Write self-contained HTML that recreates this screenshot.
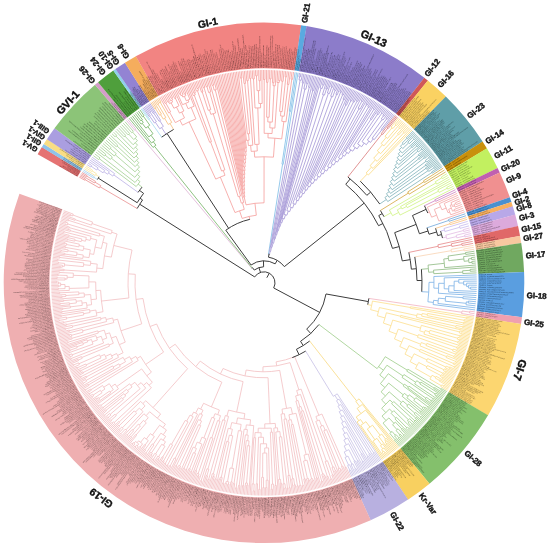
<!DOCTYPE html><html><head><meta charset="utf-8"><style>html,body{margin:0;padding:0;background:#fff;width:550px;height:548px;overflow:hidden}svg{display:block;filter:blur(0.35px)}text{font-family:"Liberation Sans",Arial,sans-serif}</style></head><body>
<svg width="550" height="548" viewBox="0 0 550 548">
<g>
<path d="M37.67 154.23A260.3 260.3 0 0 1 41.89 147.06L80.97 170.95A214.5 214.5 0 0 0 77.49 176.85Z" fill="#e57373"/>
<path d="M41.82 147.18A260.3 260.3 0 0 1 43.81 143.98L82.55 168.4A214.5 214.5 0 0 0 80.91 171.04Z" fill="#8ec3ea"/>
<path d="M43.74 144.09A260.3 260.3 0 0 1 47.01 139.02L85.19 164.32A214.5 214.5 0 0 0 82.49 168.5Z" fill="#f9dd84"/>
<path d="M46.94 139.13A260.3 260.3 0 0 1 54.57 128.22L91.42 155.42A214.5 214.5 0 0 0 85.13 164.41Z" fill="#aa9ee0"/>
<path d="M54.49 128.33A260.3 260.3 0 0 1 95.05 84.78L124.78 119.62A214.5 214.5 0 0 0 91.35 155.51Z" fill="#8cc478"/>
<path d="M94.95 84.87A260.3 260.3 0 0 1 98.18 82.15L127.36 117.45A214.5 214.5 0 0 0 124.69 119.69Z" fill="#d49ec8"/>
<path d="M98.08 82.24A260.3 260.3 0 0 1 113.32 70.54L139.84 107.89A214.5 214.5 0 0 0 127.27 117.52Z" fill="#4f9f3c"/>
<path d="M113.21 70.62A260.3 260.3 0 0 1 115.56 68.98L141.67 106.6A214.5 214.5 0 0 0 139.74 107.96Z" fill="#8fd0ea"/>
<path d="M115.44 69.05A260.3 260.3 0 0 1 125.02 62.71L149.48 101.43A214.5 214.5 0 0 0 141.58 106.66Z" fill="#9383d3"/>
<path d="M124.91 62.78A260.3 260.3 0 0 1 135.94 56.18L158.47 96.05A214.5 214.5 0 0 0 149.38 101.49Z" fill="#f5ad5d"/>
<path d="M135.82 56.25A260.3 260.3 0 0 1 301.26 25.18L294.71 70.51A214.5 214.5 0 0 0 158.38 96.11Z" fill="#f28482"/>
<path d="M301.13 25.16A260.3 260.3 0 0 1 306.65 26.02L299.14 71.2A214.5 214.5 0 0 0 294.59 70.49Z" fill="#5aaae0"/>
<path d="M306.51 26A260.3 260.3 0 0 1 424.36 77.76L396.15 113.84A214.5 214.5 0 0 0 299.03 71.18Z" fill="#8c7cca"/>
<path d="M424.26 77.68A260.3 260.3 0 0 1 427.92 80.59L399.08 116.17A214.5 214.5 0 0 0 396.06 113.77Z" fill="#d05858"/>
<path d="M427.81 80.51A260.3 260.3 0 0 1 445.9 96.6L413.89 129.36A214.5 214.5 0 0 0 398.99 116.1Z" fill="#fad262"/>
<path d="M445.8 96.51A260.3 260.3 0 0 1 482.63 141.53L444.16 166.38A214.5 214.5 0 0 0 413.81 129.28Z" fill="#5f9ea8"/>
<path d="M482.55 141.41A260.3 260.3 0 0 1 486.96 148.46L447.73 172.1A214.5 214.5 0 0 0 444.1 166.29Z" fill="#c8900c"/>
<path d="M486.89 148.35A260.3 260.3 0 0 1 497.62 168L456.51 188.2A214.5 214.5 0 0 0 447.67 172Z" fill="#c2f060"/>
<path d="M497.56 167.88A260.3 260.3 0 0 1 499.78 172.5L458.29 191.91A214.5 214.5 0 0 0 456.46 188.1Z" fill="#c060b0"/>
<path d="M499.72 172.38A260.3 260.3 0 0 1 509.87 197.32L466.61 212.36A214.5 214.5 0 0 0 458.24 191.81Z" fill="#f09090"/>
<path d="M509.82 197.2A260.3 260.3 0 0 1 511.46 202.06L467.92 216.27A214.5 214.5 0 0 0 466.57 212.26Z" fill="#4a90d0"/>
<path d="M511.42 201.93A260.3 260.3 0 0 1 512.83 206.39L469.05 219.84A214.5 214.5 0 0 0 467.89 216.16Z" fill="#f8b060"/>
<path d="M512.79 206.26A260.3 260.3 0 0 1 515.23 214.68L471.03 226.67A214.5 214.5 0 0 0 469.02 219.73Z" fill="#b8a8e8"/>
<path d="M515.19 214.55A260.3 260.3 0 0 1 518.06 226.15L473.36 236.12A214.5 214.5 0 0 0 471 226.56Z" fill="#dcaadc"/>
<path d="M518.03 226.02A260.3 260.3 0 0 1 520.05 235.94L475 244.19A214.5 214.5 0 0 0 473.33 236.01Z" fill="#e06868"/>
<path d="M520.02 235.81A260.3 260.3 0 0 1 521.26 243.11L475.99 250.1A214.5 214.5 0 0 0 474.98 244.08Z" fill="#f8c8a0"/>
<path d="M521.24 242.98A260.3 260.3 0 0 1 524.08 272.04L478.32 273.93A214.5 214.5 0 0 0 475.97 249.98Z" fill="#70a860"/>
<path d="M524.07 271.9A260.3 260.3 0 0 1 522 317.36L476.6 311.28A214.5 214.5 0 0 0 478.31 273.82Z" fill="#5a9ee0"/>
<path d="M522.01 317.23A260.3 260.3 0 0 1 521 324.1L475.78 316.84A214.5 214.5 0 0 0 476.62 311.17Z" fill="#f0a0b0"/>
<path d="M521.02 323.97A260.3 260.3 0 0 1 487.98 415.42L448.57 392.09A214.5 214.5 0 0 0 475.8 316.72Z" fill="#fcd670"/>
<path d="M488.05 415.3A260.3 260.3 0 0 1 429.47 483.74L400.35 448.38A214.5 214.5 0 0 0 448.63 391.99Z" fill="#84c06c"/>
<path d="M429.57 483.65A260.3 260.3 0 0 1 407.93 499.68L382.61 461.52A214.5 214.5 0 0 0 400.44 448.31Z" fill="#f8d060"/>
<path d="M408.05 499.61A260.3 260.3 0 0 1 370.58 520.28L351.83 478.5A214.5 214.5 0 0 0 382.7 461.46Z" fill="#b8b0e0"/>
<path d="M370.7 520.22A260.3 260.3 0 0 1 19.44 193.64L62.47 209.33A214.5 214.5 0 0 0 351.93 478.45Z" fill="#efafb1"/>
</g>
<g transform="translate(264 282.8)" font-size="1.4" fill-opacity="1.0">
<g fill="#402020">
<text transform="rotate(209.78)" dy=".35em" lengthAdjust="spacingAndGlyphs"><tspan x="215.1" textLength="9">WDO2HSODQ</tspan><tspan x="224.1" textLength="11.86" fill-opacity="0.85">2EN2BXH4UES</tspan></text>
<text transform="rotate(210.14)" dy=".35em" lengthAdjust="spacingAndGlyphs"><tspan x="215.1" textLength="9">NPPBBXXSS</tspan><tspan x="224.1" textLength="8.92" fill-opacity="0.85">58WXUWE6</tspan></text>
<text transform="rotate(210.5)" dy=".35em" lengthAdjust="spacingAndGlyphs"><tspan x="215.1" textLength="9">R3KA6BAK6</tspan><tspan x="224.1" textLength="4.49" fill-opacity="0.85">B6Q8</tspan></text>
<text transform="rotate(210.86)" dy=".35em" lengthAdjust="spacingAndGlyphs"><tspan x="215.1" textLength="9">UH3DBGDHD</tspan><tspan x="224.1" textLength="10.68" fill-opacity="0.85">EBNEUWO2OB</tspan></text>
<text transform="rotate(211.22)" dy=".35em" lengthAdjust="spacingAndGlyphs"><tspan x="215.1" textLength="9">3OND5EMMX</tspan><tspan x="224.1" textLength="12.53" fill-opacity="0.85">ASDRA4M686UM</tspan></text>
</g>
<g fill="#283742">
<text transform="rotate(211.6)" dy=".35em" lengthAdjust="spacingAndGlyphs"><tspan x="215.1" textLength="9">6QSHMGE2B</tspan><tspan x="224.1" textLength="11.77" fill-opacity="0.85">3OHRHERAXPP</tspan></text>
<text transform="rotate(212)" dy=".35em" lengthAdjust="spacingAndGlyphs"><tspan x="215.1" textLength="9">NSMDRHH5R</tspan><tspan x="224.1" textLength="12.07" fill-opacity="0.85">OSWOR8Q45QGR</tspan></text>
</g>
<g fill="#463e25">
<text transform="rotate(212.42)" dy=".35em" lengthAdjust="spacingAndGlyphs"><tspan x="215.1" textLength="9">URAUMR4SS</tspan><tspan x="224.1" textLength="6.93" fill-opacity="0.85">DKBE6D</tspan></text>
<text transform="rotate(212.85)" dy=".35em" lengthAdjust="spacingAndGlyphs"><tspan x="215.1" textLength="9">R35AUBQ38</tspan><tspan x="224.1" textLength="11.54" fill-opacity="0.85">4O5SBB4BHBU</tspan></text>
<text transform="rotate(213.28)" dy=".35em" lengthAdjust="spacingAndGlyphs"><tspan x="215.1" textLength="9">DAWRWSWDQ</tspan><tspan x="224.1" textLength="20.2" fill-opacity="0.85">5MHSWH64DWSNU0UEQ0SH</tspan></text>
</g>
<g fill="#302c3f">
<text transform="rotate(213.74)" dy=".35em" lengthAdjust="spacingAndGlyphs"><tspan x="215.1" textLength="9">UQWEHOBEK</tspan><tspan x="224.1" textLength="15" fill-opacity="0.85">X2DBBG4HODE6N5</tspan></text>
<text transform="rotate(214.23)" dy=".35em" lengthAdjust="spacingAndGlyphs"><tspan x="215.1" textLength="9">5BPHHDORS</tspan><tspan x="224.1" textLength="10.09" fill-opacity="0.85">EQWPMBBEN8</tspan></text>
<text transform="rotate(214.71)" dy=".35em" lengthAdjust="spacingAndGlyphs"><tspan x="215.1" textLength="9">R8EMM0R5Q</tspan><tspan x="224.1" textLength="11.31" fill-opacity="0.85">EES36R3HD86</tspan></text>
<text transform="rotate(215.19)" dy=".35em" lengthAdjust="spacingAndGlyphs"><tspan x="215.1" textLength="9">QDON25EPG</tspan><tspan x="224.1" textLength="9.86" fill-opacity="0.85">BQ42QE2R4</tspan></text>
<text transform="rotate(215.67)" dy=".35em" lengthAdjust="spacingAndGlyphs"><tspan x="215.1" textLength="9">55RQWODP6</tspan><tspan x="224.1" textLength="20.49" fill-opacity="0.85">5A5WDOBDPEB3ONWBMMQE</tspan></text>
<text transform="rotate(216.16)" dy=".35em" lengthAdjust="spacingAndGlyphs"><tspan x="215.1" textLength="9">W5OK6BM5Q</tspan><tspan x="224.1" textLength="11.6" fill-opacity="0.85">6RSQRARMHK0</tspan></text>
</g>
<g fill="#273722">
<text transform="rotate(216.7)" dy=".35em" lengthAdjust="spacingAndGlyphs"><tspan x="215.1" textLength="9">KDAMKGRHO</tspan><tspan x="224.1" textLength="13.47" fill-opacity="0.85">O0OP5NRUUHSKX</tspan></text>
<text transform="rotate(217.29)" dy=".35em" lengthAdjust="spacingAndGlyphs"><tspan x="215.1" textLength="9">EK4HOGPBM</tspan><tspan x="224.1" textLength="5.56" fill-opacity="0.85">M8RRB</tspan></text>
<text transform="rotate(217.89)" dy=".35em" lengthAdjust="spacingAndGlyphs"><tspan x="215.1" textLength="9">HP5RS503K</tspan><tspan x="224.1" textLength="23.96" fill-opacity="0.85">235WP2DOEUPDAMEMOSO2EOQ</tspan></text>
<text transform="rotate(218.48)" dy=".35em" lengthAdjust="spacingAndGlyphs"><tspan x="215.1" textLength="9">WDEHRM0OM</tspan><tspan x="224.1" textLength="20.96" fill-opacity="0.85">RXPEB25ABEEPB5MDWEXU</tspan></text>
<text transform="rotate(219.08)" dy=".35em" lengthAdjust="spacingAndGlyphs"><tspan x="215.1" textLength="9">EUWWERQBB</tspan><tspan x="224.1" textLength="13.53" fill-opacity="0.85">MQ6M8OONWRSKD</tspan></text>
<text transform="rotate(219.67)" dy=".35em" lengthAdjust="spacingAndGlyphs"><tspan x="215.1" textLength="9">QR3O4S52E</tspan><tspan x="224.1" textLength="29.53" fill-opacity="0.85">QEBD8HDOQRO85O2SEWD0MGD6UOD5K</tspan></text>
<text transform="rotate(220.27)" dy=".35em" lengthAdjust="spacingAndGlyphs"><tspan x="215.1" textLength="9">S2UXEM4BO</tspan><tspan x="224.1" textLength="16.95" fill-opacity="0.85">HNHSEEWBNK2RMQH2</tspan></text>
<text transform="rotate(220.87)" dy=".35em" lengthAdjust="spacingAndGlyphs"><tspan x="215.1" textLength="9">HH3HN6HEW</tspan><tspan x="224.1" textLength="15.74" fill-opacity="0.85">USGW0M8NMSKXDNB</tspan></text>
<text transform="rotate(221.46)" dy=".35em" lengthAdjust="spacingAndGlyphs"><tspan x="215.1" textLength="9">EWPB6N0OP</tspan><tspan x="224.1" textLength="16.14" fill-opacity="0.85">6QM3G8PPMQ2MM24H</tspan></text>
<text transform="rotate(222.06)" dy=".35em" lengthAdjust="spacingAndGlyphs"><tspan x="215.1" textLength="9">W5DNKH8EB</tspan><tspan x="224.1" textLength="14.37" fill-opacity="0.85">5PDNRDHM4NEP8K</tspan></text>
<text transform="rotate(222.65)" dy=".35em" lengthAdjust="spacingAndGlyphs"><tspan x="215.1" textLength="9">R85EKDDOH</tspan><tspan x="224.1" textLength="13.76" fill-opacity="0.85">PBM3D0WMPDWAB</tspan></text>
<text transform="rotate(223.25)" dy=".35em" lengthAdjust="spacingAndGlyphs"><tspan x="215.1" textLength="9">SN4WSRNMM</tspan><tspan x="224.1" textLength="9.13" fill-opacity="0.85">OA8N0OMSN</tspan></text>
<text transform="rotate(223.84)" dy=".35em" lengthAdjust="spacingAndGlyphs"><tspan x="215.1" textLength="9">SQRBNPHHX</tspan><tspan x="224.1" textLength="9.76" fill-opacity="0.85">BE2QBGOXW</tspan></text>
<text transform="rotate(224.44)" dy=".35em" lengthAdjust="spacingAndGlyphs"><tspan x="215.1" textLength="9">WB2DB2HRG</tspan><tspan x="224.1" textLength="14.11" fill-opacity="0.85">BRR2REENSGN5W8</tspan></text>
<text transform="rotate(225.03)" dy=".35em" lengthAdjust="spacingAndGlyphs"><tspan x="215.1" textLength="9">MWEBNSUED</tspan><tspan x="224.1" textLength="15.59" fill-opacity="0.85">8D6SESQGNHRHDDW</tspan></text>
<text transform="rotate(225.63)" dy=".35em" lengthAdjust="spacingAndGlyphs"><tspan x="215.1" textLength="9">DMBH6B42K</tspan><tspan x="224.1" textLength="14.58" fill-opacity="0.85">EM6BXQWMO2AMGB</tspan></text>
<text transform="rotate(226.23)" dy=".35em" lengthAdjust="spacingAndGlyphs"><tspan x="215.1" textLength="9">WX8E8ND2N</tspan><tspan x="224.1" textLength="15.08" fill-opacity="0.85">X564KSKHU0KHH0M</tspan></text>
<text transform="rotate(226.82)" dy=".35em" lengthAdjust="spacingAndGlyphs"><tspan x="215.1" textLength="9">26H4MAUHD</tspan><tspan x="224.1" textLength="16.28" fill-opacity="0.85">RO5UMW8NAKHRPWK8</tspan></text>
<text transform="rotate(227.42)" dy=".35em" lengthAdjust="spacingAndGlyphs"><tspan x="215.1" textLength="9">E0QNBWSOM</tspan><tspan x="224.1" textLength="15.57" fill-opacity="0.85">ARDNN8UNDNKWX8D</tspan></text>
<text transform="rotate(228.01)" dy=".35em" lengthAdjust="spacingAndGlyphs"><tspan x="215.1" textLength="9">M2GOEBODP</tspan><tspan x="224.1" textLength="17.9" fill-opacity="0.85">BREAKR5DOQBWAER5R</tspan></text>
<text transform="rotate(228.61)" dy=".35em" lengthAdjust="spacingAndGlyphs"><tspan x="215.1" textLength="9">MO5HAKWMH</tspan><tspan x="224.1" textLength="17.21" fill-opacity="0.85">0H24KR4NQMUE2MNBP</tspan></text>
<text transform="rotate(229.2)" dy=".35em" lengthAdjust="spacingAndGlyphs"><tspan x="215.1" textLength="9">RDDD3OEWM</tspan><tspan x="224.1" textLength="13.03" fill-opacity="0.85">HXWNBQWM4QSDH</tspan></text>
</g>
<g fill="#3b2c38">
<text transform="rotate(229.73)" dy=".35em" lengthAdjust="spacingAndGlyphs"><tspan x="215.1" textLength="9">SMEXDHHME</tspan><tspan x="224.1" textLength="11.99" fill-opacity="0.85">BSAR6WMKDXG</tspan></text>
<text transform="rotate(230.17)" dy=".35em" lengthAdjust="spacingAndGlyphs"><tspan x="215.1" textLength="9">QD5BOSOKK</tspan><tspan x="224.1" textLength="9.79" fill-opacity="0.85">EEHRWDR8O</tspan></text>
</g>
<g fill="#162d11">
<text transform="rotate(230.66)" dy=".35em" lengthAdjust="spacingAndGlyphs"><tspan x="215.1" textLength="9">DDBUMM4PD</tspan><tspan x="224.1" textLength="13.37" fill-opacity="0.85">AXR5WM5ONGD6D</tspan></text>
<text transform="rotate(231.19)" dy=".35em" lengthAdjust="spacingAndGlyphs"><tspan x="215.1" textLength="9">N2P3DBEP2</tspan><tspan x="224.1" textLength="24.51" fill-opacity="0.85">QHBBXH0S26HS2EEBD6NNNODW</tspan></text>
<text transform="rotate(231.71)" dy=".35em" lengthAdjust="spacingAndGlyphs"><tspan x="215.1" textLength="9">EE6SKNHXW</tspan><tspan x="224.1" textLength="15.2" fill-opacity="0.85">ENS6DHPOBKRBXOE</tspan></text>
<text transform="rotate(232.24)" dy=".35em" lengthAdjust="spacingAndGlyphs"><tspan x="215.1" textLength="9">ARDA34QRO</tspan><tspan x="224.1" textLength="4.83" fill-opacity="0.85">33D3</tspan></text>
<text transform="rotate(232.76)" dy=".35em" lengthAdjust="spacingAndGlyphs"><tspan x="215.1" textLength="9">23NUPHBOB</tspan><tspan x="224.1" textLength="15.44" fill-opacity="0.85">OEREDHOHWN0OKME</tspan></text>
<text transform="rotate(233.29)" dy=".35em" lengthAdjust="spacingAndGlyphs"><tspan x="215.1" textLength="9">WK4OG63O6</tspan><tspan x="224.1" textLength="7.51" fill-opacity="0.85">6B8WROE</tspan></text>
<text transform="rotate(233.81)" dy=".35em" lengthAdjust="spacingAndGlyphs"><tspan x="215.1" textLength="9">38XOMRBMM</tspan><tspan x="224.1" textLength="13.26" fill-opacity="0.85">NWGUWPRSSNBDR</tspan></text>
<text transform="rotate(234.34)" dy=".35em" lengthAdjust="spacingAndGlyphs"><tspan x="215.1" textLength="9">SX2SH385N</tspan><tspan x="224.1" textLength="15.09" fill-opacity="0.85">W3MBW3RMOOANN5U</tspan></text>
</g>
<g fill="#283a42">
<text transform="rotate(234.75)" dy=".35em" lengthAdjust="spacingAndGlyphs"><tspan x="215.1" textLength="9">EUA3NHAN6</tspan><tspan x="224.1" textLength="7.83" fill-opacity="0.85">K5AHHKK</tspan></text>
<text transform="rotate(235.05)" dy=".35em" lengthAdjust="spacingAndGlyphs"><tspan x="215.1" textLength="9">NSHNOHK0H</tspan><tspan x="224.1" textLength="9.39" fill-opacity="0.85">D5NS8DKOE</tspan></text>
</g>
<g fill="#29253b">
<text transform="rotate(235.38)" dy=".35em" lengthAdjust="spacingAndGlyphs"><tspan x="215.1" textLength="9">ONMEMO46O</tspan><tspan x="224.1" textLength="6.61" fill-opacity="0.85">MEXSPE</tspan></text>
<text transform="rotate(235.74)" dy=".35em" lengthAdjust="spacingAndGlyphs"><tspan x="215.1" textLength="9">W8WKP6HO6</tspan><tspan x="224.1" textLength="9.4" fill-opacity="0.85">NS35S3OQG</tspan></text>
<text transform="rotate(236.09)" dy=".35em" lengthAdjust="spacingAndGlyphs"><tspan x="215.1" textLength="9">PWONN0P2S</tspan><tspan x="224.1" textLength="11.26" fill-opacity="0.85">MN3OSQN63BH</tspan></text>
<text transform="rotate(236.45)" dy=".35em" lengthAdjust="spacingAndGlyphs"><tspan x="215.1" textLength="9">XDAQRW5AH</tspan><tspan x="224.1" textLength="11.04" fill-opacity="0.85">5PWH5HDP5WE</tspan></text>
<text transform="rotate(236.81)" dy=".35em" lengthAdjust="spacingAndGlyphs"><tspan x="215.1" textLength="9">6H5HOAWS8</tspan><tspan x="224.1" textLength="7.66" fill-opacity="0.85">BSRBQOD</tspan></text>
<text transform="rotate(237.16)" dy=".35em" lengthAdjust="spacingAndGlyphs"><tspan x="215.1" textLength="9">QOWSSS2GN</tspan><tspan x="224.1" textLength="5.21" fill-opacity="0.85">EH04B</tspan></text>
<text transform="rotate(237.52)" dy=".35em" lengthAdjust="spacingAndGlyphs"><tspan x="215.1" textLength="9">KSDM60NDN</tspan><tspan x="224.1" textLength="9.64" fill-opacity="0.85">H3WBRMHOB</tspan></text>
</g>
<g fill="#45301a">
<text transform="rotate(237.9)" dy=".35em" lengthAdjust="spacingAndGlyphs"><tspan x="215.1" textLength="9">UONQQ5WKD</tspan><tspan x="224.1" textLength="9.44" fill-opacity="0.85">OXDNSWKAW</tspan></text>
<text transform="rotate(238.3)" dy=".35em" lengthAdjust="spacingAndGlyphs"><tspan x="215.1" textLength="9">MU0GBEMH6</tspan><tspan x="224.1" textLength="4.22" fill-opacity="0.85">WEGS</tspan></text>
<text transform="rotate(238.7)" dy=".35em" lengthAdjust="spacingAndGlyphs"><tspan x="215.1" textLength="9">EWXPGNRHD</tspan><tspan x="224.1" textLength="9.1" fill-opacity="0.85">4OWW4M0MH</tspan></text>
<text transform="rotate(239.1)" dy=".35em" lengthAdjust="spacingAndGlyphs"><tspan x="215.1" textLength="9">NWW83EWSD</tspan><tspan x="224.1" textLength="12.56" fill-opacity="0.85">NMDR5UBRMNBO</tspan></text>
<text transform="rotate(239.5)" dy=".35em" lengthAdjust="spacingAndGlyphs"><tspan x="215.1" textLength="9">8MRRDBHDQ</tspan><tspan x="224.1" textLength="21.51" fill-opacity="0.85">3NAHSGMND0Q5NSKQ0M8NM</tspan></text>
<text transform="rotate(239.9)" dy=".35em" lengthAdjust="spacingAndGlyphs"><tspan x="215.1" textLength="9">8BE6OWMME</tspan><tspan x="224.1" textLength="10.39" fill-opacity="0.85">RSQXN6RM4N</tspan></text>
<text transform="rotate(240.3)" dy=".35em" lengthAdjust="spacingAndGlyphs"><tspan x="215.1" textLength="9">W25M6KE5H</tspan><tspan x="224.1" textLength="12.87" fill-opacity="0.85">NSBMMAXBNO8N</tspan></text>
</g>
<g fill="#442524">
<text transform="rotate(240.71)" dy=".35em" lengthAdjust="spacingAndGlyphs"><tspan x="215.1" textLength="9">ENH0563OS</tspan><tspan x="224.1" textLength="12.76" fill-opacity="0.85">WBSSMSNHWGMO</tspan></text>
<text transform="rotate(241.14)" dy=".35em" lengthAdjust="spacingAndGlyphs"><tspan x="215.1" textLength="9">E6DHNUBNR</tspan><tspan x="224.1" textLength="12.49" fill-opacity="0.85">6ENHKM555M0E</tspan></text>
<text transform="rotate(241.57)" dy=".35em" lengthAdjust="spacingAndGlyphs"><tspan x="215.1" textLength="9">AWSGOOEUD</tspan><tspan x="224.1" textLength="11.8" fill-opacity="0.85">Q8MON4DAOEG</tspan></text>
<text transform="rotate(242)" dy=".35em" lengthAdjust="spacingAndGlyphs"><tspan x="215.1" textLength="9">PROB4UUHB</tspan><tspan x="224.1" textLength="26.17" fill-opacity="0.85">G83WRMWOO5EEWWG2RSDO6NAABS</tspan></text>
<text transform="rotate(242.43)" dy=".35em" lengthAdjust="spacingAndGlyphs"><tspan x="215.1" textLength="9">WRE4QWXE0</tspan><tspan x="224.1" textLength="16.43" fill-opacity="0.85">A80DODEOWN6O2KOB</tspan></text>
<text transform="rotate(242.86)" dy=".35em" lengthAdjust="spacingAndGlyphs"><tspan x="215.1" textLength="9">S46KGU2RB</tspan><tspan x="224.1" textLength="11.59" fill-opacity="0.85">6Q0HXEN5RE3</tspan></text>
<text transform="rotate(243.28)" dy=".35em" lengthAdjust="spacingAndGlyphs"><tspan x="215.1" textLength="9">M28D2RBB8</tspan><tspan x="224.1" textLength="4.07" fill-opacity="0.85">WGB8</tspan></text>
<text transform="rotate(243.71)" dy=".35em" lengthAdjust="spacingAndGlyphs"><tspan x="215.1" textLength="9">5NRBW0B6M</tspan><tspan x="224.1" textLength="11.4" fill-opacity="0.85">02XEX5PXSOR</tspan></text>
<text transform="rotate(244.14)" dy=".35em" lengthAdjust="spacingAndGlyphs"><tspan x="215.1" textLength="9">63MUONBQW</tspan><tspan x="224.1" textLength="12.49" fill-opacity="0.85">B6BSS6E4QAPW</tspan></text>
<text transform="rotate(244.57)" dy=".35em" lengthAdjust="spacingAndGlyphs"><tspan x="215.1" textLength="9">WNDRU5DW4</tspan><tspan x="224.1" textLength="13.07" fill-opacity="0.85">S4G4MB6O2D04E</tspan></text>
<text transform="rotate(245)" dy=".35em" lengthAdjust="spacingAndGlyphs"><tspan x="215.1" textLength="9">QGRRGQHGE</tspan><tspan x="224.1" textLength="11.61" fill-opacity="0.85">WS3ASUDMSE0</tspan></text>
<text transform="rotate(245.43)" dy=".35em" lengthAdjust="spacingAndGlyphs"><tspan x="215.1" textLength="9">H50HRQWUO</tspan><tspan x="224.1" textLength="14.16" fill-opacity="0.85">QRN2280RMONOBR</tspan></text>
<text transform="rotate(245.86)" dy=".35em" lengthAdjust="spacingAndGlyphs"><tspan x="215.1" textLength="9">POEKMNUOD</tspan><tspan x="224.1" textLength="7.71" fill-opacity="0.85">AMWA0SR</tspan></text>
<text transform="rotate(246.28)" dy=".35em" lengthAdjust="spacingAndGlyphs"><tspan x="215.1" textLength="9">8H8BREXW3</tspan><tspan x="224.1" textLength="14.46" fill-opacity="0.85">4602NKRQ0AH3XD</tspan></text>
<text transform="rotate(246.71)" dy=".35em" lengthAdjust="spacingAndGlyphs"><tspan x="215.1" textLength="9">R2852B25N</tspan><tspan x="224.1" textLength="11.88" fill-opacity="0.85">Q3OW4ERNNN6</tspan></text>
<text transform="rotate(247.14)" dy=".35em" lengthAdjust="spacingAndGlyphs"><tspan x="215.1" textLength="9">088UEMMEB</tspan><tspan x="224.1" textLength="12.99" fill-opacity="0.85">O3WGMNB86OPR</tspan></text>
<text transform="rotate(247.57)" dy=".35em" lengthAdjust="spacingAndGlyphs"><tspan x="215.1" textLength="9">64MMMWBOQ</tspan><tspan x="224.1" textLength="15.02" fill-opacity="0.85">6QN6WK2MON2SEWW</tspan></text>
<text transform="rotate(248)" dy=".35em" lengthAdjust="spacingAndGlyphs"><tspan x="215.1" textLength="9">WWDWRDDOG</tspan><tspan x="224.1" textLength="13.61" fill-opacity="0.85">HBOA08R3X0RQ3</tspan></text>
<text transform="rotate(248.43)" dy=".35em" lengthAdjust="spacingAndGlyphs"><tspan x="215.1" textLength="9">5MEOHUH0M</tspan><tspan x="224.1" textLength="3.66" fill-opacity="0.85">WRX</tspan></text>
<text transform="rotate(248.85)" dy=".35em" lengthAdjust="spacingAndGlyphs"><tspan x="215.1" textLength="9">WMU0NRPNS</tspan><tspan x="224.1" textLength="13.68" fill-opacity="0.85">DQOO6KO8D2KS4</tspan></text>
<text transform="rotate(249.28)" dy=".35em" lengthAdjust="spacingAndGlyphs"><tspan x="215.1" textLength="9">6WEBDBS0E</tspan><tspan x="224.1" textLength="12.16" fill-opacity="0.85">WHD4HH0UDAEN</tspan></text>
<text transform="rotate(249.71)" dy=".35em" lengthAdjust="spacingAndGlyphs"><tspan x="215.1" textLength="9">MWQOMWD0G</tspan><tspan x="224.1" textLength="14.76" fill-opacity="0.85">OEE80BSHA46R8S</tspan></text>
<text transform="rotate(250.14)" dy=".35em" lengthAdjust="spacingAndGlyphs"><tspan x="215.1" textLength="9">EO80MRB6M</tspan><tspan x="224.1" textLength="14.69" fill-opacity="0.85">6RASRSQWGN4DWN</tspan></text>
<text transform="rotate(250.57)" dy=".35em" lengthAdjust="spacingAndGlyphs"><tspan x="215.1" textLength="9">DA3DDBMOW</tspan><tspan x="224.1" textLength="11.12" fill-opacity="0.85">0U85XGSPQ5G</tspan></text>
<text transform="rotate(251)" dy=".35em" lengthAdjust="spacingAndGlyphs"><tspan x="215.1" textLength="9">38AE5GQ23</tspan><tspan x="224.1" textLength="11.92" fill-opacity="0.85">KNMNHNDPRHE</tspan></text>
<text transform="rotate(251.42)" dy=".35em" lengthAdjust="spacingAndGlyphs"><tspan x="215.1" textLength="9">3OWWORPKB</tspan><tspan x="224.1" textLength="12.16" fill-opacity="0.85">5P0HEOPNKXNK</tspan></text>
<text transform="rotate(251.85)" dy=".35em" lengthAdjust="spacingAndGlyphs"><tspan x="215.1" textLength="9">WX0MSR6O0</tspan><tspan x="224.1" textLength="10.37" fill-opacity="0.85">PRDRDPH4PE</tspan></text>
<text transform="rotate(252.28)" dy=".35em" lengthAdjust="spacingAndGlyphs"><tspan x="215.1" textLength="9">SBOQRH08B</tspan><tspan x="224.1" textLength="10.54" fill-opacity="0.85">QMODDWNPA8</tspan></text>
<text transform="rotate(252.71)" dy=".35em" lengthAdjust="spacingAndGlyphs"><tspan x="215.1" textLength="9">MA4EKOKKK</tspan><tspan x="224.1" textLength="13.47" fill-opacity="0.85">SRKWRMBE2DWWM</tspan></text>
<text transform="rotate(253.14)" dy=".35em" lengthAdjust="spacingAndGlyphs"><tspan x="215.1" textLength="9">64EHE08PR</tspan><tspan x="224.1" textLength="25.04" fill-opacity="0.85">BWNWHBD3RRRKNK8UWEKD8NOQB</tspan></text>
<text transform="rotate(253.57)" dy=".35em" lengthAdjust="spacingAndGlyphs"><tspan x="215.1" textLength="9">OD2EBOEOW</tspan><tspan x="224.1" textLength="11.51" fill-opacity="0.85">Q840DOX2WUW</tspan></text>
<text transform="rotate(253.99)" dy=".35em" lengthAdjust="spacingAndGlyphs"><tspan x="215.1" textLength="9">QD4QXB0DM</tspan><tspan x="224.1" textLength="13.22" fill-opacity="0.85">RRE3UAN83WDDU</tspan></text>
<text transform="rotate(254.42)" dy=".35em" lengthAdjust="spacingAndGlyphs"><tspan x="215.1" textLength="9">R2AHSW53R</tspan><tspan x="224.1" textLength="13.87" fill-opacity="0.85">ONKOWP3D4HN0Q</tspan></text>
<text transform="rotate(254.85)" dy=".35em" lengthAdjust="spacingAndGlyphs"><tspan x="215.1" textLength="9">US3DWMDE4</tspan><tspan x="224.1" textLength="11.49" fill-opacity="0.85">AH0DOBO8SOA</tspan></text>
<text transform="rotate(255.28)" dy=".35em" lengthAdjust="spacingAndGlyphs"><tspan x="215.1" textLength="9">REM6RXM3E</tspan><tspan x="224.1" textLength="12.59" fill-opacity="0.85">KDAMD3WN3P3R</tspan></text>
<text transform="rotate(255.71)" dy=".35em" lengthAdjust="spacingAndGlyphs"><tspan x="215.1" textLength="9">MSDKP34MO</tspan><tspan x="224.1" textLength="17.07" fill-opacity="0.85">E5GNM2MPXD0S24ESO</tspan></text>
<text transform="rotate(256.14)" dy=".35em" lengthAdjust="spacingAndGlyphs"><tspan x="215.1" textLength="9">EP4BMSASG</tspan><tspan x="224.1" textLength="14.36" fill-opacity="0.85">KEO5UDRSWDNRKA</tspan></text>
<text transform="rotate(256.57)" dy=".35em" lengthAdjust="spacingAndGlyphs"><tspan x="215.1" textLength="9">NB6SQNHBD</tspan><tspan x="224.1" textLength="11.51" fill-opacity="0.85">R322URU3MRN</tspan></text>
<text transform="rotate(256.99)" dy=".35em" lengthAdjust="spacingAndGlyphs"><tspan x="215.1" textLength="9">HWERUDWB5</tspan><tspan x="224.1" textLength="15.11" fill-opacity="0.85">XGBPN3RMOASKXNW</tspan></text>
<text transform="rotate(257.42)" dy=".35em" lengthAdjust="spacingAndGlyphs"><tspan x="215.1" textLength="9">ROKR4KRMN</tspan><tspan x="224.1" textLength="14.84" fill-opacity="0.85">M3MO00QMRKGO68</tspan></text>
<text transform="rotate(257.85)" dy=".35em" lengthAdjust="spacingAndGlyphs"><tspan x="215.1" textLength="9">PD4BKNE0O</tspan><tspan x="224.1" textLength="10.4" fill-opacity="0.85">MR2AMGXUB8</tspan></text>
<text transform="rotate(258.28)" dy=".35em" lengthAdjust="spacingAndGlyphs"><tspan x="215.1" textLength="9">WRWK8M5R3</tspan><tspan x="224.1" textLength="11.45" fill-opacity="0.85">B3DDWHEPE6S</tspan></text>
<text transform="rotate(258.71)" dy=".35em" lengthAdjust="spacingAndGlyphs"><tspan x="215.1" textLength="9">PAH2AG226</tspan><tspan x="224.1" textLength="5.17" fill-opacity="0.85">RPWXG</tspan></text>
<text transform="rotate(259.14)" dy=".35em" lengthAdjust="spacingAndGlyphs"><tspan x="215.1" textLength="9">S6MEM4ARM</tspan><tspan x="224.1" textLength="14.28" fill-opacity="0.85">XDQARWDGES56NM</tspan></text>
<text transform="rotate(259.56)" dy=".35em" lengthAdjust="spacingAndGlyphs"><tspan x="215.1" textLength="9">NMDEAMN4S</tspan><tspan x="224.1" textLength="18" fill-opacity="0.85">DGHE4NSWESBDXRMW3P</tspan></text>
<text transform="rotate(259.99)" dy=".35em" lengthAdjust="spacingAndGlyphs"><tspan x="215.1" textLength="9">6E5HNUP5P</tspan><tspan x="224.1" textLength="14.05" fill-opacity="0.85">B2WNS2RRSP00R6</tspan></text>
<text transform="rotate(260.42)" dy=".35em" lengthAdjust="spacingAndGlyphs"><tspan x="215.1" textLength="9">8MWUEU6RO</tspan><tspan x="224.1" textLength="11.42" fill-opacity="0.85">H44R6HBM0WW</tspan></text>
<text transform="rotate(260.85)" dy=".35em" lengthAdjust="spacingAndGlyphs"><tspan x="215.1" textLength="9">XS0WAUGOD</tspan><tspan x="224.1" textLength="11.65" fill-opacity="0.85">BUOSBGSH2WB</tspan></text>
<text transform="rotate(261.28)" dy=".35em" lengthAdjust="spacingAndGlyphs"><tspan x="215.1" textLength="9">KKRXPMXGM</tspan><tspan x="224.1" textLength="11.56" fill-opacity="0.85">ORUNAB446MN</tspan></text>
<text transform="rotate(261.71)" dy=".35em" lengthAdjust="spacingAndGlyphs"><tspan x="215.1" textLength="9">B5AMORBQ5</tspan><tspan x="224.1" textLength="9.06" fill-opacity="0.85">XKEMW2SUA</tspan></text>
<text transform="rotate(262.13)" dy=".35em" lengthAdjust="spacingAndGlyphs"><tspan x="215.1" textLength="9">MHB3H6OBM</tspan><tspan x="224.1" textLength="10.46" fill-opacity="0.85">SAHBD6DUHB</tspan></text>
<text transform="rotate(262.56)" dy=".35em" lengthAdjust="spacingAndGlyphs"><tspan x="215.1" textLength="9">O2BSMWWSQ</tspan><tspan x="224.1" textLength="19.42" fill-opacity="0.85">38NQH33S56SW4XEWRE6</tspan></text>
<text transform="rotate(262.99)" dy=".35em" lengthAdjust="spacingAndGlyphs"><tspan x="215.1" textLength="9">SQDOSG4SM</tspan><tspan x="224.1" textLength="15.01" fill-opacity="0.85">5BWRRDBEP4OGN6W</tspan></text>
<text transform="rotate(263.42)" dy=".35em" lengthAdjust="spacingAndGlyphs"><tspan x="215.1" textLength="9">MW88POGX2</tspan><tspan x="224.1" textLength="8.27" fill-opacity="0.85">DEDWSGHA</tspan></text>
<text transform="rotate(263.85)" dy=".35em" lengthAdjust="spacingAndGlyphs"><tspan x="215.1" textLength="9">DWQKDA0NQ</tspan><tspan x="224.1" textLength="21.96" fill-opacity="0.85">SWWWQHWOS2BOEWESQMGNO</tspan></text>
<text transform="rotate(264.28)" dy=".35em" lengthAdjust="spacingAndGlyphs"><tspan x="215.1" textLength="9">W3UW2EMUO</tspan><tspan x="224.1" textLength="11.53" fill-opacity="0.85">EXKMSHEGMWR</tspan></text>
<text transform="rotate(264.71)" dy=".35em" lengthAdjust="spacingAndGlyphs"><tspan x="215.1" textLength="9">3W38QKPOA</tspan><tspan x="224.1" textLength="11.78" fill-opacity="0.85">ORODMHD6N33</tspan></text>
<text transform="rotate(265.13)" dy=".35em" lengthAdjust="spacingAndGlyphs"><tspan x="215.1" textLength="9">AN3WQNP55</tspan><tspan x="224.1" textLength="24.87" fill-opacity="0.85">O6DPQNDU434GHGUEKOSEHEM5</tspan></text>
<text transform="rotate(265.56)" dy=".35em" lengthAdjust="spacingAndGlyphs"><tspan x="215.1" textLength="9">EHBBDSWHM</tspan><tspan x="224.1" textLength="14.42" fill-opacity="0.85">PW5D0NHUKADEHD</tspan></text>
<text transform="rotate(265.99)" dy=".35em" lengthAdjust="spacingAndGlyphs"><tspan x="215.1" textLength="9">DPMPS6N0X</tspan><tspan x="224.1" textLength="9.11" fill-opacity="0.85">HDO3KRPES</tspan></text>
<text transform="rotate(266.42)" dy=".35em" lengthAdjust="spacingAndGlyphs"><tspan x="215.1" textLength="9">KS65XR2UR</tspan><tspan x="224.1" textLength="13.83" fill-opacity="0.85">M3REOWAWSWE2W</tspan></text>
<text transform="rotate(266.85)" dy=".35em" lengthAdjust="spacingAndGlyphs"><tspan x="215.1" textLength="9">E6U0OGE6O</tspan><tspan x="224.1" textLength="12.88" fill-opacity="0.85">XDGKHASNHHHW</tspan></text>
<text transform="rotate(267.28)" dy=".35em" lengthAdjust="spacingAndGlyphs"><tspan x="215.1" textLength="9">SSU04XOBQ</tspan><tspan x="224.1" textLength="13.08" fill-opacity="0.85">84XH2Q0WDOS3H</tspan></text>
<text transform="rotate(267.7)" dy=".35em" lengthAdjust="spacingAndGlyphs"><tspan x="215.1" textLength="9">DQARDU38R</tspan><tspan x="224.1" textLength="14.47" fill-opacity="0.85">H5OHUE5HONMPR0</tspan></text>
<text transform="rotate(268.13)" dy=".35em" lengthAdjust="spacingAndGlyphs"><tspan x="215.1" textLength="9">20SQ6H5NH</tspan><tspan x="224.1" textLength="14.93" fill-opacity="0.85">RDR0N8DPBDR53D</tspan></text>
<text transform="rotate(268.56)" dy=".35em" lengthAdjust="spacingAndGlyphs"><tspan x="215.1" textLength="9">B3BOUOB2A</tspan><tspan x="224.1" textLength="11.39" fill-opacity="0.85">HA8UMAMRWSE</tspan></text>
<text transform="rotate(268.99)" dy=".35em" lengthAdjust="spacingAndGlyphs"><tspan x="215.1" textLength="9">UQ5GNEGAU</tspan><tspan x="224.1" textLength="22.78" fill-opacity="0.85">A02OXQ6BHEON5MOEKKM865</tspan></text>
<text transform="rotate(269.42)" dy=".35em" lengthAdjust="spacingAndGlyphs"><tspan x="215.1" textLength="9">NN0WXOWBG</tspan><tspan x="224.1" textLength="6.04" fill-opacity="0.85">AUSM6S</tspan></text>
<text transform="rotate(269.85)" dy=".35em" lengthAdjust="spacingAndGlyphs"><tspan x="215.1" textLength="9">PABS68BAA</tspan><tspan x="224.1" textLength="13.57" fill-opacity="0.85">QSXH8WDGOMHBN</tspan></text>
<text transform="rotate(270.27)" dy=".35em" lengthAdjust="spacingAndGlyphs"><tspan x="215.1" textLength="9">GURBHM4OA</tspan><tspan x="224.1" textLength="3.91" fill-opacity="0.85">EGM</tspan></text>
<text transform="rotate(270.7)" dy=".35em" lengthAdjust="spacingAndGlyphs"><tspan x="215.1" textLength="9">3NNOEEWBO</tspan><tspan x="224.1" textLength="12.96" fill-opacity="0.85">U3QNDWB3RXWN</tspan></text>
<text transform="rotate(271.13)" dy=".35em" lengthAdjust="spacingAndGlyphs"><tspan x="215.1" textLength="9">KEXNOQM2U</tspan><tspan x="224.1" textLength="11.81" fill-opacity="0.85">RS5REOHGNHA</tspan></text>
<text transform="rotate(271.56)" dy=".35em" lengthAdjust="spacingAndGlyphs"><tspan x="215.1" textLength="9">NSNOBXBEE</tspan><tspan x="224.1" textLength="23.23" fill-opacity="0.85">0B3MOBEQRQN3OSBE5MDW6UB</tspan></text>
<text transform="rotate(271.99)" dy=".35em" lengthAdjust="spacingAndGlyphs"><tspan x="215.1" textLength="9">GSE3D3WPU</tspan><tspan x="224.1" textLength="23.51" fill-opacity="0.85">AA8OHKSSAMBNPK53DKBQR8S</tspan></text>
<text transform="rotate(272.42)" dy=".35em" lengthAdjust="spacingAndGlyphs"><tspan x="215.1" textLength="9">ASSD2BSHN</tspan><tspan x="224.1" textLength="7.79" fill-opacity="0.85">HMR6M3B</tspan></text>
<text transform="rotate(272.84)" dy=".35em" lengthAdjust="spacingAndGlyphs"><tspan x="215.1" textLength="9">WWDWOMHRN</tspan><tspan x="224.1" textLength="14.93" fill-opacity="0.85">N2ED2SOEMRWM2H</tspan></text>
<text transform="rotate(273.27)" dy=".35em" lengthAdjust="spacingAndGlyphs"><tspan x="215.1" textLength="9">E2NE4BO3O</tspan><tspan x="224.1" textLength="14.15" fill-opacity="0.85">NNWHGRH36K6OSW</tspan></text>
<text transform="rotate(273.7)" dy=".35em" lengthAdjust="spacingAndGlyphs"><tspan x="215.1" textLength="9">4MOSHN4KB</tspan><tspan x="224.1" textLength="14.28" fill-opacity="0.85">RO6MD3EMSX26E6</tspan></text>
<text transform="rotate(274.13)" dy=".35em" lengthAdjust="spacingAndGlyphs"><tspan x="215.1" textLength="9">SOEDMKSX3</tspan><tspan x="224.1" textLength="10.9" fill-opacity="0.85">4XEAQGNNDH</tspan></text>
<text transform="rotate(274.56)" dy=".35em" lengthAdjust="spacingAndGlyphs"><tspan x="215.1" textLength="9">UBON52E4R</tspan><tspan x="224.1" textLength="12.92" fill-opacity="0.85">8GD32NEEDMOX</tspan></text>
<text transform="rotate(274.99)" dy=".35em" lengthAdjust="spacingAndGlyphs"><tspan x="215.1" textLength="9">NWX3GMDBD</tspan><tspan x="224.1" textLength="11.97" fill-opacity="0.85">OWA0WAG4O2A</tspan></text>
<text transform="rotate(275.42)" dy=".35em" lengthAdjust="spacingAndGlyphs"><tspan x="215.1" textLength="9">0XPEXESRN</tspan><tspan x="224.1" textLength="13.4" fill-opacity="0.85">QNSGESUB0SSM3</tspan></text>
<text transform="rotate(275.84)" dy=".35em" lengthAdjust="spacingAndGlyphs"><tspan x="215.1" textLength="9">DSDDPD8GN</tspan><tspan x="224.1" textLength="9.14" fill-opacity="0.85">KDKXS3GDR</tspan></text>
<text transform="rotate(276.27)" dy=".35em" lengthAdjust="spacingAndGlyphs"><tspan x="215.1" textLength="9">B3POXWOMS</tspan><tspan x="224.1" textLength="12.12" fill-opacity="0.85">B8D8WQDHEBDO</tspan></text>
<text transform="rotate(276.7)" dy=".35em" lengthAdjust="spacingAndGlyphs"><tspan x="215.1" textLength="9">DUBHHGOWQ</tspan><tspan x="224.1" textLength="10.91" fill-opacity="0.85">DWDXP3WUU2</tspan></text>
<text transform="rotate(277.13)" dy=".35em" lengthAdjust="spacingAndGlyphs"><tspan x="215.1" textLength="9">MRNS5BHM6</tspan><tspan x="224.1" textLength="9.17" fill-opacity="0.85">DNBEU3DBN</tspan></text>
<text transform="rotate(277.56)" dy=".35em" lengthAdjust="spacingAndGlyphs"><tspan x="215.1" textLength="9">N6H2RU0PX</tspan><tspan x="224.1" textLength="13.62" fill-opacity="0.85">RRNERXMANODRE</tspan></text>
<text transform="rotate(277.99)" dy=".35em" lengthAdjust="spacingAndGlyphs"><tspan x="215.1" textLength="9">64Q0K3A2Q</tspan><tspan x="224.1" textLength="11.62" fill-opacity="0.85">2WWBHNA3HSA</tspan></text>
</g>
<g fill="#19303f">
<text transform="rotate(278.4)" dy=".35em" lengthAdjust="spacingAndGlyphs"><tspan x="215.1" textLength="9">SEP8ASRRS</tspan><tspan x="224.1" textLength="12.32" fill-opacity="0.85">USO8SUX2DRQO</tspan></text>
<text transform="rotate(278.8)" dy=".35em" lengthAdjust="spacingAndGlyphs"><tspan x="215.1" textLength="9">KDXR24NEB</tspan><tspan x="224.1" textLength="5.94" fill-opacity="0.85">UEWW5</tspan></text>
<text transform="rotate(279.2)" x="215.1" dy=".35em" textLength="11.72" lengthAdjust="spacingAndGlyphs">GWBHDP0NAHA</text>
</g>
<g fill="#272339">
<text transform="rotate(279.6)" dy=".35em" lengthAdjust="spacingAndGlyphs"><tspan x="215.1" textLength="9">QMH5PNQ0W</tspan><tspan x="224.1" textLength="24.5" fill-opacity="0.85">NHDQNMMP5OMMSDMUB5UOUONS</tspan></text>
<text transform="rotate(280)" dy=".35em" lengthAdjust="spacingAndGlyphs"><tspan x="215.1" textLength="9">KDMNURO0S</tspan><tspan x="224.1" textLength="13.41" fill-opacity="0.85">3O4N5SB0OPAEO</tspan></text>
<text transform="rotate(280.41)" dy=".35em" lengthAdjust="spacingAndGlyphs"><tspan x="215.1" textLength="9">KESUXHOHA</tspan><tspan x="224.1" textLength="12.5" fill-opacity="0.85">BH0GKW0DMENW</tspan></text>
<text transform="rotate(280.81)" dy=".35em" lengthAdjust="spacingAndGlyphs"><tspan x="215.1" textLength="9">B2NOEGD6D</tspan><tspan x="224.1" textLength="14.37" fill-opacity="0.85">WQMESN6EWNDWW4</tspan></text>
<text transform="rotate(281.21)" dy=".35em" lengthAdjust="spacingAndGlyphs"><tspan x="215.1" textLength="9">5HP0MS4DN</tspan><tspan x="224.1" textLength="13.72" fill-opacity="0.85">WGBRNMO08HWE5</tspan></text>
<text transform="rotate(281.62)" dy=".35em" lengthAdjust="spacingAndGlyphs"><tspan x="215.1" textLength="9">ADNSRNDSE</tspan><tspan x="224.1" textLength="23.77" fill-opacity="0.85">OX6XKQRODN5REMXSR2B0MWN</tspan></text>
<text transform="rotate(282.02)" dy=".35em" lengthAdjust="spacingAndGlyphs"><tspan x="215.1" textLength="9">8REPSSXE0</tspan><tspan x="224.1" textLength="23.33" fill-opacity="0.85">MHB8M6EO4MWORP4MQMNDNSE</tspan></text>
<text transform="rotate(282.42)" dy=".35em" lengthAdjust="spacingAndGlyphs"><tspan x="215.1" textLength="9">PO4NRSMOB</tspan><tspan x="224.1" textLength="16.02" fill-opacity="0.85">M402MO8BMUSMHQWO</tspan></text>
<text transform="rotate(282.82)" dy=".35em" lengthAdjust="spacingAndGlyphs"><tspan x="215.1" textLength="9">UO3WKH4HP</tspan><tspan x="224.1" textLength="4.75" fill-opacity="0.85">8S8A</tspan></text>
<text transform="rotate(283.23)" dy=".35em" lengthAdjust="spacingAndGlyphs"><tspan x="215.1" textLength="9">O4SSBXHOE</tspan><tspan x="224.1" textLength="14.89" fill-opacity="0.85">NAB8R3NB8UDS3K</tspan></text>
<text transform="rotate(283.63)" dy=".35em" lengthAdjust="spacingAndGlyphs"><tspan x="215.1" textLength="9">2OWSBQ30B</tspan><tspan x="224.1" textLength="17.23" fill-opacity="0.85">3BS6HBS2BXBE4RKM4</tspan></text>
<text transform="rotate(284.03)" dy=".35em" lengthAdjust="spacingAndGlyphs"><tspan x="215.1" textLength="9">NQOMKWWNO</tspan><tspan x="224.1" textLength="15.57" fill-opacity="0.85">2KPS8WS8GS06P86</tspan></text>
<text transform="rotate(284.44)" dy=".35em" lengthAdjust="spacingAndGlyphs"><tspan x="215.1" textLength="9">RNOANR883</tspan><tspan x="224.1" textLength="12.96" fill-opacity="0.85">A8XK6QNNM48K</tspan></text>
<text transform="rotate(284.84)" dy=".35em" lengthAdjust="spacingAndGlyphs"><tspan x="215.1" textLength="9">RHWDSEBHR</tspan><tspan x="224.1" textLength="13.84" fill-opacity="0.85">8MSKNAHDBMHRN</tspan></text>
<text transform="rotate(285.24)" dy=".35em" lengthAdjust="spacingAndGlyphs"><tspan x="215.1" textLength="9">U2DAWR04A</tspan><tspan x="224.1" textLength="21.48" fill-opacity="0.85">SMS5B8RBWKXNSSDBXNWOM</tspan></text>
<text transform="rotate(285.64)" dy=".35em" lengthAdjust="spacingAndGlyphs"><tspan x="215.1" textLength="9">MMWOPGAXM</tspan><tspan x="224.1" textLength="14.98" fill-opacity="0.85">ARSM82WM2SGM5W</tspan></text>
<text transform="rotate(286.05)" dy=".35em" lengthAdjust="spacingAndGlyphs"><tspan x="215.1" textLength="9">60NDR0AA8</tspan><tspan x="224.1" textLength="5.08" fill-opacity="0.85">HSRES</tspan></text>
<text transform="rotate(286.45)" dy=".35em" lengthAdjust="spacingAndGlyphs"><tspan x="215.1" textLength="9">WMOK3XKHR</tspan><tspan x="224.1" textLength="16.77" fill-opacity="0.85">EMRWKWX58DN30SBH</tspan></text>
<text transform="rotate(286.85)" dy=".35em" lengthAdjust="spacingAndGlyphs"><tspan x="215.1" textLength="9">DSMQM5B2P</tspan><tspan x="224.1" textLength="13.28" fill-opacity="0.85">PUA4PROMAA2R5</tspan></text>
<text transform="rotate(287.25)" dy=".35em" lengthAdjust="spacingAndGlyphs"><tspan x="215.1" textLength="9">DWO66MBKH</tspan><tspan x="224.1" textLength="14.56" fill-opacity="0.85">S48RRH5NMDDNB4</tspan></text>
<text transform="rotate(287.66)" dy=".35em" lengthAdjust="spacingAndGlyphs"><tspan x="215.1" textLength="9">MOPSPE42Q</tspan><tspan x="224.1" textLength="13.68" fill-opacity="0.85">5UWNHNN2ESP5D</tspan></text>
<text transform="rotate(288.06)" dy=".35em" lengthAdjust="spacingAndGlyphs"><tspan x="215.1" textLength="9">UO568NREX</tspan><tspan x="224.1" textLength="16.33" fill-opacity="0.85">5MOKQBDMKHEA3SSD</tspan></text>
<text transform="rotate(288.46)" dy=".35em" lengthAdjust="spacingAndGlyphs"><tspan x="215.1" textLength="9">HOBWNRRUH</tspan><tspan x="224.1" textLength="15.89" fill-opacity="0.85">3MQNGK36EGW2482</tspan></text>
<text transform="rotate(288.87)" dy=".35em" lengthAdjust="spacingAndGlyphs"><tspan x="215.1" textLength="9">S88HBW66A</tspan><tspan x="224.1" textLength="12.14" fill-opacity="0.85">DWRGDND8R0X5</tspan></text>
<text transform="rotate(289.27)" dy=".35em" lengthAdjust="spacingAndGlyphs"><tspan x="215.1" textLength="9">BQWHSEEBO</tspan><tspan x="224.1" textLength="20.66" fill-opacity="0.85">NNOEOHR63EPSBPMEOESX</tspan></text>
<text transform="rotate(289.67)" dy=".35em" lengthAdjust="spacingAndGlyphs"><tspan x="215.1" textLength="9">GBGDWH6OK</tspan><tspan x="224.1" textLength="16.12" fill-opacity="0.85">HRQ8X6DBN6OS6MRO</tspan></text>
<text transform="rotate(290.07)" dy=".35em" lengthAdjust="spacingAndGlyphs"><tspan x="215.1" textLength="9">EXXESSPDH</tspan><tspan x="224.1" textLength="14.49" fill-opacity="0.85">KONDDQ6WGPS5EU</tspan></text>
<text transform="rotate(290.48)" dy=".35em" lengthAdjust="spacingAndGlyphs"><tspan x="215.1" textLength="9">MH3WOUOER</tspan><tspan x="224.1" textLength="7.24" fill-opacity="0.85">DR4SA8B</tspan></text>
<text transform="rotate(290.88)" dy=".35em" lengthAdjust="spacingAndGlyphs"><tspan x="215.1" textLength="9">4QAD5MWD2</tspan><tspan x="224.1" textLength="17.38" fill-opacity="0.85">MKPEHED35DXSMSU8W</tspan></text>
<text transform="rotate(291.28)" dy=".35em" lengthAdjust="spacingAndGlyphs"><tspan x="215.1" textLength="9">ASHRDM6MW</tspan><tspan x="224.1" textLength="8.76" fill-opacity="0.85">P283UOSM</tspan></text>
<text transform="rotate(291.69)" dy=".35em" lengthAdjust="spacingAndGlyphs"><tspan x="215.1" textLength="9">E2POGWDHA</tspan><tspan x="224.1" textLength="13.39" fill-opacity="0.85">OM6DGEMGW0EPQ</tspan></text>
<text transform="rotate(292.09)" dy=".35em" lengthAdjust="spacingAndGlyphs"><tspan x="215.1" textLength="9">BHNBHP83X</tspan><tspan x="224.1" textLength="4.78" fill-opacity="0.85">XOWN</tspan></text>
<text transform="rotate(292.49)" dy=".35em" lengthAdjust="spacingAndGlyphs"><tspan x="215.1" textLength="9">NDMRRDEHN</tspan><tspan x="224.1" textLength="9.53" fill-opacity="0.85">UAXRESWNG</tspan></text>
<text transform="rotate(292.89)" dy=".35em" lengthAdjust="spacingAndGlyphs"><tspan x="215.1" textLength="9">Q05DOOAWS</tspan><tspan x="224.1" textLength="17.21" fill-opacity="0.85">SE4A8OQKME6W33M5P</tspan></text>
<text transform="rotate(293.3)" dy=".35em" lengthAdjust="spacingAndGlyphs"><tspan x="215.1" textLength="9">OXSOK2W0U</tspan><tspan x="224.1" textLength="15.2" fill-opacity="0.85">506R8R5NPBOAX3B</tspan></text>
<text transform="rotate(293.7)" dy=".35em" lengthAdjust="spacingAndGlyphs"><tspan x="215.1" textLength="9">XWXE3H2HB</tspan><tspan x="224.1" textLength="16.83" fill-opacity="0.85">KGNNSHNXW8QP52DR</tspan></text>
<text transform="rotate(294.1)" dy=".35em" lengthAdjust="spacingAndGlyphs"><tspan x="215.1" textLength="9">RRWR63B4M</tspan><tspan x="224.1" textLength="15.27" fill-opacity="0.85">DBDODWXBBW5ONB8</tspan></text>
<text transform="rotate(294.51)" dy=".35em" lengthAdjust="spacingAndGlyphs"><tspan x="215.1" textLength="9">SPDMO2U50</tspan><tspan x="224.1" textLength="12.18" fill-opacity="0.85">GHE3R83OOO6G</tspan></text>
<text transform="rotate(294.91)" dy=".35em" lengthAdjust="spacingAndGlyphs"><tspan x="215.1" textLength="9">UO3MRSM4E</tspan><tspan x="224.1" textLength="15.21" fill-opacity="0.85">GHSHEEHDDOEN68B</tspan></text>
<text transform="rotate(295.31)" dy=".35em" lengthAdjust="spacingAndGlyphs"><tspan x="215.1" textLength="9">WSW3RB60O</tspan><tspan x="224.1" textLength="12.84" fill-opacity="0.85">QS52NGHDDEGD</tspan></text>
<text transform="rotate(295.71)" dy=".35em" lengthAdjust="spacingAndGlyphs"><tspan x="215.1" textLength="9">2D2D533K8</tspan><tspan x="224.1" textLength="29.19" fill-opacity="0.85">0SH3XHHBSSU0WB0UMWSBMDPDNHHPO</tspan></text>
<text transform="rotate(296.12)" dy=".35em" lengthAdjust="spacingAndGlyphs"><tspan x="215.1" textLength="9">M8QRAOBW5</tspan><tspan x="224.1" textLength="14.36" fill-opacity="0.85">N5HQWQABDSGS0Q</tspan></text>
<text transform="rotate(296.52)" dy=".35em" lengthAdjust="spacingAndGlyphs"><tspan x="215.1" textLength="9">3RH84R2WD</tspan><tspan x="224.1" textLength="15.5" fill-opacity="0.85">SHBRDE22SQ0OOWM</tspan></text>
<text transform="rotate(296.92)" dy=".35em" lengthAdjust="spacingAndGlyphs"><tspan x="215.1" textLength="9">M8G6HR8UN</tspan><tspan x="224.1" textLength="13.42" fill-opacity="0.85">KK0EGNNWB2E43</tspan></text>
<text transform="rotate(297.33)" dy=".35em" lengthAdjust="spacingAndGlyphs"><tspan x="215.1" textLength="9">RS5RE6DKX</tspan><tspan x="224.1" textLength="9.25" fill-opacity="0.85">ONRSDAXEU</tspan></text>
<text transform="rotate(297.73)" dy=".35em" lengthAdjust="spacingAndGlyphs"><tspan x="215.1" textLength="9">NW6BRH046</tspan><tspan x="224.1" textLength="16.94" fill-opacity="0.85">O62PXAHPGU5EMHDN</tspan></text>
<text transform="rotate(298.13)" dy=".35em" lengthAdjust="spacingAndGlyphs"><tspan x="215.1" textLength="9">BHQX5HSWE</tspan><tspan x="224.1" textLength="17.25" fill-opacity="0.85">BMEGO6E0WAD565P2S</tspan></text>
<text transform="rotate(298.53)" dy=".35em" lengthAdjust="spacingAndGlyphs"><tspan x="215.1" textLength="9">BPG62O0GX</tspan><tspan x="224.1" textLength="10.64" fill-opacity="0.85">R0X0X8UHOQ</tspan></text>
<text transform="rotate(298.94)" dy=".35em" lengthAdjust="spacingAndGlyphs"><tspan x="215.1" textLength="9">D4HR04GOS</tspan><tspan x="224.1" textLength="20.48" fill-opacity="0.85">5HPGN43SPB0DBEO5EAG0</tspan></text>
<text transform="rotate(299.34)" dy=".35em" lengthAdjust="spacingAndGlyphs"><tspan x="215.1" textLength="9">RRHGN6SDP</tspan><tspan x="224.1" textLength="12.53" fill-opacity="0.85">D8X2QWESGADD</tspan></text>
<text transform="rotate(299.74)" dy=".35em" lengthAdjust="spacingAndGlyphs"><tspan x="215.1" textLength="9">UNGBR2HDB</tspan><tspan x="224.1" textLength="14.31" fill-opacity="0.85">HDORM63OEW000A</tspan></text>
<text transform="rotate(300.15)" dy=".35em" lengthAdjust="spacingAndGlyphs"><tspan x="215.1" textLength="9">GDDHBHBBH</tspan><tspan x="224.1" textLength="15.47" fill-opacity="0.85">NKKD4DGPNR8B5EH</tspan></text>
<text transform="rotate(300.55)" dy=".35em" lengthAdjust="spacingAndGlyphs"><tspan x="215.1" textLength="9">DEUPWHGD5</tspan><tspan x="224.1" textLength="14.99" fill-opacity="0.85">WMDUWBX485XNKH</tspan></text>
<text transform="rotate(300.95)" dy=".35em" lengthAdjust="spacingAndGlyphs"><tspan x="215.1" textLength="9">0GKK8KDBU</tspan><tspan x="224.1" textLength="14.14" fill-opacity="0.85">6AOPBOXEHQ8NOB</tspan></text>
<text transform="rotate(301.35)" dy=".35em" lengthAdjust="spacingAndGlyphs"><tspan x="215.1" textLength="9">OUWDONHKB</tspan><tspan x="224.1" textLength="13.46" fill-opacity="0.85">XROS26DHDE0AH</tspan></text>
<text transform="rotate(301.76)" dy=".35em" lengthAdjust="spacingAndGlyphs"><tspan x="215.1" textLength="9">4POMOXQ6P</tspan><tspan x="224.1" textLength="17.22" fill-opacity="0.85">6SSH2NOEN8N4W0RP4</tspan></text>
<text transform="rotate(302.16)" dy=".35em" lengthAdjust="spacingAndGlyphs"><tspan x="215.1" textLength="9">N52HN36MU</tspan><tspan x="224.1" textLength="4.76" fill-opacity="0.85">RQ2Q</tspan></text>
<text transform="rotate(302.56)" dy=".35em" lengthAdjust="spacingAndGlyphs"><tspan x="215.1" textLength="9">NBWPDMO2W</tspan><tspan x="224.1" textLength="13.22" fill-opacity="0.85">2GXE58HGHQG4N</tspan></text>
<text transform="rotate(302.96)" dy=".35em" lengthAdjust="spacingAndGlyphs"><tspan x="215.1" textLength="9">SO2U0ANN2</tspan><tspan x="224.1" textLength="13.86" fill-opacity="0.85">WDSSDOMEGSKDK</tspan></text>
<text transform="rotate(303.37)" dy=".35em" lengthAdjust="spacingAndGlyphs"><tspan x="215.1" textLength="9">4OPOQP50A</tspan><tspan x="224.1" textLength="15.36" fill-opacity="0.85">RB0AP8OPSOSEKRD</tspan></text>
<text transform="rotate(303.77)" dy=".35em" lengthAdjust="spacingAndGlyphs"><tspan x="215.1" textLength="9">EXWRSDGOS</tspan><tspan x="224.1" textLength="15.59" fill-opacity="0.85">GHDOE6BXEMUBQWR</tspan></text>
<text transform="rotate(304.17)" dy=".35em" lengthAdjust="spacingAndGlyphs"><tspan x="215.1" textLength="9">X6DQP4QOH</tspan><tspan x="224.1" textLength="12.33" fill-opacity="0.85">NBBHRAB8X3AE</tspan></text>
<text transform="rotate(304.58)" dy=".35em" lengthAdjust="spacingAndGlyphs"><tspan x="215.1" textLength="9">DSQG06Q4B</tspan><tspan x="224.1" textLength="29.37" fill-opacity="0.85">DHBXPNDD8DPEOPWADPHMNRESQU4OB</tspan></text>
<text transform="rotate(304.98)" dy=".35em" lengthAdjust="spacingAndGlyphs"><tspan x="215.1" textLength="9">PBESRKRNP</tspan><tspan x="224.1" textLength="12.75" fill-opacity="0.85">DBQ2RRQNON0W</tspan></text>
<text transform="rotate(305.38)" dy=".35em" lengthAdjust="spacingAndGlyphs"><tspan x="215.1" textLength="9">6GMRHWSKA</tspan><tspan x="224.1" textLength="14.39" fill-opacity="0.85">HB3RGMSKBO3DNE</tspan></text>
<text transform="rotate(305.78)" dy=".35em" lengthAdjust="spacingAndGlyphs"><tspan x="215.1" textLength="9">D50SOMG3G</tspan><tspan x="224.1" textLength="15.46" fill-opacity="0.85">HOWXNBBAM66SOQM</tspan></text>
<text transform="rotate(306.19)" dy=".35em" lengthAdjust="spacingAndGlyphs"><tspan x="215.1" textLength="9">ON0DAOPWO</tspan><tspan x="224.1" textLength="16.76" fill-opacity="0.85">B4Q5W82AHMGXEPSR</tspan></text>
<text transform="rotate(306.59)" dy=".35em" lengthAdjust="spacingAndGlyphs"><tspan x="215.1" textLength="9">0USHGRBOD</tspan><tspan x="224.1" textLength="15.04" fill-opacity="0.85">EX88MSSOHA3QDHH</tspan></text>
<text transform="rotate(306.99)" dy=".35em" lengthAdjust="spacingAndGlyphs"><tspan x="215.1" textLength="9">DKUK2X3QH</tspan><tspan x="224.1" textLength="15.77" fill-opacity="0.85">5NXNE6MMDOBA66H</tspan></text>
<text transform="rotate(307.4)" dy=".35em" lengthAdjust="spacingAndGlyphs"><tspan x="215.1" textLength="9">BKOO5DHWA</tspan><tspan x="224.1" textLength="16.23" fill-opacity="0.85">NW4DOQXB5ENXHQHN</tspan></text>
<text transform="rotate(307.8)" dy=".35em" lengthAdjust="spacingAndGlyphs"><tspan x="215.1" textLength="9">X6R8DDHWM</tspan><tspan x="224.1" textLength="16.11" fill-opacity="0.85">HSK2GDMX3EWUS850</tspan></text>
</g>
<g fill="#3a1919">
<text transform="rotate(308.17)" dy=".35em" lengthAdjust="spacingAndGlyphs"><tspan x="215.1" textLength="9">0GWOWMSRR</tspan><tspan x="224.1" textLength="12.46" fill-opacity="0.85">HO24HENNNN4B</tspan></text>
<text transform="rotate(308.5)" dy=".35em" lengthAdjust="spacingAndGlyphs"><tspan x="215.1" textLength="9">RDKMPD2US</tspan><tspan x="224.1" textLength="9.44" fill-opacity="0.85">OWSMNEDPA</tspan></text>
<text transform="rotate(308.83)" x="215.1" dy=".35em" textLength="11.17" lengthAdjust="spacingAndGlyphs">QQA4HQOU8B6</text>
</g>
<g fill="#463b1b">
<text transform="rotate(309.22)" dy=".35em" lengthAdjust="spacingAndGlyphs"><tspan x="215.1" textLength="9">KBWA5NEUE</tspan><tspan x="224.1" textLength="14.21" fill-opacity="0.85">EMHS2KX838M6SA</tspan></text>
<text transform="rotate(309.66)" dy=".35em" lengthAdjust="spacingAndGlyphs"><tspan x="215.1" textLength="9">E4BH5AEPM</tspan><tspan x="224.1" textLength="18.35" fill-opacity="0.85">WUUNK5ASS04ME6EMQW</tspan></text>
<text transform="rotate(310.1)" dy=".35em" lengthAdjust="spacingAndGlyphs"><tspan x="215.1" textLength="9">BOO8BOB0E</tspan><tspan x="224.1" textLength="13.79" fill-opacity="0.85">OKK6W3ESMDMB3</tspan></text>
<text transform="rotate(310.55)" dy=".35em" lengthAdjust="spacingAndGlyphs"><tspan x="215.1" textLength="9">AP8MEB88W</tspan><tspan x="224.1" textLength="17.57" fill-opacity="0.85">OS2SXSMPQBGMSNO8N</tspan></text>
<text transform="rotate(310.99)" dy=".35em" lengthAdjust="spacingAndGlyphs"><tspan x="215.1" textLength="9">MND2PBW2E</tspan><tspan x="224.1" textLength="14.79" fill-opacity="0.85">3MDPMSQWSBSMXP</tspan></text>
<text transform="rotate(311.43)" dy=".35em" lengthAdjust="spacingAndGlyphs"><tspan x="215.1" textLength="9">6O8XSEH8S</tspan><tspan x="224.1" textLength="16.38" fill-opacity="0.85">GHHSD6856QMHQUEM</tspan></text>
<text transform="rotate(311.87)" dy=".35em" lengthAdjust="spacingAndGlyphs"><tspan x="215.1" textLength="9">AEE3EBSDU</tspan><tspan x="224.1" textLength="15.2" fill-opacity="0.85">DAUPDEBDNBEMSSP</tspan></text>
<text transform="rotate(312.31)" dy=".35em" lengthAdjust="spacingAndGlyphs"><tspan x="215.1" textLength="9">2E6ODUEWH</tspan><tspan x="224.1" textLength="17.83" fill-opacity="0.85">6H5WGMRSOEPO2DDBE</tspan></text>
<text transform="rotate(312.75)" dy=".35em" lengthAdjust="spacingAndGlyphs"><tspan x="215.1" textLength="9">XP6RBOD30</tspan><tspan x="224.1" textLength="6.16" fill-opacity="0.85">HBW4RP</tspan></text>
<text transform="rotate(313.2)" dy=".35em" lengthAdjust="spacingAndGlyphs"><tspan x="215.1" textLength="9">RNW3ARSSB</tspan><tspan x="224.1" textLength="27.42" fill-opacity="0.85">4G4ODWOB6UN3NOHMH3OSSURXGUG</tspan></text>
<text transform="rotate(313.64)" dy=".35em" lengthAdjust="spacingAndGlyphs"><tspan x="215.1" textLength="9">E4X6AOHM2</tspan><tspan x="224.1" textLength="14.09" fill-opacity="0.85">HEMHONRD23HD26</tspan></text>
<text transform="rotate(314.08)" dy=".35em" lengthAdjust="spacingAndGlyphs"><tspan x="215.1" textLength="9">SG8QH4O86</tspan><tspan x="224.1" textLength="14.45" fill-opacity="0.85">QANXMDRBMGMHDO</tspan></text>
</g>
<g fill="#1b2c2f">
<text transform="rotate(314.49)" dy=".35em" lengthAdjust="spacingAndGlyphs"><tspan x="215.1" textLength="9">NR0QBMBES</tspan><tspan x="224.1" textLength="18.29" fill-opacity="0.85">O2KNHWHQ6ENPEA2KGE</tspan></text>
<text transform="rotate(314.88)" dy=".35em" lengthAdjust="spacingAndGlyphs"><tspan x="215.1" textLength="9">AEOOREQHS</tspan><tspan x="224.1" textLength="16.5" fill-opacity="0.85">HBEKR0GHN0SBNBNE</tspan></text>
<text transform="rotate(315.27)" dy=".35em" lengthAdjust="spacingAndGlyphs"><tspan x="215.1" textLength="9">KUGGWPRUH</tspan><tspan x="224.1" textLength="19.31" fill-opacity="0.85">3DR0RW6S3MGS6RBS686</tspan></text>
<text transform="rotate(315.66)" dy=".35em" lengthAdjust="spacingAndGlyphs"><tspan x="215.1" textLength="9">NPDW3NXUW</tspan><tspan x="224.1" textLength="16.69" fill-opacity="0.85">SR06ERHPHQ8N82ND</tspan></text>
<text transform="rotate(316.05)" dy=".35em" lengthAdjust="spacingAndGlyphs"><tspan x="215.1" textLength="9">4EHNES6BR</tspan><tspan x="224.1" textLength="20.12" fill-opacity="0.85">BADH6DSMMS5DD8SXHE8B</tspan></text>
<text transform="rotate(316.43)" dy=".35em" lengthAdjust="spacingAndGlyphs"><tspan x="215.1" textLength="9">RQAMH0BDN</tspan><tspan x="224.1" textLength="17.55" fill-opacity="0.85">RBK6O8AXENA5WHDRP</tspan></text>
<text transform="rotate(316.82)" dy=".35em" lengthAdjust="spacingAndGlyphs"><tspan x="215.1" textLength="9">AAAHMSSD0</tspan><tspan x="224.1" textLength="11.69" fill-opacity="0.85">2S3A30EB0BO</tspan></text>
<text transform="rotate(317.21)" dy=".35em" lengthAdjust="spacingAndGlyphs"><tspan x="215.1" textLength="9">3SWK0WAS6</tspan><tspan x="224.1" textLength="15.57" fill-opacity="0.85">BBER5O68SDD3SKO</tspan></text>
<text transform="rotate(317.6)" dy=".35em" lengthAdjust="spacingAndGlyphs"><tspan x="215.1" textLength="9">S2PRG4XW3</tspan><tspan x="224.1" textLength="18.07" fill-opacity="0.85">PXSMR4NSOAP53UGDMO</tspan></text>
<text transform="rotate(317.98)" dy=".35em" lengthAdjust="spacingAndGlyphs"><tspan x="215.1" textLength="9">P3RNO5GOW</tspan><tspan x="224.1" textLength="18.13" fill-opacity="0.85">WWE4HMOOEXURHESHHS</tspan></text>
<text transform="rotate(318.37)" dy=".35em" lengthAdjust="spacingAndGlyphs"><tspan x="215.1" textLength="9">2SXWADBSW</tspan><tspan x="224.1" textLength="17.33" fill-opacity="0.85">HWMS3WWHBN0GGRRKO</tspan></text>
<text transform="rotate(318.76)" dy=".35em" lengthAdjust="spacingAndGlyphs"><tspan x="215.1" textLength="9">4B5BN0WRH</tspan><tspan x="224.1" textLength="15.04" fill-opacity="0.85">DUQSESN2SN0KRE6</tspan></text>
<text transform="rotate(319.15)" dy=".35em" lengthAdjust="spacingAndGlyphs"><tspan x="215.1" textLength="9">5SMGSQQD8</tspan><tspan x="224.1" textLength="14.94" fill-opacity="0.85">HPXWBNO684ON3S</tspan></text>
<text transform="rotate(319.54)" dy=".35em" lengthAdjust="spacingAndGlyphs"><tspan x="215.1" textLength="9">4BB2RNUSW</tspan><tspan x="224.1" textLength="24.78" fill-opacity="0.85">QSDDN4RDN3XW04W3BEDWUW2G</tspan></text>
<text transform="rotate(319.92)" dy=".35em" lengthAdjust="spacingAndGlyphs"><tspan x="215.1" textLength="9">5648EAB63</tspan><tspan x="224.1" textLength="19.68" fill-opacity="0.85">MKX3HOH2808OO85HWQ8</tspan></text>
<text transform="rotate(320.31)" dy=".35em" lengthAdjust="spacingAndGlyphs"><tspan x="215.1" textLength="9">WDONRSB0D</tspan><tspan x="224.1" textLength="15.75" fill-opacity="0.85">0K2EKB0SNB2HKHG</tspan></text>
<text transform="rotate(320.7)" dy=".35em" lengthAdjust="spacingAndGlyphs"><tspan x="215.1" textLength="9">B2MOOE53S</tspan><tspan x="224.1" textLength="22.66" fill-opacity="0.85">0PS6AUSGODOBO65BG2SW8S</tspan></text>
<text transform="rotate(321.09)" dy=".35em" lengthAdjust="spacingAndGlyphs"><tspan x="215.1" textLength="9">HERMXBS4U</tspan><tspan x="224.1" textLength="19.55" fill-opacity="0.85">KS8MMWP0DRUBXNUHKG6</tspan></text>
<text transform="rotate(321.48)" dy=".35em" lengthAdjust="spacingAndGlyphs"><tspan x="215.1" textLength="9">SQNDHQNSE</tspan><tspan x="224.1" textLength="15.1" fill-opacity="0.85">4MD8NKENH68S5N8</tspan></text>
<text transform="rotate(321.86)" dy=".35em" lengthAdjust="spacingAndGlyphs"><tspan x="215.1" textLength="9">XNRDWHOGK</tspan><tspan x="224.1" textLength="15.66" fill-opacity="0.85">0S65NWD5SOBRNOK</tspan></text>
<text transform="rotate(322.25)" dy=".35em" lengthAdjust="spacingAndGlyphs"><tspan x="215.1" textLength="9">WOB6ORDH8</tspan><tspan x="224.1" textLength="22.35" fill-opacity="0.85">HOA0B5QSEPRWMN3MN2SN8D</tspan></text>
<text transform="rotate(322.64)" dy=".35em" lengthAdjust="spacingAndGlyphs"><tspan x="215.1" textLength="9">HADSD380B</tspan><tspan x="224.1" textLength="32.47" fill-opacity="0.85">EX6O4D5XOURA6EQDU4MDBH3HQS2PARKD</tspan></text>
<text transform="rotate(323.03)" dy=".35em" lengthAdjust="spacingAndGlyphs"><tspan x="215.1" textLength="9">WRRMS3NSG</tspan><tspan x="224.1" textLength="13.4" fill-opacity="0.85">NW2ANM0DD62HO</tspan></text>
<text transform="rotate(323.42)" dy=".35em" lengthAdjust="spacingAndGlyphs"><tspan x="215.1" textLength="9">RMD03OE3E</tspan><tspan x="224.1" textLength="15.09" fill-opacity="0.85">QMERWERSMUGMX3D</tspan></text>
<text transform="rotate(323.8)" dy=".35em" lengthAdjust="spacingAndGlyphs"><tspan x="215.1" textLength="9">UQURNHNHE</tspan><tspan x="224.1" textLength="18.97" fill-opacity="0.85">O5M5SD5MKENHODEN63</tspan></text>
<text transform="rotate(324.19)" dy=".35em" lengthAdjust="spacingAndGlyphs"><tspan x="215.1" textLength="9">D5NDNHBPU</tspan><tspan x="224.1" textLength="19.16" fill-opacity="0.85">DDQMU8DXN26EOHNS4EM</tspan></text>
<text transform="rotate(324.58)" dy=".35em" lengthAdjust="spacingAndGlyphs"><tspan x="215.1" textLength="9">EQEKRWHQ2</tspan><tspan x="224.1" textLength="18.21" fill-opacity="0.85">EBQODW2EROQEKE0GDM</tspan></text>
<text transform="rotate(324.97)" dy=".35em" lengthAdjust="spacingAndGlyphs"><tspan x="215.1" textLength="9">3NR5G302W</tspan><tspan x="224.1" textLength="19.79" fill-opacity="0.85">AN4EHOEANERRDEP0WRR</tspan></text>
<text transform="rotate(325.35)" dy=".35em" lengthAdjust="spacingAndGlyphs"><tspan x="215.1" textLength="9">QS2BE5G0S</tspan><tspan x="224.1" textLength="15.76" fill-opacity="0.85">UEK343EAXSSBPND</tspan></text>
<text transform="rotate(325.74)" dy=".35em" lengthAdjust="spacingAndGlyphs"><tspan x="215.1" textLength="9">US0PHX3H3</tspan><tspan x="224.1" textLength="17.52" fill-opacity="0.85">BBP8G6XERSENSEA6D</tspan></text>
<text transform="rotate(326.13)" dy=".35em" lengthAdjust="spacingAndGlyphs"><tspan x="215.1" textLength="9">Q5AE4N4MH</tspan><tspan x="224.1" textLength="16.25" fill-opacity="0.85">R2NRNBMU3M3SOQN2</tspan></text>
<text transform="rotate(326.52)" dy=".35em" lengthAdjust="spacingAndGlyphs"><tspan x="215.1" textLength="9">RBWSRW6HE</tspan><tspan x="224.1" textLength="31.94" fill-opacity="0.85">NHN822WPWNNWNEEBHSEHPKAQ5SBUADX</tspan></text>
<text transform="rotate(326.91)" dy=".35em" lengthAdjust="spacingAndGlyphs"><tspan x="215.1" textLength="9">BP5AW3NS3</tspan><tspan x="224.1" textLength="19.84" fill-opacity="0.85">S20EN5HKOEEQBRWSAHA</tspan></text>
</g>
<g fill="#382803">
<text transform="rotate(327.4)" dy=".35em" lengthAdjust="spacingAndGlyphs"><tspan x="215.1" textLength="7">XDRREMR</tspan><tspan x="223.1" textLength="8.79">SDSSS3RE</tspan></text>
<text transform="rotate(328)" dy=".35em" lengthAdjust="spacingAndGlyphs"><tspan x="215.1" textLength="7">WHPH4SX</tspan><tspan x="223.1" textLength="16.55">MH8WWPBWEDSXAWDE</tspan></text>
<text transform="rotate(328.6)" dy=".35em" lengthAdjust="spacingAndGlyphs"><tspan x="215.1" textLength="7">W60PBK5</tspan><tspan x="223.1" textLength="7.64">RSNWWWR</tspan></text>
</g>
<g fill="#36431b">
<text transform="rotate(329.17)" dy=".35em" lengthAdjust="spacingAndGlyphs"><tspan x="215.1" textLength="7">WNWNQEA</tspan><tspan x="223.1" textLength="13.77">8OBDNS5MB4ORB</tspan></text>
<text transform="rotate(329.72)" dy=".35em" lengthAdjust="spacingAndGlyphs"><tspan x="215.1" textLength="7">OEEKBXU</tspan><tspan x="223.1" textLength="11.85">QHRQBBGS8MH</tspan></text>
<text transform="rotate(330.26)" dy=".35em" lengthAdjust="spacingAndGlyphs"><tspan x="215.1" textLength="7">SRENO60</tspan><tspan x="223.1" textLength="12.73">KQ4EGK4B6NWR</tspan></text>
<text transform="rotate(330.81)" dy=".35em" lengthAdjust="spacingAndGlyphs"><tspan x="215.1" textLength="7">NRBGAEG</tspan><tspan x="223.1" textLength="15.51">XUDWSR35DUGWO4M</tspan></text>
<text transform="rotate(331.35)" dy=".35em" lengthAdjust="spacingAndGlyphs"><tspan x="215.1" textLength="7">DDHDBPN</tspan><tspan x="223.1" textLength="11.15">WE3HNSRQ6E4</tspan></text>
<text transform="rotate(331.89)" dy=".35em" lengthAdjust="spacingAndGlyphs"><tspan x="215.1" textLength="7">EMSKERB</tspan><tspan x="223.1" textLength="11.51">O6UK0AENA50</tspan></text>
<text transform="rotate(332.44)" dy=".35em" lengthAdjust="spacingAndGlyphs"><tspan x="215.1" textLength="7">ROSREO4</tspan><tspan x="223.1" textLength="7.38">PGDQ8US</tspan></text>
<text transform="rotate(332.98)" dy=".35em" lengthAdjust="spacingAndGlyphs"><tspan x="215.1" textLength="7">HAM22M6</tspan><tspan x="223.1" textLength="12">WHG3QMX3XAE</tspan></text>
<text transform="rotate(333.53)" dy=".35em" lengthAdjust="spacingAndGlyphs"><tspan x="215.1" textLength="7">PEERHKH</tspan><tspan x="223.1" textLength="12.01">PGHGW8OODGMQ</tspan></text>
</g>
<g fill="#361b31">
<text transform="rotate(334.07)" dy=".35em" lengthAdjust="spacingAndGlyphs"><tspan x="215.1" textLength="7">DW8RU5R</tspan><tspan x="223.1" textLength="12.82">SHHA2O3KS3AB</tspan></text>
<text transform="rotate(334.62)" dy=".35em" lengthAdjust="spacingAndGlyphs"><tspan x="215.1" textLength="7">6SMWRP3</tspan><tspan x="223.1" textLength="11.48">HDSPER0AUBW</tspan></text>
</g>
<g fill="#432828">
<text transform="rotate(335.17)" dy=".35em" lengthAdjust="spacingAndGlyphs"><tspan x="215.1" textLength="7">WWRHD2H</tspan><tspan x="223.1" textLength="18.98">8H4EO3NND288KKMRUD</tspan></text>
<text transform="rotate(335.7)" dy=".35em" lengthAdjust="spacingAndGlyphs"><tspan x="215.1" textLength="7">U6XSR58</tspan><tspan x="223.1" textLength="10.65">B0XMUQ3KNM</tspan></text>
<text transform="rotate(336.24)" dy=".35em" lengthAdjust="spacingAndGlyphs"><tspan x="215.1" textLength="7">UKMMK0P</tspan><tspan x="223.1" textLength="12.78">6HRDNND2HKDW</tspan></text>
<text transform="rotate(336.78)" dy=".35em" lengthAdjust="spacingAndGlyphs"><tspan x="215.1" textLength="7">QNOGMBB</tspan><tspan x="223.1" textLength="16.27">OWEBKDWDOMO8K50H</tspan></text>
<text transform="rotate(337.31)" dy=".35em" lengthAdjust="spacingAndGlyphs"><tspan x="215.1" textLength="7">OD6NR2M</tspan><tspan x="223.1" textLength="12.28">DBDHKPUWOPHM</tspan></text>
<text transform="rotate(337.85)" dy=".35em" lengthAdjust="spacingAndGlyphs"><tspan x="215.1" textLength="7">GGAWH5M</tspan><tspan x="223.1" textLength="11.74">MB0GW5W30KN</tspan></text>
<text transform="rotate(338.39)" dy=".35em" lengthAdjust="spacingAndGlyphs"><tspan x="215.1" textLength="7">NDDSEO6</tspan><tspan x="223.1" textLength="11.3">R3GU5SB2OAW</tspan></text>
<text transform="rotate(338.92)" dy=".35em" lengthAdjust="spacingAndGlyphs"><tspan x="215.1" textLength="7">R2E48ME</tspan><tspan x="223.1" textLength="22.88">PEXWSDAXMSRBGSRAAS65RX</tspan></text>
<text transform="rotate(339.46)" dy=".35em" lengthAdjust="spacingAndGlyphs"><tspan x="215.1" textLength="7">KERHMGA</tspan><tspan x="223.1" textLength="11.45">M628RRM4UKH</tspan></text>
<text transform="rotate(340)" dy=".35em" lengthAdjust="spacingAndGlyphs"><tspan x="215.1" textLength="7">S6M400Q</tspan><tspan x="223.1" textLength="9.66">D4RNEDORB</tspan></text>
<text transform="rotate(340.53)" dy=".35em" lengthAdjust="spacingAndGlyphs"><tspan x="215.1" textLength="7">2WSM2AE</tspan><tspan x="223.1" textLength="12.94">WA5NHUD5O6DE</tspan></text>
</g>
<g fill="#15283a">
<text transform="rotate(341.07)" dy=".35em" lengthAdjust="spacingAndGlyphs"><tspan x="215.1" textLength="7">HSE6HBB</tspan><tspan x="223.1" textLength="12.09">QA0D83PMM2X4</tspan></text>
<text transform="rotate(341.62)" dy=".35em" lengthAdjust="spacingAndGlyphs"><tspan x="215.1" textLength="7">WR0MRA0</tspan><tspan x="223.1" textLength="13.85">DRBW8M3UG40R2</tspan></text>
</g>
<g fill="#45311b">
<text transform="rotate(342.15)" dy=".35em" lengthAdjust="spacingAndGlyphs"><tspan x="215.1" textLength="7">HBHQREH</tspan><tspan x="223.1" textLength="11.59">HXW2R23UDE8</tspan></text>
<text transform="rotate(342.65)" dy=".35em" lengthAdjust="spacingAndGlyphs"><tspan x="215.1" textLength="7">MDNRROD</tspan><tspan x="223.1" textLength="13.83">US4OH8DOKSRD5</tspan></text>
</g>
<g fill="#342f41">
<text transform="rotate(343.22)" dy=".35em" lengthAdjust="spacingAndGlyphs"><tspan x="215.1" textLength="7">MBEQS2U</tspan><tspan x="223.1" textLength="11.53">QWNSMXP6SRD</tspan></text>
<text transform="rotate(343.85)" dy=".35em" lengthAdjust="spacingAndGlyphs"><tspan x="215.1" textLength="7">USD6WGN</tspan><tspan x="223.1" textLength="11.94">4NM45RNWNDK</tspan></text>
<text transform="rotate(344.48)" dy=".35em" lengthAdjust="spacingAndGlyphs"><tspan x="215.1" textLength="7">3HNDNO5</tspan><tspan x="223.1" textLength="13.23">DDBKUN2XS5BBQ</tspan></text>
</g>
<g fill="#3e303e">
<text transform="rotate(345.06)" dy=".35em" lengthAdjust="spacingAndGlyphs"><tspan x="215.1" textLength="7">N5608MH</tspan><tspan x="223.1" textLength="13.39">BPRU5SRW8NXBH</tspan></text>
<text transform="rotate(345.58)" dy=".35em" lengthAdjust="spacingAndGlyphs"><tspan x="215.1" textLength="7">KRB5ORK</tspan><tspan x="223.1" textLength="12.64">RG6ME6BQN0QR</tspan></text>
<text transform="rotate(346.1)" dy=".35em" lengthAdjust="spacingAndGlyphs"><tspan x="215.1" textLength="7">SBRQM42</tspan><tspan x="223.1" textLength="12.45">BH5Q24BWH3MH</tspan></text>
<text transform="rotate(346.62)" dy=".35em" lengthAdjust="spacingAndGlyphs"><tspan x="215.1" textLength="7">RB6HH0R</tspan><tspan x="223.1" textLength="19.55">MN04BS8HNEDE8BEN0SH</tspan></text>
<text transform="rotate(347.14)" dy=".35em" lengthAdjust="spacingAndGlyphs"><tspan x="215.1" textLength="7">EUAROOQ</tspan><tspan x="223.1" textLength="10.22">H6NROEQWUU</tspan></text>
</g>
<g fill="#3f1d1d">
<text transform="rotate(347.67)" dy=".35em" lengthAdjust="spacingAndGlyphs"><tspan x="215.1" textLength="7">0HRM64Q</tspan><tspan x="223.1" textLength="4.36">0DU6</tspan></text>
<text transform="rotate(348.23)" dy=".35em" lengthAdjust="spacingAndGlyphs"><tspan x="215.1" textLength="7">H3WMPOS</tspan><tspan x="223.1" textLength="7.57">S8S5BWB</tspan></text>
<text transform="rotate(348.77)" dy=".35em" lengthAdjust="spacingAndGlyphs"><tspan x="215.1" textLength="7">O2HS4RH</tspan><tspan x="223.1" textLength="12.62">WNB4SEM4NOQU</tspan></text>
<text transform="rotate(349.33)" dy=".35em" lengthAdjust="spacingAndGlyphs"><tspan x="215.1" textLength="7">0NDDAA4</tspan><tspan x="223.1" textLength="15.06">D2DSRPWOWHS3XOP</tspan></text>
</g>
<g fill="#45382d">
<text transform="rotate(349.87)" dy=".35em" lengthAdjust="spacingAndGlyphs"><tspan x="215.1" textLength="7">BBUDMWS</tspan><tspan x="223.1" textLength="11.56">BPWSXODQXBA</tspan></text>
<text transform="rotate(350.4)" dy=".35em" lengthAdjust="spacingAndGlyphs"><tspan x="215.1" textLength="7">GMRAPWW</tspan><tspan x="223.1" textLength="11.09">RWR4SOHWH3B</tspan></text>
<text transform="rotate(350.93)" dy=".35em" lengthAdjust="spacingAndGlyphs"><tspan x="215.1" textLength="7">MS3WM2P</tspan><tspan x="223.1" textLength="11.63">8HRMONRHMWH</tspan></text>
</g>
<g fill="#1f2f1b">
<text transform="rotate(351.47)" dy=".35em" lengthAdjust="spacingAndGlyphs"><tspan x="215.1" textLength="7">HDWU2HH</tspan><tspan x="223.1" textLength="16.7">D4H2POSMHDB4RWRS</tspan></text>
<text transform="rotate(352)" dy=".35em" lengthAdjust="spacingAndGlyphs"><tspan x="215.1" textLength="7">SXP6O5N</tspan><tspan x="223.1" textLength="16.89">ES6RES6GEKDEHRD3</tspan></text>
<text transform="rotate(352.53)" dy=".35em" lengthAdjust="spacingAndGlyphs"><tspan x="215.1" textLength="7">GU26W35</tspan><tspan x="223.1" textLength="18.1">ASOWW26RUK8D3BQB3P</tspan></text>
<text transform="rotate(353.07)" dy=".35em" lengthAdjust="spacingAndGlyphs"><tspan x="215.1" textLength="7">NDBW4R8</tspan><tspan x="223.1" textLength="16.87">8BBGDOW0B0AN6M8G</tspan></text>
<text transform="rotate(353.6)" dy=".35em" lengthAdjust="spacingAndGlyphs"><tspan x="215.1" textLength="7">M2KEEHN</tspan><tspan x="223.1" textLength="16.5">EHOXB0WS5UKWPNBP</tspan></text>
<text transform="rotate(354.13)" dy=".35em" lengthAdjust="spacingAndGlyphs"><tspan x="215.1" textLength="7">UD2M445</tspan><tspan x="223.1" textLength="14.42">MRNB6BG3BREWOS</tspan></text>
<text transform="rotate(354.67)" dy=".35em" lengthAdjust="spacingAndGlyphs"><tspan x="215.1" textLength="7">S8SB5AO</tspan><tspan x="223.1" textLength="16.15">3RSN4KX2A2RHODMM</tspan></text>
<text transform="rotate(355.2)" dy=".35em" lengthAdjust="spacingAndGlyphs"><tspan x="215.1" textLength="7">OXXESSK</tspan><tspan x="223.1" textLength="9.13">B50H42HHG</tspan></text>
<text transform="rotate(355.73)" dy=".35em" lengthAdjust="spacingAndGlyphs"><tspan x="215.1" textLength="7">KQRDRNO</tspan><tspan x="223.1" textLength="12.58">XX3PMR0ROROP</tspan></text>
<text transform="rotate(356.27)" dy=".35em" lengthAdjust="spacingAndGlyphs"><tspan x="215.1" textLength="7">E2WOM0R</tspan><tspan x="223.1" textLength="15.48">8H0M23AQUDW5R5H</tspan></text>
<text transform="rotate(356.8)" dy=".35em" lengthAdjust="spacingAndGlyphs"><tspan x="215.1" textLength="7">A4MHPN6</tspan><tspan x="223.1" textLength="16.56">PMHUBHDGBNE3MKDW</tspan></text>
<text transform="rotate(357.33)" dy=".35em" lengthAdjust="spacingAndGlyphs"><tspan x="215.1" textLength="7">4SQP0ND</tspan><tspan x="223.1" textLength="18.29">PSEUE8MRE6BAU5UHW8</tspan></text>
</g>
<g fill="#192c3f">
<text transform="rotate(357.88)" dy=".35em" lengthAdjust="spacingAndGlyphs"><tspan x="215.1" textLength="7">EXD826D</tspan><tspan x="223.1" textLength="5.34">WSX8P</tspan></text>
<text transform="rotate(358.43)" dy=".35em" lengthAdjust="spacingAndGlyphs"><tspan x="215.1" textLength="7">WH86HWH</tspan><tspan x="223.1" textLength="16.3">R3D8MGRUDPKDM0DB</tspan></text>
<text transform="rotate(358.99)" dy=".35em" lengthAdjust="spacingAndGlyphs"><tspan x="215.1" textLength="7">W0QBMGM</tspan><tspan x="223.1" textLength="17.79">G6KXE6X8KNB84KHS2</tspan></text>
<text transform="rotate(359.54)" dy=".35em" lengthAdjust="spacingAndGlyphs"><tspan x="215.1" textLength="7">KE543HW</tspan><tspan x="223.1" textLength="14.33">UOOMOOP0MX3SXS</tspan></text>
<text transform="rotate(360.1)" dy=".35em" lengthAdjust="spacingAndGlyphs"><tspan x="215.1" textLength="7">AS43RSR</tspan><tspan x="223.1" textLength="14.47">UMWEW4DARSP8SE</tspan></text>
<text transform="rotate(360.66)" dy=".35em" lengthAdjust="spacingAndGlyphs"><tspan x="215.1" textLength="7">EDNPB04</tspan><tspan x="223.1" textLength="5.24">DGQD8</tspan></text>
<text transform="rotate(361.21)" dy=".35em" lengthAdjust="spacingAndGlyphs"><tspan x="215.1" textLength="7">PSMRRNO</tspan><tspan x="223.1" textLength="15.05">X2SN5B26O28RBNW</tspan></text>
<text transform="rotate(361.77)" dy=".35em" lengthAdjust="spacingAndGlyphs"><tspan x="215.1" textLength="7">WXKEK3D</tspan><tspan x="223.1" textLength="17.52">PU5HXMBQ3W44GSMAR</tspan></text>
<text transform="rotate(362.32)" dy=".35em" lengthAdjust="spacingAndGlyphs"><tspan x="215.1" textLength="7">ES5KDXD</tspan><tspan x="223.1" textLength="26.93">WOH4RDXB3XN40O5ER5WMOPBPAS</tspan></text>
<text transform="rotate(362.88)" dy=".35em" lengthAdjust="spacingAndGlyphs"><tspan x="215.1" textLength="7">2SBD3GN</tspan><tspan x="223.1" textLength="21.43">HEQRNDSPND08OBSORN06E</tspan></text>
<text transform="rotate(363.43)" dy=".35em" lengthAdjust="spacingAndGlyphs"><tspan x="215.1" textLength="7">8ONKH0N</tspan><tspan x="223.1" textLength="16.28">P2HDPSRRWHH8B8GH</tspan></text>
<text transform="rotate(363.99)" dy=".35em" lengthAdjust="spacingAndGlyphs"><tspan x="215.1" textLength="7">SRXBPO2</tspan><tspan x="223.1" textLength="14.73">UR3NO5DEB5K3OS</tspan></text>
<text transform="rotate(364.54)" dy=".35em" lengthAdjust="spacingAndGlyphs"><tspan x="215.1" textLength="7">5O030OW</tspan><tspan x="223.1" textLength="6.23">5XSRUP</tspan></text>
<text transform="rotate(365.1)" dy=".35em" lengthAdjust="spacingAndGlyphs"><tspan x="215.1" textLength="7">OWSX4W2</tspan><tspan x="223.1" textLength="18.07">HH8EMRAB4SM3MW4SOX</tspan></text>
<text transform="rotate(365.66)" dy=".35em" lengthAdjust="spacingAndGlyphs"><tspan x="215.1" textLength="7">28UG8DR</tspan><tspan x="223.1" textLength="15.08">0EE855DB5GGEUKR</tspan></text>
<text transform="rotate(366.21)" dy=".35em" lengthAdjust="spacingAndGlyphs"><tspan x="215.1" textLength="7">P8PAAX5</tspan><tspan x="223.1" textLength="17.07">OHMKW6WN6UKEHO6WH</tspan></text>
<text transform="rotate(366.77)" dy=".35em" lengthAdjust="spacingAndGlyphs"><tspan x="215.1" textLength="7">GRMQQP3</tspan><tspan x="223.1" textLength="15.29">O54RXXOBNAEG82X</tspan></text>
<text transform="rotate(367.32)" dy=".35em" lengthAdjust="spacingAndGlyphs"><tspan x="215.1" textLength="7">O5MW05S</tspan><tspan x="223.1" textLength="13.88">MHO55BBAUOKOS</tspan></text>
</g>
<g fill="#432d31">
<text transform="rotate(367.85)" dy=".35em" lengthAdjust="spacingAndGlyphs"><tspan x="215.1" textLength="7">EOH3HKK</tspan><tspan x="223.1" textLength="10.67">5SGD3REP2A</tspan></text>
<text transform="rotate(368.35)" dy=".35em" lengthAdjust="spacingAndGlyphs"><tspan x="215.1" textLength="7">H4BXQ6B</tspan><tspan x="223.1" textLength="13.18">2SBE6M0XBENH2</tspan></text>
<text transform="rotate(368.85)" dy=".35em" lengthAdjust="spacingAndGlyphs"><tspan x="215.1" textLength="7">AKHMQK2</tspan><tspan x="223.1" textLength="4.14">QWSD</tspan></text>
</g>
<g fill="#473c1f">
<text transform="rotate(369.29)" dy=".35em" lengthAdjust="spacingAndGlyphs"><tspan x="215.1" textLength="9">NGS6OH4DU</tspan><tspan x="224.1" textLength="17.25" fill-opacity="0.85">EXHEEROHUM0N2DNMM</tspan></text>
<text transform="rotate(369.67)" dy=".35em" lengthAdjust="spacingAndGlyphs"><tspan x="215.1" textLength="9">OXB8DR6SO</tspan><tspan x="224.1" textLength="13.61" fill-opacity="0.85">UEB035AQNEEM5</tspan></text>
<text transform="rotate(370.04)" dy=".35em" lengthAdjust="spacingAndGlyphs"><tspan x="215.1" textLength="9">5XE2B33KQ</tspan><tspan x="224.1" textLength="15.17" fill-opacity="0.85">DGSEN8X08X2SH5M</tspan></text>
<text transform="rotate(370.42)" dy=".35em" lengthAdjust="spacingAndGlyphs"><tspan x="215.1" textLength="9">QQRBUPMOB</tspan><tspan x="224.1" textLength="17.05" fill-opacity="0.85">H6EOHSDONEMH6E3DH</tspan></text>
<text transform="rotate(370.8)" dy=".35em" lengthAdjust="spacingAndGlyphs"><tspan x="215.1" textLength="9">X0NUNHXNH</tspan><tspan x="224.1" textLength="14.49" fill-opacity="0.85">BME54OXDHAXKW6</tspan></text>
<text transform="rotate(371.17)" dy=".35em" lengthAdjust="spacingAndGlyphs"><tspan x="215.1" textLength="9">NOXBQ0NNR</tspan><tspan x="224.1" textLength="14.63" fill-opacity="0.85">SSWUD42WR3DNHB</tspan></text>
<text transform="rotate(371.55)" dy=".35em" lengthAdjust="spacingAndGlyphs"><tspan x="215.1" textLength="9">KU6DROMR0</tspan><tspan x="224.1" textLength="17.01" fill-opacity="0.85">SNDDDPKE25E0MNB4D</tspan></text>
<text transform="rotate(371.93)" dy=".35em" lengthAdjust="spacingAndGlyphs"><tspan x="215.1" textLength="9">ONHNE82OQ</tspan><tspan x="224.1" textLength="27.07" fill-opacity="0.85">4W2D4EENMW3S6BQU4MWW538MSW0</tspan></text>
<text transform="rotate(372.31)" dy=".35em" lengthAdjust="spacingAndGlyphs"><tspan x="215.1" textLength="9">MXHGGEKWW</tspan><tspan x="224.1" textLength="16.6" fill-opacity="0.85">KOGHNURON3B0OMOS</tspan></text>
<text transform="rotate(372.68)" dy=".35em" lengthAdjust="spacingAndGlyphs"><tspan x="215.1" textLength="9">GHWBENGM6</tspan><tspan x="224.1" textLength="12.46" fill-opacity="0.85">B84K4R65DXPR</tspan></text>
<text transform="rotate(373.06)" dy=".35em" lengthAdjust="spacingAndGlyphs"><tspan x="215.1" textLength="9">5D0D8SEXA</tspan><tspan x="224.1" textLength="14.22" fill-opacity="0.85">H2HB58HOPDM4MB</tspan></text>
<text transform="rotate(373.44)" dy=".35em" lengthAdjust="spacingAndGlyphs"><tspan x="215.1" textLength="9">BMNEMAX4X</tspan><tspan x="224.1" textLength="4.72" fill-opacity="0.85">WHHW</tspan></text>
<text transform="rotate(373.81)" dy=".35em" lengthAdjust="spacingAndGlyphs"><tspan x="215.1" textLength="9">UEAXDWB5S</tspan><tspan x="224.1" textLength="15.44" fill-opacity="0.85">NMRD0GXBDPP3D08</tspan></text>
<text transform="rotate(374.19)" dy=".35em" lengthAdjust="spacingAndGlyphs"><tspan x="215.1" textLength="9">5MKRWG04P</tspan><tspan x="224.1" textLength="14.14" fill-opacity="0.85">5W0HS0QABX0BUB</tspan></text>
<text transform="rotate(374.57)" dy=".35em" lengthAdjust="spacingAndGlyphs"><tspan x="215.1" textLength="9">3WXGNSW8O</tspan><tspan x="224.1" textLength="12.98" fill-opacity="0.85">WE2MOUEDHXOG</tspan></text>
<text transform="rotate(374.95)" dy=".35em" lengthAdjust="spacingAndGlyphs"><tspan x="215.1" textLength="9">HXWMDQRWS</tspan><tspan x="224.1" textLength="15.87" fill-opacity="0.85">UEX0G0OXBPDNKHD</tspan></text>
<text transform="rotate(375.32)" dy=".35em" lengthAdjust="spacingAndGlyphs"><tspan x="215.1" textLength="9">WDHBKPE6N</tspan><tspan x="224.1" textLength="16.06" fill-opacity="0.85">48G5MSS3RRKE6XWH</tspan></text>
<text transform="rotate(375.7)" dy=".35em" lengthAdjust="spacingAndGlyphs"><tspan x="215.1" textLength="9">4MQNURXOB</tspan><tspan x="224.1" textLength="16.67" fill-opacity="0.85">SWW46QMKRWWB6H58</tspan></text>
<text transform="rotate(376.08)" dy=".35em" lengthAdjust="spacingAndGlyphs"><tspan x="215.1" textLength="9">NW4N50HDK</tspan><tspan x="224.1" textLength="27.9" fill-opacity="0.85">WOEESOH8NNB88ASQM68GHXGAP0S</tspan></text>
<text transform="rotate(376.46)" dy=".35em" lengthAdjust="spacingAndGlyphs"><tspan x="215.1" textLength="9">MORS5665O</tspan><tspan x="224.1" textLength="15.65" fill-opacity="0.85">OXBP6SGOXEB0H8E</tspan></text>
<text transform="rotate(376.83)" dy=".35em" lengthAdjust="spacingAndGlyphs"><tspan x="215.1" textLength="9">BGSO53EBU</tspan><tspan x="224.1" textLength="14.36" fill-opacity="0.85">EEARNDBKD0NEQ0</tspan></text>
<text transform="rotate(377.21)" dy=".35em" lengthAdjust="spacingAndGlyphs"><tspan x="215.1" textLength="9">5ERSDDBR0</tspan><tspan x="224.1" textLength="12.79" fill-opacity="0.85">HD2GASNB330M</tspan></text>
<text transform="rotate(377.59)" dy=".35em" lengthAdjust="spacingAndGlyphs"><tspan x="215.1" textLength="9">NN5AMOGOM</tspan><tspan x="224.1" textLength="28.67" fill-opacity="0.85">SNQUU8MB544HXB54B3NGHQRS8W2H</tspan></text>
<text transform="rotate(377.96)" dy=".35em" lengthAdjust="spacingAndGlyphs"><tspan x="215.1" textLength="9">SMOWEMSS0</tspan><tspan x="224.1" textLength="13.81" fill-opacity="0.85">HK5HRN022WRE6</tspan></text>
<text transform="rotate(378.34)" dy=".35em" lengthAdjust="spacingAndGlyphs"><tspan x="215.1" textLength="9">SWUWE8DMA</tspan><tspan x="224.1" textLength="16.06" fill-opacity="0.85">HS5DE02WS5G8HROW</tspan></text>
<text transform="rotate(378.72)" dy=".35em" lengthAdjust="spacingAndGlyphs"><tspan x="215.1" textLength="9">WABW4XUDD</tspan><tspan x="224.1" textLength="13.37" fill-opacity="0.85">4H50SSRHNK5SH</tspan></text>
<text transform="rotate(379.1)" dy=".35em" lengthAdjust="spacingAndGlyphs"><tspan x="215.1" textLength="9">RNONBOHW5</tspan><tspan x="224.1" textLength="16.25" fill-opacity="0.85">X6NB0UBD0BOESMND</tspan></text>
<text transform="rotate(379.47)" dy=".35em" lengthAdjust="spacingAndGlyphs"><tspan x="215.1" textLength="9">XXOQ0NB55</tspan><tspan x="224.1" textLength="16.78" fill-opacity="0.85">B0BW8DEGGW6XSQWN</tspan></text>
<text transform="rotate(379.85)" dy=".35em" lengthAdjust="spacingAndGlyphs"><tspan x="215.1" textLength="9">DM4RS8WO0</tspan><tspan x="224.1" textLength="17.05" fill-opacity="0.85">DGPQW2NA84WPSB2EA</tspan></text>
<text transform="rotate(380.23)" dy=".35em" lengthAdjust="spacingAndGlyphs"><tspan x="215.1" textLength="9">R8HMHORSH</tspan><tspan x="224.1" textLength="13.32" fill-opacity="0.85">PRSS2U8NH5EB0</tspan></text>
<text transform="rotate(380.6)" dy=".35em" lengthAdjust="spacingAndGlyphs"><tspan x="215.1" textLength="9">36EBRANAE</tspan><tspan x="224.1" textLength="16.83" fill-opacity="0.85">DHND2UH0ASRE3G66</tspan></text>
<text transform="rotate(380.98)" dy=".35em" lengthAdjust="spacingAndGlyphs"><tspan x="215.1" textLength="9">4ORSMOE5S</tspan><tspan x="224.1" textLength="24.76" fill-opacity="0.85">3ESBMNONQP4HOGEEBEXPN0N6</tspan></text>
<text transform="rotate(381.36)" dy=".35em" lengthAdjust="spacingAndGlyphs"><tspan x="215.1" textLength="9">NBHD5GH0N</tspan><tspan x="224.1" textLength="15.9" fill-opacity="0.85">OODMPAK5ASNBNRB</tspan></text>
<text transform="rotate(381.74)" dy=".35em" lengthAdjust="spacingAndGlyphs"><tspan x="215.1" textLength="9">KXWWMHRK0</tspan><tspan x="224.1" textLength="12.36" fill-opacity="0.85">HB8W8HRSKOD8</tspan></text>
<text transform="rotate(382.11)" dy=".35em" lengthAdjust="spacingAndGlyphs"><tspan x="215.1" textLength="9">B0SE4XWSR</tspan><tspan x="224.1" textLength="14.83" fill-opacity="0.85">OHHBWRBOHPW50D</tspan></text>
<text transform="rotate(382.49)" dy=".35em" lengthAdjust="spacingAndGlyphs"><tspan x="215.1" textLength="9">0B5RDW0RO</tspan><tspan x="224.1" textLength="13.17" fill-opacity="0.85">RHXE2E2B8BN3D</tspan></text>
<text transform="rotate(382.87)" dy=".35em" lengthAdjust="spacingAndGlyphs"><tspan x="215.1" textLength="9">B5HOWS5GS</tspan><tspan x="224.1" textLength="14.35" fill-opacity="0.85">UHO6EBNMP6D4XR</tspan></text>
<text transform="rotate(383.24)" dy=".35em" lengthAdjust="spacingAndGlyphs"><tspan x="215.1" textLength="9">3MROBHDRW</tspan><tspan x="224.1" textLength="15.89" fill-opacity="0.85">XDNQ5XBKKORMWBB</tspan></text>
<text transform="rotate(383.62)" dy=".35em" lengthAdjust="spacingAndGlyphs"><tspan x="215.1" textLength="9">QOBDSB0R2</tspan><tspan x="224.1" textLength="16.92" fill-opacity="0.85">D0UBEQPSSXGMBEMD</tspan></text>
<text transform="rotate(384)" dy=".35em" lengthAdjust="spacingAndGlyphs"><tspan x="215.1" textLength="9">DAGNB8GHX</tspan><tspan x="224.1" textLength="12.24" fill-opacity="0.85">GMRME5WKKPXR</tspan></text>
<text transform="rotate(384.38)" dy=".35em" lengthAdjust="spacingAndGlyphs"><tspan x="215.1" textLength="9">WNMNPREQ3</tspan><tspan x="224.1" textLength="13.93" fill-opacity="0.85">B3G6XGMOUO866</tspan></text>
<text transform="rotate(384.75)" dy=".35em" lengthAdjust="spacingAndGlyphs"><tspan x="215.1" textLength="9">MM6SE0K5E</tspan><tspan x="224.1" textLength="16.76" fill-opacity="0.85">2K2KHRBBMMRBBWBE</tspan></text>
<text transform="rotate(385.13)" dy=".35em" lengthAdjust="spacingAndGlyphs"><tspan x="215.1" textLength="9">GE52O23XD</tspan><tspan x="224.1" textLength="18.79" fill-opacity="0.85">BKK5UGRED8QB5HDMOQ</tspan></text>
<text transform="rotate(385.51)" dy=".35em" lengthAdjust="spacingAndGlyphs"><tspan x="215.1" textLength="9">DD82MSWWS</tspan><tspan x="224.1" textLength="15.08" fill-opacity="0.85">D0RO2SPKSM6BPW5</tspan></text>
<text transform="rotate(385.89)" dy=".35em" lengthAdjust="spacingAndGlyphs"><tspan x="215.1" textLength="9">HU4OQNOBK</tspan><tspan x="224.1" textLength="9.45" fill-opacity="0.85">DNGMRS0PN</tspan></text>
<text transform="rotate(386.26)" dy=".35em" lengthAdjust="spacingAndGlyphs"><tspan x="215.1" textLength="9">KDGNOXEWE</tspan><tspan x="224.1" textLength="5.57" fill-opacity="0.85">QSEOB</tspan></text>
<text transform="rotate(386.64)" dy=".35em" lengthAdjust="spacingAndGlyphs"><tspan x="215.1" textLength="9">8BARB5W6S</tspan><tspan x="224.1" textLength="21.16" fill-opacity="0.85">NNEDG62WQU66S5K2B3RBR</tspan></text>
<text transform="rotate(387.02)" dy=".35em" lengthAdjust="spacingAndGlyphs"><tspan x="215.1" textLength="9">KBAWRQXB4</tspan><tspan x="224.1" textLength="19.18" fill-opacity="0.85">8OBBQNMMRGGMO05NWMA</tspan></text>
<text transform="rotate(387.39)" dy=".35em" lengthAdjust="spacingAndGlyphs"><tspan x="215.1" textLength="9">60GOUMH6E</tspan><tspan x="224.1" textLength="16.64" fill-opacity="0.85">N3KN2RHS084WKESB</tspan></text>
<text transform="rotate(387.77)" dy=".35em" lengthAdjust="spacingAndGlyphs"><tspan x="215.1" textLength="9">OPBRDU6OW</tspan><tspan x="224.1" textLength="13.55" fill-opacity="0.85">HWMOH26BWU2ED</tspan></text>
<text transform="rotate(388.15)" dy=".35em" lengthAdjust="spacingAndGlyphs"><tspan x="215.1" textLength="9">NRNHNP3NH</tspan><tspan x="224.1" textLength="4.98" fill-opacity="0.85">RK0M</tspan></text>
<text transform="rotate(388.53)" dy=".35em" lengthAdjust="spacingAndGlyphs"><tspan x="215.1" textLength="9">P4DNBM6BX</tspan><tspan x="224.1" textLength="15.98" fill-opacity="0.85">REDEG2EKQ06R62B</tspan></text>
<text transform="rotate(388.9)" dy=".35em" lengthAdjust="spacingAndGlyphs"><tspan x="215.1" textLength="9">H846UDHOH</tspan><tspan x="224.1" textLength="17.1" fill-opacity="0.85">5MEEBDQ2EBANQSHRO</tspan></text>
<text transform="rotate(389.28)" dy=".35em" lengthAdjust="spacingAndGlyphs"><tspan x="215.1" textLength="9">NUPE46DHB</tspan><tspan x="224.1" textLength="12.99" fill-opacity="0.85">MONHESHBKONN</tspan></text>
<text transform="rotate(389.66)" dy=".35em" lengthAdjust="spacingAndGlyphs"><tspan x="215.1" textLength="9">E6K0N6B25</tspan><tspan x="224.1" textLength="15.9" fill-opacity="0.85">DPGW2D5WPNH0D85</tspan></text>
<text transform="rotate(390.03)" dy=".35em" lengthAdjust="spacingAndGlyphs"><tspan x="215.1" textLength="9">B8RQOMNBU</tspan><tspan x="224.1" textLength="15.84" fill-opacity="0.85">0O385ESWN68BSNG</tspan></text>
<text transform="rotate(390.41)" dy=".35em" lengthAdjust="spacingAndGlyphs"><tspan x="215.1" textLength="9">NEN8DBNDN</tspan><tspan x="224.1" textLength="15.52" fill-opacity="0.85">QN6SWXH58W65R2D</tspan></text>
</g>
<g fill="#25361e">
<text transform="rotate(390.79)" dy=".35em" lengthAdjust="spacingAndGlyphs"><tspan x="215.1" textLength="9">M4WPHDOKM</tspan><tspan x="224.1" textLength="12.23" fill-opacity="0.85">Q20ERUWMUHWK</tspan></text>
<text transform="rotate(391.17)" dy=".35em" lengthAdjust="spacingAndGlyphs"><tspan x="215.1" textLength="9">KUE8S3E5H</tspan><tspan x="224.1" textLength="11.75" fill-opacity="0.85">MNPOE28BR6Q</tspan></text>
<text transform="rotate(391.56)" dy=".35em" lengthAdjust="spacingAndGlyphs"><tspan x="215.1" textLength="9">SBU44N2DP</tspan><tspan x="224.1" textLength="11.48" fill-opacity="0.85">RK3KW0NSX2R</tspan></text>
<text transform="rotate(391.94)" dy=".35em" lengthAdjust="spacingAndGlyphs"><tspan x="215.1" textLength="9">3M3E6D0HD</tspan><tspan x="224.1" textLength="15.15" fill-opacity="0.85">Q6OS2WOMDPM0D0S</tspan></text>
<text transform="rotate(392.32)" dy=".35em" lengthAdjust="spacingAndGlyphs"><tspan x="215.1" textLength="9">MORUBB25D</tspan><tspan x="224.1" textLength="11.33" fill-opacity="0.85">BUAMUDR5MN5</tspan></text>
<text transform="rotate(392.7)" dy=".35em" lengthAdjust="spacingAndGlyphs"><tspan x="215.1" textLength="9">MQQHXWM2P</tspan><tspan x="224.1" textLength="16.25" fill-opacity="0.85">M2WUAHO5WXS8NB6X</tspan></text>
<text transform="rotate(393.09)" dy=".35em" lengthAdjust="spacingAndGlyphs"><tspan x="215.1" textLength="9">M53SPHDRM</tspan><tspan x="224.1" textLength="11.47" fill-opacity="0.85">A2M5EKB53UE</tspan></text>
<text transform="rotate(393.47)" dy=".35em" lengthAdjust="spacingAndGlyphs"><tspan x="215.1" textLength="9">4XM0SDEX0</tspan><tspan x="224.1" textLength="13.77" fill-opacity="0.85">E520BE3NWM84S</tspan></text>
<text transform="rotate(393.85)" dy=".35em" lengthAdjust="spacingAndGlyphs"><tspan x="215.1" textLength="9">PKN20OW58</tspan><tspan x="224.1" textLength="9.62" fill-opacity="0.85">DR8WN3HAB</tspan></text>
<text transform="rotate(394.24)" dy=".35em" lengthAdjust="spacingAndGlyphs"><tspan x="215.1" textLength="9">EWB3MAWNR</tspan><tspan x="224.1" textLength="12.79" fill-opacity="0.85">O6D6W6EM5SA6</tspan></text>
<text transform="rotate(394.62)" dy=".35em" lengthAdjust="spacingAndGlyphs"><tspan x="215.1" textLength="9">KKW5KMWHE</tspan><tspan x="224.1" textLength="14.66" fill-opacity="0.85">PDPWOBAMHG2EQO</tspan></text>
<text transform="rotate(395)" dy=".35em" lengthAdjust="spacingAndGlyphs"><tspan x="215.1" textLength="9">NBNX3SR0D</tspan><tspan x="224.1" textLength="19.54" fill-opacity="0.85">3DPE0RROR2BKSPEG3W3</tspan></text>
<text transform="rotate(395.38)" dy=".35em" lengthAdjust="spacingAndGlyphs"><tspan x="215.1" textLength="9">BHBO48WEB</tspan><tspan x="224.1" textLength="20.1" fill-opacity="0.85">MDMKMRPEH02XEDX4SPWN</tspan></text>
<text transform="rotate(395.77)" dy=".35em" lengthAdjust="spacingAndGlyphs"><tspan x="215.1" textLength="9">S3W2M4EWX</tspan><tspan x="224.1" textLength="14.29" fill-opacity="0.85">BWO8RQ2NEA6282</tspan></text>
<text transform="rotate(396.15)" dy=".35em" lengthAdjust="spacingAndGlyphs"><tspan x="215.1" textLength="9">DOQOW2O40</tspan><tspan x="224.1" textLength="11.79" fill-opacity="0.85">0SEP3OEW5X0</tspan></text>
<text transform="rotate(396.53)" dy=".35em" lengthAdjust="spacingAndGlyphs"><tspan x="215.1" textLength="9">S54AHWEPO</tspan><tspan x="224.1" textLength="12.33" fill-opacity="0.85">BKGH2ORBHDM0</tspan></text>
<text transform="rotate(396.91)" dy=".35em" lengthAdjust="spacingAndGlyphs"><tspan x="215.1" textLength="9">AX2EO2E0B</tspan><tspan x="224.1" textLength="21.29" fill-opacity="0.85">DMUM06HNR6M6OSSBN8UEN</tspan></text>
<text transform="rotate(397.3)" dy=".35em" lengthAdjust="spacingAndGlyphs"><tspan x="215.1" textLength="9">X5D6BOKS2</tspan><tspan x="224.1" textLength="25.9" fill-opacity="0.85">6HS4HQMRBRAB8B4G3UHPSNWMH</tspan></text>
<text transform="rotate(397.68)" dy=".35em" lengthAdjust="spacingAndGlyphs"><tspan x="215.1" textLength="9">H243KDB5B</tspan><tspan x="224.1" textLength="14.72" fill-opacity="0.85">NAHXO5SUGMQH4P</tspan></text>
<text transform="rotate(398.06)" dy=".35em" lengthAdjust="spacingAndGlyphs"><tspan x="215.1" textLength="9">OSW8UOWDH</tspan><tspan x="224.1" textLength="27.57" fill-opacity="0.85">66X2OXR6AUGHHO53N6HSMUM355E</tspan></text>
<text transform="rotate(398.45)" dy=".35em" lengthAdjust="spacingAndGlyphs"><tspan x="215.1" textLength="9">MKB8NUB5G</tspan><tspan x="224.1" textLength="14.58" fill-opacity="0.85">R5Q8SAROBOOE8O</tspan></text>
<text transform="rotate(398.83)" dy=".35em" lengthAdjust="spacingAndGlyphs"><tspan x="215.1" textLength="9">SEH8RAS55</tspan><tspan x="224.1" textLength="16.02" fill-opacity="0.85">ESHB8K28HENUOWS3</tspan></text>
<text transform="rotate(399.21)" dy=".35em" lengthAdjust="spacingAndGlyphs"><tspan x="215.1" textLength="9">OBUBNQDR8</tspan><tspan x="224.1" textLength="24.9" fill-opacity="0.85">40OOG4XNUGS3HBWOASOPRW2W</tspan></text>
<text transform="rotate(399.59)" dy=".35em" lengthAdjust="spacingAndGlyphs"><tspan x="215.1" textLength="9">SSWBAKMNM</tspan><tspan x="224.1" textLength="12.97" fill-opacity="0.85">SS0R8BXO3NWH</tspan></text>
<text transform="rotate(399.98)" dy=".35em" lengthAdjust="spacingAndGlyphs"><tspan x="215.1" textLength="9">OOHSRR33Q</tspan><tspan x="224.1" textLength="12.85" fill-opacity="0.85">SHRSRB08QE8M</tspan></text>
<text transform="rotate(400.36)" dy=".35em" lengthAdjust="spacingAndGlyphs"><tspan x="215.1" textLength="9">P3D4BUUHN</tspan><tspan x="224.1" textLength="15.31" fill-opacity="0.85">DSRQHN82G2BNORG</tspan></text>
<text transform="rotate(400.74)" dy=".35em" lengthAdjust="spacingAndGlyphs"><tspan x="215.1" textLength="9">OBOSM86OH</tspan><tspan x="224.1" textLength="12.46" fill-opacity="0.85">EXNGSNWO6OE3</tspan></text>
<text transform="rotate(401.12)" dy=".35em" lengthAdjust="spacingAndGlyphs"><tspan x="215.1" textLength="9">H084SONSW</tspan><tspan x="224.1" textLength="24.32" fill-opacity="0.85">R5S8OANAA2K2GRODHOGBX8EO</tspan></text>
<text transform="rotate(401.51)" dy=".35em" lengthAdjust="spacingAndGlyphs"><tspan x="215.1" textLength="9">UHHBU2KW8</tspan><tspan x="224.1" textLength="15.34" fill-opacity="0.85">QQN0BM635A523NO</tspan></text>
<text transform="rotate(401.89)" dy=".35em" lengthAdjust="spacingAndGlyphs"><tspan x="215.1" textLength="9">BEBG85XD3</tspan><tspan x="224.1" textLength="16.1" fill-opacity="0.85">3BPUNN4O3QBWA4RB</tspan></text>
<text transform="rotate(402.27)" dy=".35em" lengthAdjust="spacingAndGlyphs"><tspan x="215.1" textLength="9">PGDMRD4QO</tspan><tspan x="224.1" textLength="11.75" fill-opacity="0.85">GRXHS4OOXB3</tspan></text>
<text transform="rotate(402.65)" dy=".35em" lengthAdjust="spacingAndGlyphs"><tspan x="215.1" textLength="9">0SM3EPD8R</tspan><tspan x="224.1" textLength="8.88" fill-opacity="0.85">OG2E8GSK</tspan></text>
<text transform="rotate(403.04)" dy=".35em" lengthAdjust="spacingAndGlyphs"><tspan x="215.1" textLength="9">DMBUHRW5N</tspan><tspan x="224.1" textLength="21.26" fill-opacity="0.85">SSM0EBRAPWDPWQHOSRENR</tspan></text>
<text transform="rotate(403.42)" dy=".35em" lengthAdjust="spacingAndGlyphs"><tspan x="215.1" textLength="9">GKSRXWSEO</tspan><tspan x="224.1" textLength="18.22" fill-opacity="0.85">ERN43RO0H8BNMKWUPS</tspan></text>
<text transform="rotate(403.8)" dy=".35em" lengthAdjust="spacingAndGlyphs"><tspan x="215.1" textLength="9">5B4MMWQK3</tspan><tspan x="224.1" textLength="21.71" fill-opacity="0.85">WSH2P5SDEU8KBGXD2SXBN</tspan></text>
<text transform="rotate(404.19)" dy=".35em" lengthAdjust="spacingAndGlyphs"><tspan x="215.1" textLength="9">GXR2XRDDS</tspan><tspan x="224.1" textLength="12.56" fill-opacity="0.85">HAPUASKQBBSD</tspan></text>
<text transform="rotate(404.57)" dy=".35em" lengthAdjust="spacingAndGlyphs"><tspan x="215.1" textLength="9">3NDSKPH4O</tspan><tspan x="224.1" textLength="14.11" fill-opacity="0.85">2UXENH58ABSRHW</tspan></text>
<text transform="rotate(404.95)" dy=".35em" lengthAdjust="spacingAndGlyphs"><tspan x="215.1" textLength="9">EQDMURQOQ</tspan><tspan x="224.1" textLength="15.24" fill-opacity="0.85">U60RAH8U3U6BM45</tspan></text>
<text transform="rotate(405.33)" dy=".35em" lengthAdjust="spacingAndGlyphs"><tspan x="215.1" textLength="9">XHBNXXWHW</tspan><tspan x="224.1" textLength="21.74" fill-opacity="0.85">0WDPPW8HESBNNM2484OHH</tspan></text>
<text transform="rotate(405.72)" dy=".35em" lengthAdjust="spacingAndGlyphs"><tspan x="215.1" textLength="9">BNOS6XEEB</tspan><tspan x="224.1" textLength="13.18" fill-opacity="0.85">KH80RNR2XSA5O</tspan></text>
<text transform="rotate(406.1)" dy=".35em" lengthAdjust="spacingAndGlyphs"><tspan x="215.1" textLength="9">8UO6SDSW5</tspan><tspan x="224.1" textLength="13.55" fill-opacity="0.85">UBW5ORONKRX28</tspan></text>
<text transform="rotate(406.48)" dy=".35em" lengthAdjust="spacingAndGlyphs"><tspan x="215.1" textLength="9">H5UBNSNDG</tspan><tspan x="224.1" textLength="12.36" fill-opacity="0.85">0HGMNPDNMO4B</tspan></text>
<text transform="rotate(406.86)" dy=".35em" lengthAdjust="spacingAndGlyphs"><tspan x="215.1" textLength="9">UGMSDHR6E</tspan><tspan x="224.1" textLength="15.12" fill-opacity="0.85">SNRHMMP5DNHN5HM</tspan></text>
<text transform="rotate(407.25)" dy=".35em" lengthAdjust="spacingAndGlyphs"><tspan x="215.1" textLength="9">EK5HQH2WR</tspan><tspan x="224.1" textLength="13.72" fill-opacity="0.85">OWS4USASMKKB2</tspan></text>
<text transform="rotate(407.63)" dy=".35em" lengthAdjust="spacingAndGlyphs"><tspan x="215.1" textLength="9">DRH3ODPNA</tspan><tspan x="224.1" textLength="12.89" fill-opacity="0.85">SD8N6XRNHEON</tspan></text>
<text transform="rotate(408.01)" dy=".35em" lengthAdjust="spacingAndGlyphs"><tspan x="215.1" textLength="9">GRMQQ6SNA</tspan><tspan x="224.1" textLength="12.4" fill-opacity="0.85">R3R5WD0NOG8N</tspan></text>
<text transform="rotate(408.4)" dy=".35em" lengthAdjust="spacingAndGlyphs"><tspan x="215.1" textLength="9">B0EMQ32MN</tspan><tspan x="224.1" textLength="6.05" fill-opacity="0.85">KD5DHD</tspan></text>
<text transform="rotate(408.78)" dy=".35em" lengthAdjust="spacingAndGlyphs"><tspan x="215.1" textLength="9">WMESEO8MW</tspan><tspan x="224.1" textLength="16.21" fill-opacity="0.85">XPNMRM0KHHUHR6KW</tspan></text>
<text transform="rotate(409.16)" dy=".35em" lengthAdjust="spacingAndGlyphs"><tspan x="215.1" textLength="9">SG0GDBSWM</tspan><tspan x="224.1" textLength="9.02" fill-opacity="0.85">0BUEU6ADE</tspan></text>
<text transform="rotate(409.54)" dy=".35em" lengthAdjust="spacingAndGlyphs"><tspan x="215.1" textLength="9">0NDUNOWX2</tspan><tspan x="224.1" textLength="19.81" fill-opacity="0.85">DGRSON8BOWMORHH0XOR</tspan></text>
<text transform="rotate(409.93)" dy=".35em" lengthAdjust="spacingAndGlyphs"><tspan x="215.1" textLength="9">DMBGXPXMO</tspan><tspan x="224.1" textLength="24.3" fill-opacity="0.85">HXNS0EBPHWNMBSBMHE65PQEP</tspan></text>
<text transform="rotate(410.31)" dy=".35em" lengthAdjust="spacingAndGlyphs"><tspan x="215.1" textLength="9">DXB6XHOXR</tspan><tspan x="224.1" textLength="14.94" fill-opacity="0.85">GODWMEHWRDEKDK</tspan></text>
</g>
<g fill="#453a1b">
<text transform="rotate(410.68)" dy=".35em" lengthAdjust="spacingAndGlyphs"><tspan x="215.1" textLength="9">SBPAEA84D</tspan><tspan x="224.1" textLength="11.6" fill-opacity="0.85">4PWDSGS4GNE</tspan></text>
<text transform="rotate(411.05)" dy=".35em" lengthAdjust="spacingAndGlyphs"><tspan x="215.1" textLength="9">NB6SAD2H5</tspan><tspan x="224.1" textLength="12.36" fill-opacity="0.85">MBDH4RRHBBMK</tspan></text>
<text transform="rotate(411.42)" dy=".35em" lengthAdjust="spacingAndGlyphs"><tspan x="215.1" textLength="9">OMNNOOSM8</tspan><tspan x="224.1" textLength="11.31" fill-opacity="0.85">B2NSQE00HNS</tspan></text>
<text transform="rotate(411.79)" dy=".35em" lengthAdjust="spacingAndGlyphs"><tspan x="215.1" textLength="9">03S3XNDUB</tspan><tspan x="224.1" textLength="7.11" fill-opacity="0.85">PWHRQEO</tspan></text>
<text transform="rotate(412.16)" dy=".35em" lengthAdjust="spacingAndGlyphs"><tspan x="215.1" textLength="9">OA6OWXPRB</tspan><tspan x="224.1" textLength="20.37" fill-opacity="0.85">NEDKRQBS0NNDKAOUP2BE</tspan></text>
<text transform="rotate(412.53)" dy=".35em" lengthAdjust="spacingAndGlyphs"><tspan x="215.1" textLength="9">B3EQB0O2B</tspan><tspan x="224.1" textLength="10.47" fill-opacity="0.85">QNWQ4NDA0E</tspan></text>
<text transform="rotate(412.9)" dy=".35em" lengthAdjust="spacingAndGlyphs"><tspan x="215.1" textLength="9">ANHMUWENO</tspan><tspan x="224.1" textLength="18.12" fill-opacity="0.85">O8BKASE3EDBBKN6MNM</tspan></text>
<text transform="rotate(413.27)" dy=".35em" lengthAdjust="spacingAndGlyphs"><tspan x="215.1" textLength="9">H544OSRXH</tspan><tspan x="224.1" textLength="13.67" fill-opacity="0.85">E5ROB86W6XBWR</tspan></text>
<text transform="rotate(413.63)" dy=".35em" lengthAdjust="spacingAndGlyphs"><tspan x="215.1" textLength="9">OMGDHSERB</tspan><tspan x="224.1" textLength="4.77" fill-opacity="0.85">SHBS</tspan></text>
<text transform="rotate(414)" dy=".35em" lengthAdjust="spacingAndGlyphs"><tspan x="215.1" textLength="9">OWOESUE6D</tspan><tspan x="224.1" textLength="17.12" fill-opacity="0.85">65BMK854MNHSNWDUE</tspan></text>
<text transform="rotate(414.37)" dy=".35em" lengthAdjust="spacingAndGlyphs"><tspan x="215.1" textLength="9">KESMEHXP8</tspan><tspan x="224.1" textLength="12.79" fill-opacity="0.85">OSM5N28WW2OO</tspan></text>
<text transform="rotate(414.74)" dy=".35em" lengthAdjust="spacingAndGlyphs"><tspan x="215.1" textLength="9">8DMM5582B</tspan><tspan x="224.1" textLength="14.79" fill-opacity="0.85">MND8ODABNOKW3K</tspan></text>
<text transform="rotate(415.11)" dy=".35em" lengthAdjust="spacingAndGlyphs"><tspan x="215.1" textLength="9">54HGQRS85</tspan><tspan x="224.1" textLength="10.95" fill-opacity="0.85">R6EAWHGEH2</tspan></text>
<text transform="rotate(415.48)" dy=".35em" lengthAdjust="spacingAndGlyphs"><tspan x="215.1" textLength="9">2M8MAUKAD</tspan><tspan x="224.1" textLength="12.35" fill-opacity="0.85">8K0OW2HN3D36</tspan></text>
<text transform="rotate(415.85)" dy=".35em" lengthAdjust="spacingAndGlyphs"><tspan x="215.1" textLength="9">8EMAMNKP6</tspan><tspan x="224.1" textLength="10.95" fill-opacity="0.85">K8HDW3O5OE</tspan></text>
<text transform="rotate(416.22)" dy=".35em" lengthAdjust="spacingAndGlyphs"><tspan x="215.1" textLength="9">QH33AEKNW</tspan><tspan x="224.1" textLength="13.84" fill-opacity="0.85">MN85OMA08SSMB</tspan></text>
</g>
<g fill="#34313f">
<text transform="rotate(416.6)" dy=".35em" lengthAdjust="spacingAndGlyphs"><tspan x="215.1" textLength="9">6X8GNDOQW</tspan><tspan x="224.1" textLength="9.55" fill-opacity="0.85">E2ED8BWX5</tspan></text>
<text transform="rotate(416.99)" dy=".35em" lengthAdjust="spacingAndGlyphs"><tspan x="215.1" textLength="9">8BKRO68DS</tspan><tspan x="224.1" textLength="11.66" fill-opacity="0.85">62H3A6MUG4M</tspan></text>
<text transform="rotate(417.38)" dy=".35em" lengthAdjust="spacingAndGlyphs"><tspan x="215.1" textLength="9">XSHXEORBD</tspan><tspan x="224.1" textLength="4.65" fill-opacity="0.85">SRG8</tspan></text>
<text transform="rotate(417.77)" dy=".35em" lengthAdjust="spacingAndGlyphs"><tspan x="215.1" textLength="9">SOB8M2RU3</tspan><tspan x="224.1" textLength="11.12" fill-opacity="0.85">HHMR08B2WPN</tspan></text>
<text transform="rotate(418.16)" dy=".35em" lengthAdjust="spacingAndGlyphs"><tspan x="215.1" textLength="9">RG3KWN2QS</tspan><tspan x="224.1" textLength="13.44" fill-opacity="0.85">RMW5WOEEEOW6W</tspan></text>
<text transform="rotate(418.55)" dy=".35em" lengthAdjust="spacingAndGlyphs"><tspan x="215.1" textLength="9">HHONRUSER</tspan><tspan x="224.1" textLength="13.52" fill-opacity="0.85">HMKEREWKSSOND</tspan></text>
<text transform="rotate(418.95)" dy=".35em" lengthAdjust="spacingAndGlyphs"><tspan x="215.1" textLength="9">MUESHHK2H</tspan><tspan x="224.1" textLength="13.25" fill-opacity="0.85">SNWHX8E2B4UND</tspan></text>
<text transform="rotate(419.34)" dy=".35em" lengthAdjust="spacingAndGlyphs"><tspan x="215.1" textLength="9">MKH4XND8H</tspan><tspan x="224.1" textLength="10.8" fill-opacity="0.85">AADGNRKHRD</tspan></text>
<text transform="rotate(419.73)" dy=".35em" lengthAdjust="spacingAndGlyphs"><tspan x="215.1" textLength="9">5OKDHN5ME</tspan><tspan x="224.1" textLength="14.51" fill-opacity="0.85">6NDGQ4QS2MMREM</tspan></text>
<text transform="rotate(420.12)" dy=".35em" lengthAdjust="spacingAndGlyphs"><tspan x="215.1" textLength="9">MSDGDWNDB</tspan><tspan x="224.1" textLength="7.43" fill-opacity="0.85">QDDEPOO</tspan></text>
<text transform="rotate(420.51)" dy=".35em" lengthAdjust="spacingAndGlyphs"><tspan x="215.1" textLength="9">MQHUOWRUP</tspan><tspan x="224.1" textLength="23.09" fill-opacity="0.85">2M3UU5WBBS0QMBBEG3DMN3B</tspan></text>
<text transform="rotate(420.9)" dy=".35em" lengthAdjust="spacingAndGlyphs"><tspan x="215.1" textLength="9">3Q8WKOWPD</tspan><tspan x="224.1" textLength="12.21" fill-opacity="0.85">UWM2MANKDNSP</tspan></text>
<text transform="rotate(421.3)" dy=".35em" lengthAdjust="spacingAndGlyphs"><tspan x="215.1" textLength="9">MRBHHHDNK</tspan><tspan x="224.1" textLength="12.28" fill-opacity="0.85">BERE3DRMKBNE</tspan></text>
<text transform="rotate(421.69)" dy=".35em" lengthAdjust="spacingAndGlyphs"><tspan x="215.1" textLength="9">W34BDHH4P</tspan><tspan x="224.1" textLength="12.29" fill-opacity="0.85">X5UONON24HWD</tspan></text>
<text transform="rotate(422.08)" dy=".35em" lengthAdjust="spacingAndGlyphs"><tspan x="215.1" textLength="9">OKKASH3MH</tspan><tspan x="224.1" textLength="13.64" fill-opacity="0.85">BDDWN5WROUWPS</tspan></text>
<text transform="rotate(422.47)" dy=".35em" lengthAdjust="spacingAndGlyphs"><tspan x="215.1" textLength="9">55AON8KWH</tspan><tspan x="224.1" textLength="4.28" fill-opacity="0.85">DPX3</tspan></text>
<text transform="rotate(422.86)" dy=".35em" lengthAdjust="spacingAndGlyphs"><tspan x="215.1" textLength="9">KMH83NENW</tspan><tspan x="224.1" textLength="14.84" fill-opacity="0.85">0BWNR5DBRMHMBO</tspan></text>
<text transform="rotate(423.25)" dy=".35em" lengthAdjust="spacingAndGlyphs"><tspan x="215.1" textLength="9">ERK4RDGOB</tspan><tspan x="224.1" textLength="12.57" fill-opacity="0.85">OBRWXNABG6WA</tspan></text>
<text transform="rotate(423.65)" dy=".35em" lengthAdjust="spacingAndGlyphs"><tspan x="215.1" textLength="9">BHUGMOKWW</tspan><tspan x="224.1" textLength="11.4" fill-opacity="0.85">2E6EU66E00A</tspan></text>
<text transform="rotate(424.04)" dy=".35em" lengthAdjust="spacingAndGlyphs"><tspan x="215.1" textLength="9">WXW2ND5WE</tspan><tspan x="224.1" textLength="10.58" fill-opacity="0.85">EMKSKUSQ34</tspan></text>
<text transform="rotate(424.43)" dy=".35em" lengthAdjust="spacingAndGlyphs"><tspan x="215.1" textLength="9">O25XHS0HD</tspan><tspan x="224.1" textLength="6.14" fill-opacity="0.85">HB0RWD</tspan></text>
<text transform="rotate(424.82)" dy=".35em" lengthAdjust="spacingAndGlyphs"><tspan x="215.1" textLength="9">PBPQBDNRR</tspan><tspan x="224.1" textLength="10.89" fill-opacity="0.85">KXSKOSH4OD</tspan></text>
<text transform="rotate(425.21)" dy=".35em" lengthAdjust="spacingAndGlyphs"><tspan x="215.1" textLength="9">O52S3PNNO</tspan><tspan x="224.1" textLength="13.22" fill-opacity="0.85">8QPQQ6MRNDO0E</tspan></text>
<text transform="rotate(425.6)" dy=".35em" lengthAdjust="spacingAndGlyphs"><tspan x="215.1" textLength="9">4D4ROH6R0</tspan><tspan x="224.1" textLength="12.53" fill-opacity="0.85">MDEBDENMEDN0</tspan></text>
</g>
<g fill="#433132">
<text transform="rotate(425.99)" dy=".35em" lengthAdjust="spacingAndGlyphs"><tspan x="215.1" textLength="9">RWEXOMOSE</tspan><tspan x="224.1" textLength="13.22" fill-opacity="0.85">HB8XR5W8G3NOB</tspan></text>
<text transform="rotate(426.37)" dy=".35em" lengthAdjust="spacingAndGlyphs"><tspan x="215.1" textLength="9">RSBSMADG2</tspan><tspan x="224.1" textLength="10.67" fill-opacity="0.85">UARSBNNRGS</tspan></text>
<text transform="rotate(426.75)" dy=".35em" lengthAdjust="spacingAndGlyphs"><tspan x="215.1" textLength="9">DOPPENQBE</tspan><tspan x="224.1" textLength="11.31" fill-opacity="0.85">ONQOO8DUDA6</tspan></text>
<text transform="rotate(427.13)" dy=".35em" lengthAdjust="spacingAndGlyphs"><tspan x="215.1" textLength="9">OXQUHMRSS</tspan><tspan x="224.1" textLength="9.6" fill-opacity="0.85">NK84DH03Q</tspan></text>
<text transform="rotate(427.51)" dy=".35em" lengthAdjust="spacingAndGlyphs"><tspan x="215.1" textLength="9">RDRRQSM4K</tspan><tspan x="224.1" textLength="7.99" fill-opacity="0.85">R4HO3XE</tspan></text>
<text transform="rotate(427.89)" dy=".35em" lengthAdjust="spacingAndGlyphs"><tspan x="215.1" textLength="9">HWNGKWHD0</tspan><tspan x="224.1" textLength="9.74" fill-opacity="0.85">NSEDD44D5</tspan></text>
<text transform="rotate(428.27)" dy=".35em" lengthAdjust="spacingAndGlyphs"><tspan x="215.1" textLength="9">3QOMDSK0B</tspan><tspan x="224.1" textLength="11.82" fill-opacity="0.85">NR4E5DEEBOE</tspan></text>
<text transform="rotate(428.65)" dy=".35em" lengthAdjust="spacingAndGlyphs"><tspan x="215.1" textLength="9">MNSE8QNRG</tspan><tspan x="224.1" textLength="4.25" fill-opacity="0.85">OMBX</tspan></text>
<text transform="rotate(429.03)" dy=".35em" lengthAdjust="spacingAndGlyphs"><tspan x="215.1" textLength="9">0EXKEUROQ</tspan><tspan x="224.1" textLength="11.29" fill-opacity="0.85">APOQKNEBWUD</tspan></text>
<text transform="rotate(429.41)" dy=".35em" lengthAdjust="spacingAndGlyphs"><tspan x="215.1" textLength="9">5EK2XS3WN</tspan><tspan x="224.1" textLength="10.6" fill-opacity="0.85">DPDA5BDUEE</tspan></text>
<text transform="rotate(429.79)" x="215.1" dy=".35em" textLength="11.96" lengthAdjust="spacingAndGlyphs">0RWGBQSBODP</text>
<text transform="rotate(430.17)" dy=".35em" lengthAdjust="spacingAndGlyphs"><tspan x="215.1" textLength="9">MBDDG8RD4</tspan><tspan x="224.1" textLength="9.1" fill-opacity="0.85">MS4QEPWS2</tspan></text>
<text transform="rotate(430.55)" dy=".35em" lengthAdjust="spacingAndGlyphs"><tspan x="215.1" textLength="9">HDB80BRKW</tspan><tspan x="224.1" textLength="11.7" fill-opacity="0.85">E0NMBDKEUSM</tspan></text>
<text transform="rotate(430.93)" dy=".35em" lengthAdjust="spacingAndGlyphs"><tspan x="215.1" textLength="9">NNEE2BH8M</tspan><tspan x="224.1" textLength="14.34" fill-opacity="0.85">PEQ6WRNNW86H4B</tspan></text>
<text transform="rotate(431.31)" dy=".35em" lengthAdjust="spacingAndGlyphs"><tspan x="215.1" textLength="9">564N44R0E</tspan><tspan x="224.1" textLength="18.98" fill-opacity="0.85">HW4KXOO6KRBER4SX40</tspan></text>
<text transform="rotate(431.69)" dy=".35em" lengthAdjust="spacingAndGlyphs"><tspan x="215.1" textLength="9">EWNAPQBRM</tspan><tspan x="224.1" textLength="9.9" fill-opacity="0.85">UBWMUNB4W</tspan></text>
<text transform="rotate(432.07)" dy=".35em" lengthAdjust="spacingAndGlyphs"><tspan x="215.1" textLength="9">OKH83S86O</tspan><tspan x="224.1" textLength="18.18" fill-opacity="0.85">SHQEM668QSNSDERN4N</tspan></text>
<text transform="rotate(432.45)" dy=".35em" lengthAdjust="spacingAndGlyphs"><tspan x="215.1" textLength="9">B33OHHBWO</tspan><tspan x="224.1" textLength="8.06" fill-opacity="0.85">QKME4GWW</tspan></text>
<text transform="rotate(432.83)" dy=".35em" lengthAdjust="spacingAndGlyphs"><tspan x="215.1" textLength="9">WGDEERXAW</tspan><tspan x="224.1" textLength="15.36" fill-opacity="0.85">5SHPRGHDKO8EOBH</tspan></text>
<text transform="rotate(433.21)" dy=".35em" lengthAdjust="spacingAndGlyphs"><tspan x="215.1" textLength="9">NU2DHAWD2</tspan><tspan x="224.1" textLength="8.93" fill-opacity="0.85">NN3NQHM2</tspan></text>
<text transform="rotate(433.59)" dy=".35em" lengthAdjust="spacingAndGlyphs"><tspan x="215.1" textLength="9">MKOP6UXD5</tspan><tspan x="224.1" textLength="7.93" fill-opacity="0.85">DSHWNBR</tspan></text>
<text transform="rotate(433.97)" dy=".35em" lengthAdjust="spacingAndGlyphs"><tspan x="215.1" textLength="9">DUXE44WWO</tspan><tspan x="224.1" textLength="17.15" fill-opacity="0.85">MERBMDH4KRN3BXKPR</tspan></text>
<text transform="rotate(434.35)" dy=".35em" lengthAdjust="spacingAndGlyphs"><tspan x="215.1" textLength="9">2MQDD2MKW</tspan><tspan x="224.1" textLength="11.72" fill-opacity="0.85">PAW4BRGPNQW</tspan></text>
<text transform="rotate(434.73)" dy=".35em" lengthAdjust="spacingAndGlyphs"><tspan x="215.1" textLength="9">0SB6M4RD2</tspan><tspan x="224.1" textLength="8.76" fill-opacity="0.85">HMGBBXME</tspan></text>
<text transform="rotate(435.11)" dy=".35em" lengthAdjust="spacingAndGlyphs"><tspan x="215.1" textLength="9">6GBU0ESMN</tspan><tspan x="224.1" textLength="11.51" fill-opacity="0.85">4DSR4QPEAA4</tspan></text>
<text transform="rotate(435.49)" dy=".35em" lengthAdjust="spacingAndGlyphs"><tspan x="215.1" textLength="9">HHEOMQSWE</tspan><tspan x="224.1" textLength="18.34" fill-opacity="0.85">E34AHWH4PGHHQXSSNN</tspan></text>
<text transform="rotate(435.87)" dy=".35em" lengthAdjust="spacingAndGlyphs"><tspan x="215.1" textLength="9">BODMS4EMN</tspan><tspan x="224.1" textLength="10.39" fill-opacity="0.85">WXNADMHRRB</tspan></text>
<text transform="rotate(436.25)" x="215.1" dy=".35em" textLength="10.88" lengthAdjust="spacingAndGlyphs">QENEWHS5PQ</text>
<text transform="rotate(436.63)" dy=".35em" lengthAdjust="spacingAndGlyphs"><tspan x="215.1" textLength="9">H8R2RROQO</tspan><tspan x="224.1" textLength="19.94" fill-opacity="0.85">2NHWS0WWAAQ4OQRXNUE</tspan></text>
<text transform="rotate(437.02)" dy=".35em" lengthAdjust="spacingAndGlyphs"><tspan x="215.1" textLength="9">4AKH8H4GB</tspan><tspan x="224.1" textLength="9.1" fill-opacity="0.85">DAQE6HBOR</tspan></text>
<text transform="rotate(437.4)" dy=".35em" lengthAdjust="spacingAndGlyphs"><tspan x="215.1" textLength="9">WRPRMDHXH</tspan><tspan x="224.1" textLength="7.03" fill-opacity="0.85">HUMWS32</tspan></text>
<text transform="rotate(437.78)" dy=".35em" lengthAdjust="spacingAndGlyphs"><tspan x="215.1" textLength="9">DB2KHDRG6</tspan><tspan x="224.1" textLength="8.92" fill-opacity="0.85">RS0H0RG8</tspan></text>
<text transform="rotate(438.16)" dy=".35em" lengthAdjust="spacingAndGlyphs"><tspan x="215.1" textLength="9">KWNWMR3OU</tspan><tspan x="224.1" textLength="7.95" fill-opacity="0.85">PMM33RO</tspan></text>
<text transform="rotate(438.54)" dy=".35em" lengthAdjust="spacingAndGlyphs"><tspan x="215.1" textLength="9">RB6SO28WE</tspan><tspan x="224.1" textLength="11.86" fill-opacity="0.85">OED6EUO5OMD</tspan></text>
<text transform="rotate(438.92)" dy=".35em" lengthAdjust="spacingAndGlyphs"><tspan x="215.1" textLength="9">50HGM4W32</tspan><tspan x="224.1" textLength="10.52" fill-opacity="0.85">PQEUWANM53</tspan></text>
<text transform="rotate(439.3)" dy=".35em" lengthAdjust="spacingAndGlyphs"><tspan x="215.1" textLength="9">OO0MAP43B</tspan><tspan x="224.1" textLength="11.75" fill-opacity="0.85">MKNPW4EWDKW</tspan></text>
<text transform="rotate(439.68)" dy=".35em" lengthAdjust="spacingAndGlyphs"><tspan x="215.1" textLength="9">DB36MSQ5D</tspan><tspan x="224.1" textLength="8.73" fill-opacity="0.85">3BK4QAA6</tspan></text>
<text transform="rotate(440.06)" x="215.1" dy=".35em" textLength="11.92" lengthAdjust="spacingAndGlyphs">QEKNOSD00DD</text>
<text transform="rotate(440.44)" dy=".35em" lengthAdjust="spacingAndGlyphs"><tspan x="215.1" textLength="9">50NMGOKOB</tspan><tspan x="224.1" textLength="8.56" fill-opacity="0.85">KHH4RE2W</tspan></text>
<text transform="rotate(440.82)" dy=".35em" lengthAdjust="spacingAndGlyphs"><tspan x="215.1" textLength="9">ESQW5Q4NM</tspan><tspan x="224.1" textLength="19.13" fill-opacity="0.85">XOBWBDUMWGHE30XDEW0</tspan></text>
<text transform="rotate(441.2)" dy=".35em" lengthAdjust="spacingAndGlyphs"><tspan x="215.1" textLength="9">WAWSNBOH3</tspan><tspan x="224.1" textLength="9.34" fill-opacity="0.85">NSXDSG0RE</tspan></text>
<text transform="rotate(441.58)" dy=".35em" lengthAdjust="spacingAndGlyphs"><tspan x="215.1" textLength="9">XUR8D4OSH</tspan><tspan x="224.1" textLength="8.21" fill-opacity="0.85">SNNED6HN</tspan></text>
<text transform="rotate(441.96)" dy=".35em" lengthAdjust="spacingAndGlyphs"><tspan x="215.1" textLength="9">SUAH08DRO</tspan><tspan x="224.1" textLength="11.82" fill-opacity="0.85">OAH86MBUENM</tspan></text>
<text transform="rotate(442.34)" dy=".35em" lengthAdjust="spacingAndGlyphs"><tspan x="215.1" textLength="9">8O4KNSU2H</tspan><tspan x="224.1" textLength="16.75" fill-opacity="0.85">WX6OONWD0MK5MHS5</tspan></text>
<text transform="rotate(442.72)" dy=".35em" lengthAdjust="spacingAndGlyphs"><tspan x="215.1" textLength="9">QGU3S22M4</tspan><tspan x="224.1" textLength="10.15" fill-opacity="0.85">XHSMQS8N3M</tspan></text>
<text transform="rotate(443.1)" dy=".35em" lengthAdjust="spacingAndGlyphs"><tspan x="215.1" textLength="9">SN33MRWS6</tspan><tspan x="224.1" textLength="9.87" fill-opacity="0.85">GBD3ODHGH</tspan></text>
<text transform="rotate(443.48)" dy=".35em" lengthAdjust="spacingAndGlyphs"><tspan x="215.1" textLength="9">M6M4QM02R</tspan><tspan x="224.1" textLength="3.39" fill-opacity="0.85">BS4</tspan></text>
<text transform="rotate(443.86)" dy=".35em" lengthAdjust="spacingAndGlyphs"><tspan x="215.1" textLength="9">SS6EE2RHD</tspan><tspan x="224.1" textLength="9.31" fill-opacity="0.85">H0DEAPBR6</tspan></text>
<text transform="rotate(444.24)" dy=".35em" lengthAdjust="spacingAndGlyphs"><tspan x="215.1" textLength="9">O6XHMDPXD</tspan><tspan x="224.1" textLength="8.87" fill-opacity="0.85">8DMNPRRW</tspan></text>
<text transform="rotate(444.62)" dy=".35em" lengthAdjust="spacingAndGlyphs"><tspan x="215.1" textLength="9">0KHDSOMW4</tspan><tspan x="224.1" textLength="6.5" fill-opacity="0.85">UUB60X</tspan></text>
<text transform="rotate(445)" dy=".35em" lengthAdjust="spacingAndGlyphs"><tspan x="215.1" textLength="9">4DKEDKSWR</tspan><tspan x="224.1" textLength="13.41" fill-opacity="0.85">PBOD4XD0E0REG</tspan></text>
<text transform="rotate(445.38)" dy=".35em" lengthAdjust="spacingAndGlyphs"><tspan x="215.1" textLength="9">MHXEWG56N</tspan><tspan x="224.1" textLength="9.84" fill-opacity="0.85">DRRUQUHWE</tspan></text>
<text transform="rotate(445.76)" dy=".35em" lengthAdjust="spacingAndGlyphs"><tspan x="215.1" textLength="9">B0WDSWBPG</tspan><tspan x="224.1" textLength="11.21" fill-opacity="0.85">BDBEH3X4SBP</tspan></text>
<text transform="rotate(446.14)" dy=".35em" lengthAdjust="spacingAndGlyphs"><tspan x="215.1" textLength="9">6ODSM8EDB</tspan><tspan x="224.1" textLength="8.18" fill-opacity="0.85">0650OPXA</tspan></text>
<text transform="rotate(446.52)" dy=".35em" lengthAdjust="spacingAndGlyphs"><tspan x="215.1" textLength="9">50QPNAURO</tspan><tspan x="224.1" textLength="8.55" fill-opacity="0.85">DDEKSS2D</tspan></text>
<text transform="rotate(446.9)" dy=".35em" lengthAdjust="spacingAndGlyphs"><tspan x="215.1" textLength="9">DB4NMUDN5</tspan><tspan x="224.1" textLength="16.71" fill-opacity="0.85">N0640ARDMBBNBBDM</tspan></text>
<text transform="rotate(447.28)" dy=".35em" lengthAdjust="spacingAndGlyphs"><tspan x="215.1" textLength="9">DRXKPNKEK</tspan><tspan x="224.1" textLength="9.79" fill-opacity="0.85">DW3QNED5E</tspan></text>
<text transform="rotate(447.66)" dy=".35em" lengthAdjust="spacingAndGlyphs"><tspan x="215.1" textLength="9">REEW4MMKS</tspan><tspan x="224.1" textLength="11.41" fill-opacity="0.85">MUSH38MRR5Q</tspan></text>
<text transform="rotate(448.04)" dy=".35em" lengthAdjust="spacingAndGlyphs"><tspan x="215.1" textLength="9">O0H6XNRX0</tspan><tspan x="224.1" textLength="8.29" fill-opacity="0.85">NN4MWOON</tspan></text>
<text transform="rotate(448.42)" dy=".35em" lengthAdjust="spacingAndGlyphs"><tspan x="215.1" textLength="9">P3XX5XUQS</tspan><tspan x="224.1" textLength="9.36" fill-opacity="0.85">KUERSW0SR</tspan></text>
<text transform="rotate(448.8)" dy=".35em" lengthAdjust="spacingAndGlyphs"><tspan x="215.1" textLength="9">EEED0EA5O</tspan><tspan x="224.1" textLength="10.65" fill-opacity="0.85">WBE0RSM222</tspan></text>
<text transform="rotate(449.18)" dy=".35em" lengthAdjust="spacingAndGlyphs"><tspan x="215.1" textLength="9">AHB2O68HP</tspan><tspan x="224.1" textLength="8.28" fill-opacity="0.85">32MBH5U8</tspan></text>
<text transform="rotate(449.56)" dy=".35em" lengthAdjust="spacingAndGlyphs"><tspan x="215.1" textLength="9">QQQDPEE6B</tspan><tspan x="224.1" textLength="8.37" fill-opacity="0.85">OHE3W5PO</tspan></text>
<text transform="rotate(449.94)" dy=".35em" lengthAdjust="spacingAndGlyphs"><tspan x="215.1" textLength="9">HW6O30BEU</tspan><tspan x="224.1" textLength="11.14" fill-opacity="0.85">O6B3RR80W8N</tspan></text>
<text transform="rotate(450.32)" dy=".35em" lengthAdjust="spacingAndGlyphs"><tspan x="215.1" textLength="9">XXNBEQMKE</tspan><tspan x="224.1" textLength="4.45" fill-opacity="0.85">MORN</tspan></text>
<text transform="rotate(450.7)" x="215.1" dy=".35em" textLength="11.88" lengthAdjust="spacingAndGlyphs">WAQQ6NW5KDB</text>
<text transform="rotate(451.08)" dy=".35em" lengthAdjust="spacingAndGlyphs"><tspan x="215.1" textLength="9">GRWR8D2K5</tspan><tspan x="224.1" textLength="11.74" fill-opacity="0.85">GNEK6K5NDDX</tspan></text>
<text transform="rotate(451.46)" dy=".35em" lengthAdjust="spacingAndGlyphs"><tspan x="215.1" textLength="9">088E2SD0H</tspan><tspan x="224.1" textLength="10.06" fill-opacity="0.85">ONDNNWPWRK</tspan></text>
<text transform="rotate(451.84)" dy=".35em" lengthAdjust="spacingAndGlyphs"><tspan x="215.1" textLength="9">R6R8KMHMH</tspan><tspan x="224.1" textLength="8.84" fill-opacity="0.85">DNXXSENS</tspan></text>
<text transform="rotate(452.22)" dy=".35em" lengthAdjust="spacingAndGlyphs"><tspan x="215.1" textLength="9">23A3WS4PK</tspan><tspan x="224.1" textLength="15.58" fill-opacity="0.85">G4SBMNWRNSM4NWK</tspan></text>
<text transform="rotate(452.6)" x="215.1" dy=".35em" textLength="11.69" lengthAdjust="spacingAndGlyphs">3NONWUKBHHP</text>
<text transform="rotate(452.98)" dy=".35em" lengthAdjust="spacingAndGlyphs"><tspan x="215.1" textLength="9">HDMRGEWDN</tspan><tspan x="224.1" textLength="9.71" fill-opacity="0.85">BAWN66WPM</tspan></text>
<text transform="rotate(453.36)" dy=".35em" lengthAdjust="spacingAndGlyphs"><tspan x="215.1" textLength="9">OBBD6RMGA</tspan><tspan x="224.1" textLength="9.2" fill-opacity="0.85">K8EMWMM6R</tspan></text>
<text transform="rotate(453.74)" dy=".35em" lengthAdjust="spacingAndGlyphs"><tspan x="215.1" textLength="9">BO5B5MAEE</tspan><tspan x="224.1" textLength="9.69" fill-opacity="0.85">2EHRR5HOB</tspan></text>
<text transform="rotate(454.12)" dy=".35em" lengthAdjust="spacingAndGlyphs"><tspan x="215.1" textLength="9">KEAEWEDAP</tspan><tspan x="224.1" textLength="8.36" fill-opacity="0.85">ODGE54OS</tspan></text>
<text transform="rotate(454.5)" dy=".35em" lengthAdjust="spacingAndGlyphs"><tspan x="215.1" textLength="9">2QPNES4OM</tspan><tspan x="224.1" textLength="8.14" fill-opacity="0.85">DD3WOPNG</tspan></text>
<text transform="rotate(454.88)" dy=".35em" lengthAdjust="spacingAndGlyphs"><tspan x="215.1" textLength="9">K2SMGSMHM</tspan><tspan x="224.1" textLength="11.32" fill-opacity="0.85">HMB6H5OMBS8</tspan></text>
<text transform="rotate(455.26)" dy=".35em" lengthAdjust="spacingAndGlyphs"><tspan x="215.1" textLength="9">AEHWHUPNQ</tspan><tspan x="224.1" textLength="8.47" fill-opacity="0.85">OWKRWNHD</tspan></text>
<text transform="rotate(455.64)" dy=".35em" lengthAdjust="spacingAndGlyphs"><tspan x="215.1" textLength="9">RRREXRO0H</tspan><tspan x="224.1" textLength="10.4" fill-opacity="0.85">K8WD0DEN6D</tspan></text>
<text transform="rotate(456.02)" dy=".35em" lengthAdjust="spacingAndGlyphs"><tspan x="215.1" textLength="9">P43063RQO</tspan><tspan x="224.1" textLength="5.25" fill-opacity="0.85">HE8HE</tspan></text>
<text transform="rotate(456.4)" dy=".35em" lengthAdjust="spacingAndGlyphs"><tspan x="215.1" textLength="9">MDSU32KBW</tspan><tspan x="224.1" textLength="14.5" fill-opacity="0.85">URPBKW6DQOAHOB</tspan></text>
<text transform="rotate(456.78)" dy=".35em" lengthAdjust="spacingAndGlyphs"><tspan x="215.1" textLength="9">HNUEENSMU</tspan><tspan x="224.1" textLength="8.83" fill-opacity="0.85">WSO0WB8U</tspan></text>
<text transform="rotate(457.16)" dy=".35em" lengthAdjust="spacingAndGlyphs"><tspan x="215.1" textLength="9">BB546BWBH</tspan><tspan x="224.1" textLength="16.43" fill-opacity="0.85">AGN82A2EBRPSNH6R</tspan></text>
<text transform="rotate(457.54)" dy=".35em" lengthAdjust="spacingAndGlyphs"><tspan x="215.1" textLength="9">PESOWBHO4</tspan><tspan x="224.1" textLength="9.16" fill-opacity="0.85">WBREW4XMA</tspan></text>
<text transform="rotate(457.92)" dy=".35em" lengthAdjust="spacingAndGlyphs"><tspan x="215.1" textLength="9">WEAB8HRE6</tspan><tspan x="224.1" textLength="4.68" fill-opacity="0.85">KE3B</tspan></text>
<text transform="rotate(458.3)" dy=".35em" lengthAdjust="spacingAndGlyphs"><tspan x="215.1" textLength="9">4OSHSS83E</tspan><tspan x="224.1" textLength="9.86" fill-opacity="0.85">0DN6UBW44</tspan></text>
<text transform="rotate(458.68)" dy=".35em" lengthAdjust="spacingAndGlyphs"><tspan x="215.1" textLength="9">BQQ2ERUUS</tspan><tspan x="224.1" textLength="9.57" fill-opacity="0.85">2ESEO4GR2</tspan></text>
<text transform="rotate(459.06)" dy=".35em" lengthAdjust="spacingAndGlyphs"><tspan x="215.1" textLength="9">OXRNES3AA</tspan><tspan x="224.1" textLength="8.13" fill-opacity="0.85">KASBEWSN</tspan></text>
<text transform="rotate(459.45)" dy=".35em" lengthAdjust="spacingAndGlyphs"><tspan x="215.1" textLength="9">80KGR8WN5</tspan><tspan x="224.1" textLength="10.02" fill-opacity="0.85">85KEA4PDBQ</tspan></text>
<text transform="rotate(459.83)" dy=".35em" lengthAdjust="spacingAndGlyphs"><tspan x="215.1" textLength="9">QRE4MWHHN</tspan><tspan x="224.1" textLength="9.59" fill-opacity="0.85">RHMKBB06X</tspan></text>
<text transform="rotate(460.21)" dy=".35em" lengthAdjust="spacingAndGlyphs"><tspan x="215.1" textLength="9">2OBEDM46H</tspan><tspan x="224.1" textLength="4.52" fill-opacity="0.85">DE6B</tspan></text>
<text transform="rotate(460.59)" dy=".35em" lengthAdjust="spacingAndGlyphs"><tspan x="215.1" textLength="9">AWQ443D3D</tspan><tspan x="224.1" textLength="8.49" fill-opacity="0.85">NKEUQ42G</tspan></text>
<text transform="rotate(460.97)" dy=".35em" lengthAdjust="spacingAndGlyphs"><tspan x="215.1" textLength="9">8KXBG8EWS</tspan><tspan x="224.1" textLength="9.26" fill-opacity="0.85">3SWKR0RRU</tspan></text>
<text transform="rotate(461.35)" dy=".35em" lengthAdjust="spacingAndGlyphs"><tspan x="215.1" textLength="9">ARMGDH5S3</tspan><tspan x="224.1" textLength="10.8" fill-opacity="0.85">XBS0RS2DNM</tspan></text>
<text transform="rotate(461.73)" dy=".35em" lengthAdjust="spacingAndGlyphs"><tspan x="215.1" textLength="9">HH3NH2D66</tspan><tspan x="224.1" textLength="8.72" fill-opacity="0.85">Q5G5EDBO</tspan></text>
<text transform="rotate(462.11)" dy=".35em" lengthAdjust="spacingAndGlyphs"><tspan x="215.1" textLength="9">R2URBRXWB</tspan><tspan x="224.1" textLength="15.86" fill-opacity="0.85">W55GRR3WAO5SHER</tspan></text>
<text transform="rotate(462.49)" dy=".35em" lengthAdjust="spacingAndGlyphs"><tspan x="215.1" textLength="9">4HB3HHRWO</tspan><tspan x="224.1" textLength="7.81" fill-opacity="0.85">3WMPHMK</tspan></text>
<text transform="rotate(462.87)" dy=".35em" lengthAdjust="spacingAndGlyphs"><tspan x="215.1" textLength="9">SKMDDXEPX</tspan><tspan x="224.1" textLength="10.74" fill-opacity="0.85">BOGQAQABNW</tspan></text>
<text transform="rotate(463.25)" dy=".35em" lengthAdjust="spacingAndGlyphs"><tspan x="215.1" textLength="9">HHDQ5XEED</tspan><tspan x="224.1" textLength="7.68" fill-opacity="0.85">BWADD38</tspan></text>
<text transform="rotate(463.63)" dy=".35em" lengthAdjust="spacingAndGlyphs"><tspan x="215.1" textLength="9">OBEO3O80O</tspan><tspan x="224.1" textLength="15.72" fill-opacity="0.85">SMDBRNBDNBPXKDX</tspan></text>
<text transform="rotate(464.01)" dy=".35em" lengthAdjust="spacingAndGlyphs"><tspan x="215.1" textLength="9">3EWO0B5M4</tspan><tspan x="224.1" textLength="10.19" fill-opacity="0.85">DOEQOR6K83</tspan></text>
<text transform="rotate(464.39)" dy=".35em" lengthAdjust="spacingAndGlyphs"><tspan x="215.1" textLength="9">SD2RUROQS</tspan><tspan x="224.1" textLength="8.94" fill-opacity="0.85">WPBWWXEE</tspan></text>
<text transform="rotate(464.77)" dy=".35em" lengthAdjust="spacingAndGlyphs"><tspan x="215.1" textLength="9">P3UAHX0PD</tspan><tspan x="224.1" textLength="8.78" fill-opacity="0.85">SWHOUGRH</tspan></text>
<text transform="rotate(465.15)" dy=".35em" lengthAdjust="spacingAndGlyphs"><tspan x="215.1" textLength="9">BES240NBB</tspan><tspan x="224.1" textLength="10.48" fill-opacity="0.85">RB5WDW0HHE</tspan></text>
<text transform="rotate(465.53)" dy=".35em" lengthAdjust="spacingAndGlyphs"><tspan x="215.1" textLength="9">QHHHHUE85</tspan><tspan x="224.1" textLength="7.21" fill-opacity="0.85">WD8XMDO</tspan></text>
<text transform="rotate(465.91)" dy=".35em" lengthAdjust="spacingAndGlyphs"><tspan x="215.1" textLength="9">8X2WMQA3R</tspan><tspan x="224.1" textLength="8.52" fill-opacity="0.85">XBRH03W2</tspan></text>
<text transform="rotate(466.29)" dy=".35em" lengthAdjust="spacingAndGlyphs"><tspan x="215.1" textLength="9">EWH38B5X2</tspan><tspan x="224.1" textLength="9.73" fill-opacity="0.85">XU3MDWAS4</tspan></text>
<text transform="rotate(466.67)" dy=".35em" lengthAdjust="spacingAndGlyphs"><tspan x="215.1" textLength="9">DHS3WOHXS</tspan><tspan x="224.1" textLength="14.74" fill-opacity="0.85">A3RBU8E6SO8SER</tspan></text>
<text transform="rotate(467.05)" dy=".35em" lengthAdjust="spacingAndGlyphs"><tspan x="215.1" textLength="9">SSSS4M3BN</tspan><tspan x="224.1" textLength="10.76" fill-opacity="0.85">DW2O2EBSMG</tspan></text>
<text transform="rotate(467.43)" dy=".35em" lengthAdjust="spacingAndGlyphs"><tspan x="215.1" textLength="9">52EMMEBOM</tspan><tspan x="224.1" textLength="7.82" fill-opacity="0.85">A6ENKME</tspan></text>
<text transform="rotate(467.81)" dy=".35em" lengthAdjust="spacingAndGlyphs"><tspan x="215.1" textLength="9">NOWWBNWRO</tspan><tspan x="224.1" textLength="10.45" fill-opacity="0.85">W2RNMRNRQ8</tspan></text>
<text transform="rotate(468.19)" dy=".35em" lengthAdjust="spacingAndGlyphs"><tspan x="215.1" textLength="9">5BWDB5M6B</tspan><tspan x="224.1" textLength="10.5" fill-opacity="0.85">S8RQMBEHO4</tspan></text>
<text transform="rotate(468.57)" dy=".35em" lengthAdjust="spacingAndGlyphs"><tspan x="215.1" textLength="9">NENR6W65D</tspan><tspan x="224.1" textLength="7.96" fill-opacity="0.85">RM3RMRM</tspan></text>
<text transform="rotate(468.95)" dy=".35em" lengthAdjust="spacingAndGlyphs"><tspan x="215.1" textLength="9">OX34HGDDN</tspan><tspan x="224.1" textLength="9.68" fill-opacity="0.85">DM5MPDNGM</tspan></text>
<text transform="rotate(469.33)" dy=".35em" lengthAdjust="spacingAndGlyphs"><tspan x="215.1" textLength="9">GXBWK48XB</tspan><tspan x="224.1" textLength="6.2" fill-opacity="0.85">NBGRO6</tspan></text>
<text transform="rotate(469.71)" dy=".35em" lengthAdjust="spacingAndGlyphs"><tspan x="215.1" textLength="9">OMRM4B8MM</tspan><tspan x="224.1" textLength="7.95" fill-opacity="0.85">HQWD62E</tspan></text>
<text transform="rotate(470.09)" dy=".35em" lengthAdjust="spacingAndGlyphs"><tspan x="215.1" textLength="9">QBS28ASH8</tspan><tspan x="224.1" textLength="8.32" fill-opacity="0.85">A0WSS0OK</tspan></text>
<text transform="rotate(470.47)" dy=".35em" lengthAdjust="spacingAndGlyphs"><tspan x="215.1" textLength="9">S4PES4NKB</tspan><tspan x="224.1" textLength="10.12" fill-opacity="0.85">8S2PODDD04</tspan></text>
<text transform="rotate(470.85)" dy=".35em" lengthAdjust="spacingAndGlyphs"><tspan x="215.1" textLength="9">M0SWKAES4</tspan><tspan x="224.1" textLength="10.19" fill-opacity="0.85">0BDDPUN66K</tspan></text>
<text transform="rotate(471.23)" dy=".35em" lengthAdjust="spacingAndGlyphs"><tspan x="215.1" textLength="9">N8NMUHOHG</tspan><tspan x="224.1" textLength="7.4" fill-opacity="0.85">XQS0QPP</tspan></text>
<text transform="rotate(471.61)" dy=".35em" lengthAdjust="spacingAndGlyphs"><tspan x="215.1" textLength="9">ASDO4KHOM</tspan><tspan x="224.1" textLength="9.03" fill-opacity="0.85">D5MNOESOK</tspan></text>
<text transform="rotate(471.99)" dy=".35em" lengthAdjust="spacingAndGlyphs"><tspan x="215.1" textLength="9">E56ABDPRG</tspan><tspan x="224.1" textLength="9.6" fill-opacity="0.85">GDOR8UMM0</tspan></text>
<text transform="rotate(472.37)" dy=".35em" lengthAdjust="spacingAndGlyphs"><tspan x="215.1" textLength="9">XS4RDMMD4</tspan><tspan x="224.1" textLength="14.86" fill-opacity="0.85">WQOPDW2NK2W6RB</tspan></text>
<text transform="rotate(472.75)" dy=".35em" lengthAdjust="spacingAndGlyphs"><tspan x="215.1" textLength="9">GX0NQWKUB</tspan><tspan x="224.1" textLength="10.39" fill-opacity="0.85">NDQD03SWDE</tspan></text>
<text transform="rotate(473.13)" dy=".35em" lengthAdjust="spacingAndGlyphs"><tspan x="215.1" textLength="9">PEBDAM8MS</tspan><tspan x="224.1" textLength="20.18" fill-opacity="0.85">BON3DWRRBQHH8NWDKNS8</tspan></text>
<text transform="rotate(473.51)" dy=".35em" lengthAdjust="spacingAndGlyphs"><tspan x="215.1" textLength="9">NR2805B35</tspan><tspan x="224.1" textLength="15.1" fill-opacity="0.85">HHNSQHREEMRSMAH</tspan></text>
<text transform="rotate(473.89)" dy=".35em" lengthAdjust="spacingAndGlyphs"><tspan x="215.1" textLength="9">4DHSHSGXB</tspan><tspan x="224.1" textLength="13.77" fill-opacity="0.85">XN65N0KSDHDWA</tspan></text>
<text transform="rotate(474.27)" dy=".35em" lengthAdjust="spacingAndGlyphs"><tspan x="215.1" textLength="9">OWBOOUOMH</tspan><tspan x="224.1" textLength="11.37" fill-opacity="0.85">SDHMRRRH4PP</tspan></text>
<text transform="rotate(474.65)" dy=".35em" lengthAdjust="spacingAndGlyphs"><tspan x="215.1" textLength="9">BWOEXOPR5</tspan><tspan x="224.1" textLength="15.08" fill-opacity="0.85">AMUE6OQWDX0QSPB</tspan></text>
<text transform="rotate(475.03)" dy=".35em" lengthAdjust="spacingAndGlyphs"><tspan x="215.1" textLength="9">OSNRNWH3U</tspan><tspan x="224.1" textLength="14.48" fill-opacity="0.85">EGDWH5BMR6BBW6</tspan></text>
<text transform="rotate(475.41)" dy=".35em" lengthAdjust="spacingAndGlyphs"><tspan x="215.1" textLength="9">AK60AXR0G</tspan><tspan x="224.1" textLength="14.58" fill-opacity="0.85">SSSHBD4W4WRKRU</tspan></text>
<text transform="rotate(475.79)" dy=".35em" lengthAdjust="spacingAndGlyphs"><tspan x="215.1" textLength="9">XWXEMOMDR</tspan><tspan x="224.1" textLength="19.95" fill-opacity="0.85">WHNSEUD66DDQNORDHSE</tspan></text>
<text transform="rotate(476.17)" dy=".35em" lengthAdjust="spacingAndGlyphs"><tspan x="215.1" textLength="9">EPE3XKNBH</tspan><tspan x="224.1" textLength="15.13" fill-opacity="0.85">EB8WDQPRHDO8GD0</tspan></text>
<text transform="rotate(476.55)" dy=".35em" lengthAdjust="spacingAndGlyphs"><tspan x="215.1" textLength="9">BDERA64RK</tspan><tspan x="224.1" textLength="13.24" fill-opacity="0.85">3Q2OUBNOQ2EHM</tspan></text>
<text transform="rotate(476.93)" dy=".35em" lengthAdjust="spacingAndGlyphs"><tspan x="215.1" textLength="9">MMOWH4RX2</tspan><tspan x="224.1" textLength="14.6" fill-opacity="0.85">EN5M3N8S8OQSWE</tspan></text>
<text transform="rotate(477.31)" dy=".35em" lengthAdjust="spacingAndGlyphs"><tspan x="215.1" textLength="9">MKU6BKWN8</tspan><tspan x="224.1" textLength="11.54" fill-opacity="0.85">82O6BWPH6RQ</tspan></text>
<text transform="rotate(477.69)" dy=".35em" lengthAdjust="spacingAndGlyphs"><tspan x="215.1" textLength="9">MMPHGM56B</tspan><tspan x="224.1" textLength="13.13" fill-opacity="0.85">WODNSRBORBQBS</tspan></text>
<text transform="rotate(478.07)" dy=".35em" lengthAdjust="spacingAndGlyphs"><tspan x="215.1" textLength="9">MM5AUURSD</tspan><tspan x="224.1" textLength="13.7" fill-opacity="0.85">0PHDQ8G2GE3AE</tspan></text>
<text transform="rotate(478.45)" dy=".35em" lengthAdjust="spacingAndGlyphs"><tspan x="215.1" textLength="9">OM5ENHMHD</tspan><tspan x="224.1" textLength="11.07" fill-opacity="0.85">KOE5HDPEBW0</tspan></text>
<text transform="rotate(478.83)" dy=".35em" lengthAdjust="spacingAndGlyphs"><tspan x="215.1" textLength="9">KNERW5OAG</tspan><tspan x="224.1" textLength="12.01" fill-opacity="0.85">8RDN8NER2KGM</tspan></text>
<text transform="rotate(479.21)" dy=".35em" lengthAdjust="spacingAndGlyphs"><tspan x="215.1" textLength="9">3AS0QUHBB</tspan><tspan x="224.1" textLength="12.88" fill-opacity="0.85">0S83WHE6W358</tspan></text>
<text transform="rotate(479.59)" dy=".35em" lengthAdjust="spacingAndGlyphs"><tspan x="215.1" textLength="9">KDDWMSNBP</tspan><tspan x="224.1" textLength="11.96" fill-opacity="0.85">SNMQHB8BNRE</tspan></text>
<text transform="rotate(479.97)" dy=".35em" lengthAdjust="spacingAndGlyphs"><tspan x="215.1" textLength="9">W2Q4BNBO4</tspan><tspan x="224.1" textLength="10.54" fill-opacity="0.85">XMGSNWMWA6</tspan></text>
<text transform="rotate(480.35)" dy=".35em" lengthAdjust="spacingAndGlyphs"><tspan x="215.1" textLength="9">QOORKWHKK</tspan><tspan x="224.1" textLength="14.16" fill-opacity="0.85">5NMEA2QH3RWOHM</tspan></text>
<text transform="rotate(480.73)" dy=".35em" lengthAdjust="spacingAndGlyphs"><tspan x="215.1" textLength="9">HWPH5RW2G</tspan><tspan x="224.1" textLength="13.12" fill-opacity="0.85">24ANDQUWEMHN3</tspan></text>
<text transform="rotate(481.11)" dy=".35em" lengthAdjust="spacingAndGlyphs"><tspan x="215.1" textLength="9">X2DORBAX8</tspan><tspan x="224.1" textLength="15.09" fill-opacity="0.85">P4BBMQ6UNHWW3ES</tspan></text>
<text transform="rotate(481.49)" dy=".35em" lengthAdjust="spacingAndGlyphs"><tspan x="215.1" textLength="9">4RM6B3SPK</tspan><tspan x="224.1" textLength="10.64" fill-opacity="0.85">BDXDB6BBPD</tspan></text>
<text transform="rotate(481.88)" dy=".35em" lengthAdjust="spacingAndGlyphs"><tspan x="215.1" textLength="9">WR020EW6X</tspan><tspan x="224.1" textLength="17.67" fill-opacity="0.85">8P62MUMREAER8WKKD</tspan></text>
<text transform="rotate(482.26)" dy=".35em" lengthAdjust="spacingAndGlyphs"><tspan x="215.1" textLength="9">DBSDQQMRM</tspan><tspan x="224.1" textLength="11.96" fill-opacity="0.85">RWMN3DNWED6</tspan></text>
<text transform="rotate(482.64)" dy=".35em" lengthAdjust="spacingAndGlyphs"><tspan x="215.1" textLength="9">DORDSG8SM</tspan><tspan x="224.1" textLength="14.33" fill-opacity="0.85">EADME68QNUSORU</tspan></text>
<text transform="rotate(483.02)" dy=".35em" lengthAdjust="spacingAndGlyphs"><tspan x="215.1" textLength="9">HB54325M3</tspan><tspan x="224.1" textLength="13.71" fill-opacity="0.85">DEERODSDE426O</tspan></text>
<text transform="rotate(483.4)" dy=".35em" lengthAdjust="spacingAndGlyphs"><tspan x="215.1" textLength="9">HAWNQ4Q3H</tspan><tspan x="224.1" textLength="15.17" fill-opacity="0.85">S6WW5DGOS3EXO3H</tspan></text>
<text transform="rotate(483.78)" dy=".35em" lengthAdjust="spacingAndGlyphs"><tspan x="215.1" textLength="9">88WSRWSPE</tspan><tspan x="224.1" textLength="17.17" fill-opacity="0.85">HMNW8SR5EHDABOR0O</tspan></text>
<text transform="rotate(484.16)" dy=".35em" lengthAdjust="spacingAndGlyphs"><tspan x="215.1" textLength="9">E43NMBRRO</tspan><tspan x="224.1" textLength="20.47" fill-opacity="0.85">XHO2O8DQENNHMEG6RONO</tspan></text>
<text transform="rotate(484.54)" dy=".35em" lengthAdjust="spacingAndGlyphs"><tspan x="215.1" textLength="9">6DSX6BUXW</tspan><tspan x="224.1" textLength="19.14" fill-opacity="0.85">KP5PBNW2NRUN0OODSES</tspan></text>
<text transform="rotate(484.92)" dy=".35em" lengthAdjust="spacingAndGlyphs"><tspan x="215.1" textLength="9">GHOAGOESE</tspan><tspan x="224.1" textLength="11.36" fill-opacity="0.85">EBQOR4MNRKW</tspan></text>
<text transform="rotate(485.3)" dy=".35em" lengthAdjust="spacingAndGlyphs"><tspan x="215.1" textLength="9">BNHES84E8</tspan><tspan x="224.1" textLength="10.56" fill-opacity="0.85">H5HB0NB33W</tspan></text>
<text transform="rotate(485.68)" dy=".35em" lengthAdjust="spacingAndGlyphs"><tspan x="215.1" textLength="9">BPEOBQDSE</tspan><tspan x="224.1" textLength="30.7" fill-opacity="0.85">25NND45SSMOOHD3WWBM4ED3QDGSEH4</tspan></text>
<text transform="rotate(486.06)" dy=".35em" lengthAdjust="spacingAndGlyphs"><tspan x="215.1" textLength="9">BD65AUH8E</tspan><tspan x="224.1" textLength="25.51" fill-opacity="0.85">EB4XBWD8SUDPEMD45PGEMMD0B</tspan></text>
<text transform="rotate(486.44)" dy=".35em" lengthAdjust="spacingAndGlyphs"><tspan x="215.1" textLength="9">RNKEHMN4H</tspan><tspan x="224.1" textLength="15.55" fill-opacity="0.85">DE3ND4QQN8OPRGH</tspan></text>
<text transform="rotate(486.82)" dy=".35em" lengthAdjust="spacingAndGlyphs"><tspan x="215.1" textLength="9">OOQURWPQH</tspan><tspan x="224.1" textLength="15.09" fill-opacity="0.85">SPR6AND2WUWS2XE</tspan></text>
<text transform="rotate(487.2)" dy=".35em" lengthAdjust="spacingAndGlyphs"><tspan x="215.1" textLength="9">4PWW8OD5U</tspan><tspan x="224.1" textLength="20.47" fill-opacity="0.85">NQWWDBN044AHG6HBEM8R</tspan></text>
<text transform="rotate(487.58)" dy=".35em" lengthAdjust="spacingAndGlyphs"><tspan x="215.1" textLength="9">BBSDXOQDD</tspan><tspan x="224.1" textLength="31.72" fill-opacity="0.85">O6M5UN5WN3NWE8RGKMHXRSQNDKOQ226</tspan></text>
<text transform="rotate(487.96)" dy=".35em" lengthAdjust="spacingAndGlyphs"><tspan x="215.1" textLength="9">BKE5GRPNR</tspan><tspan x="224.1" textLength="23.37" fill-opacity="0.85">RKR4XHNDBEH5SNEH2MWD6UH</tspan></text>
<text transform="rotate(488.34)" dy=".35em" lengthAdjust="spacingAndGlyphs"><tspan x="215.1" textLength="9">DGE8GS8ME</tspan><tspan x="224.1" textLength="24.78" fill-opacity="0.85">OO0NEB83HB0KEDSA6OOQDSD8</tspan></text>
<text transform="rotate(488.72)" dy=".35em" lengthAdjust="spacingAndGlyphs"><tspan x="215.1" textLength="9">ODONWSW8K</tspan><tspan x="224.1" textLength="28.18" fill-opacity="0.85">O6HW6XBHHK0WHHMDHX4MPMPSA8NG</tspan></text>
<text transform="rotate(489.1)" dy=".35em" lengthAdjust="spacingAndGlyphs"><tspan x="215.1" textLength="9">XEDRMHRDE</tspan><tspan x="224.1" textLength="19.37" fill-opacity="0.85">SHMNW3D85SDAO4UNS3W</tspan></text>
<text transform="rotate(489.48)" dy=".35em" lengthAdjust="spacingAndGlyphs"><tspan x="215.1" textLength="9">XMRRH2OEW</tspan><tspan x="224.1" textLength="13.59" fill-opacity="0.85">DBENORO5B4RWN</tspan></text>
<text transform="rotate(489.86)" dy=".35em" lengthAdjust="spacingAndGlyphs"><tspan x="215.1" textLength="9">NOWUN33BH</tspan><tspan x="224.1" textLength="25.07" fill-opacity="0.85">5R5S28M3S65ESB2EUBNES2H3E</tspan></text>
<text transform="rotate(490.24)" dy=".35em" lengthAdjust="spacingAndGlyphs"><tspan x="215.1" textLength="9">B24SEW4MM</tspan><tspan x="224.1" textLength="32.07" fill-opacity="0.85">O2GP2PHGDNMORMBHXDBXBD6MWUG5N334</tspan></text>
<text transform="rotate(490.62)" dy=".35em" lengthAdjust="spacingAndGlyphs"><tspan x="215.1" textLength="9">OBRPHKUMA</tspan><tspan x="224.1" textLength="18.54" fill-opacity="0.85">EO2A0XON2AMMDNW8UU</tspan></text>
<text transform="rotate(491)" dy=".35em" lengthAdjust="spacingAndGlyphs"><tspan x="215.1" textLength="9">OBRABEAUQ</tspan><tspan x="224.1" textLength="18.61" fill-opacity="0.85">DBSKNXRB5BNEBPNMSM</tspan></text>
<text transform="rotate(491.38)" dy=".35em" lengthAdjust="spacingAndGlyphs"><tspan x="215.1" textLength="9">HESU6H0P5</tspan><tspan x="224.1" textLength="17.39" fill-opacity="0.85">Q3NRNKB0AP5PS44O8</tspan></text>
<text transform="rotate(491.76)" dy=".35em" lengthAdjust="spacingAndGlyphs"><tspan x="215.1" textLength="9">HNS356UAO</tspan><tspan x="224.1" textLength="16.49" fill-opacity="0.85">SHMDON2BW52K6SH0</tspan></text>
<text transform="rotate(492.14)" dy=".35em" lengthAdjust="spacingAndGlyphs"><tspan x="215.1" textLength="9">EPNDSNRW2</tspan><tspan x="224.1" textLength="18.99" fill-opacity="0.85">MKWGHWOS0MK6BKWPOB</tspan></text>
<text transform="rotate(492.52)" dy=".35em" lengthAdjust="spacingAndGlyphs"><tspan x="215.1" textLength="9">E88PBRRHO</tspan><tspan x="224.1" textLength="19.66" fill-opacity="0.85">EP6DSEUWQH54MOOSNQR</tspan></text>
<text transform="rotate(492.9)" dy=".35em" lengthAdjust="spacingAndGlyphs"><tspan x="215.1" textLength="9">S2W6SXGBU</tspan><tspan x="224.1" textLength="19.45" fill-opacity="0.85">0BPSRPNONKNXK8KWEGG</tspan></text>
<text transform="rotate(493.28)" dy=".35em" lengthAdjust="spacingAndGlyphs"><tspan x="215.1" textLength="9">5DHKUK0WO</tspan><tspan x="224.1" textLength="8.74" fill-opacity="0.85">RDS4NOEN</tspan></text>
<text transform="rotate(493.66)" dy=".35em" lengthAdjust="spacingAndGlyphs"><tspan x="215.1" textLength="9">DPRD86S3E</tspan><tspan x="224.1" textLength="14.96" fill-opacity="0.85">WWDWNMRUM6SBEN</tspan></text>
<text transform="rotate(494.04)" dy=".35em" lengthAdjust="spacingAndGlyphs"><tspan x="215.1" textLength="9">2XSM6SENR</tspan><tspan x="224.1" textLength="15.68" fill-opacity="0.85">NEXSD0EMHKAX345</tspan></text>
<text transform="rotate(494.42)" dy=".35em" lengthAdjust="spacingAndGlyphs"><tspan x="215.1" textLength="9">XUE3EXMAR</tspan><tspan x="224.1" textLength="19.9" fill-opacity="0.85">0R4SH0A2N8ONNDEO3BO</tspan></text>
<text transform="rotate(494.8)" dy=".35em" lengthAdjust="spacingAndGlyphs"><tspan x="215.1" textLength="9">E33A85XHD</tspan><tspan x="224.1" textLength="29.08" fill-opacity="0.85">3MMGWDQS6RM50E2SHOEDWMBDWUGHO</tspan></text>
<text transform="rotate(495.18)" dy=".35em" lengthAdjust="spacingAndGlyphs"><tspan x="215.1" textLength="9">RD8GDO5OA</tspan><tspan x="224.1" textLength="31.37" fill-opacity="0.85">OM43MGW322WB6UEOQUN8P03ONNA0PNR</tspan></text>
<text transform="rotate(495.56)" dy=".35em" lengthAdjust="spacingAndGlyphs"><tspan x="215.1" textLength="9">MWE2SH8DD</tspan><tspan x="224.1" textLength="15.8" fill-opacity="0.85">3EG8EWSU2NBGMMP</tspan></text>
<text transform="rotate(495.94)" dy=".35em" lengthAdjust="spacingAndGlyphs"><tspan x="215.1" textLength="9">KH42WD0DM</tspan><tspan x="224.1" textLength="15.83" fill-opacity="0.85">ROWKM8R2OM54SH8</tspan></text>
<text transform="rotate(496.32)" dy=".35em" lengthAdjust="spacingAndGlyphs"><tspan x="215.1" textLength="9">B530ABNHS</tspan><tspan x="224.1" textLength="15.99" fill-opacity="0.85">0DP8BBRSQQ3NHAH</tspan></text>
<text transform="rotate(496.7)" dy=".35em" lengthAdjust="spacingAndGlyphs"><tspan x="215.1" textLength="9">WPOMDQ3P3</tspan><tspan x="224.1" textLength="20.27" fill-opacity="0.85">6X4NRHE5PDBSSMQUOE2H</tspan></text>
<text transform="rotate(497.08)" dy=".35em" lengthAdjust="spacingAndGlyphs"><tspan x="215.1" textLength="9">B38OM0O3O</tspan><tspan x="224.1" textLength="17.18" fill-opacity="0.85">06WUKX6WRDRXNS5MB</tspan></text>
<text transform="rotate(497.46)" dy=".35em" lengthAdjust="spacingAndGlyphs"><tspan x="215.1" textLength="9">DEP06BESA</tspan><tspan x="224.1" textLength="20.27" fill-opacity="0.85">HQSEO02E4R6UUREDW2NE</tspan></text>
<text transform="rotate(497.84)" dy=".35em" lengthAdjust="spacingAndGlyphs"><tspan x="215.1" textLength="9">WD8KE6SHG</tspan><tspan x="224.1" textLength="15.06" fill-opacity="0.85">3BHEB0DBRUKDRP5</tspan></text>
<text transform="rotate(498.22)" dy=".35em" lengthAdjust="spacingAndGlyphs"><tspan x="215.1" textLength="9">OAG2MWRDB</tspan><tspan x="224.1" textLength="19.08" fill-opacity="0.85">ON0HH6HRQEKNDMPW35O</tspan></text>
<text transform="rotate(498.6)" dy=".35em" lengthAdjust="spacingAndGlyphs"><tspan x="215.1" textLength="9">HHHBBE58D</tspan><tspan x="224.1" textLength="13.28" fill-opacity="0.85">KXERXMR3WW5PH</tspan></text>
<text transform="rotate(498.98)" dy=".35em" lengthAdjust="spacingAndGlyphs"><tspan x="215.1" textLength="9">ARE0GG2NE</tspan><tspan x="224.1" textLength="18.2" fill-opacity="0.85">ON4HDR4MPBSHD4BQSK</tspan></text>
<text transform="rotate(499.36)" dy=".35em" lengthAdjust="spacingAndGlyphs"><tspan x="215.1" textLength="9">8AXXU8Q6R</tspan><tspan x="224.1" textLength="15.88" fill-opacity="0.85">BERNAX624BW3ESR</tspan></text>
<text transform="rotate(499.74)" dy=".35em" lengthAdjust="spacingAndGlyphs"><tspan x="215.1" textLength="9">SW0EHQ8W3</tspan><tspan x="224.1" textLength="20.11" fill-opacity="0.85">NROHQWS5MSBDSNS2UOM6</tspan></text>
<text transform="rotate(500.12)" dy=".35em" lengthAdjust="spacingAndGlyphs"><tspan x="215.1" textLength="9">WNMHDHMHS</tspan><tspan x="224.1" textLength="20.37" fill-opacity="0.85">KS6526ROGOSSG03BMHSR</tspan></text>
<text transform="rotate(500.5)" dy=".35em" lengthAdjust="spacingAndGlyphs"><tspan x="215.1" textLength="9">43AMRBHHK</tspan><tspan x="224.1" textLength="17.3" fill-opacity="0.85">N0E3O8EAD6WHKR8G8</tspan></text>
<text transform="rotate(500.88)" dy=".35em" lengthAdjust="spacingAndGlyphs"><tspan x="215.1" textLength="9">Q4PKDGKW2</tspan><tspan x="224.1" textLength="10.67" fill-opacity="0.85">6U0XQ4D2GS</tspan></text>
<text transform="rotate(501.26)" dy=".35em" lengthAdjust="spacingAndGlyphs"><tspan x="215.1" textLength="9">QMR06UMOW</tspan><tspan x="224.1" textLength="18.35" fill-opacity="0.85">UQRO0APGQSBOSRSUGS</tspan></text>
<text transform="rotate(501.64)" dy=".35em" lengthAdjust="spacingAndGlyphs"><tspan x="215.1" textLength="9">GD6UE5KBQ</tspan><tspan x="224.1" textLength="14.87" fill-opacity="0.85">HH82S46REBPN5S</tspan></text>
<text transform="rotate(502.02)" dy=".35em" lengthAdjust="spacingAndGlyphs"><tspan x="215.1" textLength="9">6OSAPKA5H</tspan><tspan x="224.1" textLength="24.51" fill-opacity="0.85">EGH60W5EG3SEBGQN6HKDRPHU</tspan></text>
<text transform="rotate(502.4)" dy=".35em" lengthAdjust="spacingAndGlyphs"><tspan x="215.1" textLength="9">4KM4WNMPW</tspan><tspan x="224.1" textLength="17.85" fill-opacity="0.85">BUM5NBRK2MDNHDBBB</tspan></text>
<text transform="rotate(502.78)" dy=".35em" lengthAdjust="spacingAndGlyphs"><tspan x="215.1" textLength="9">0H5KMG8OR</tspan><tspan x="224.1" textLength="11.68" fill-opacity="0.85">EA5UAGHUEDB</tspan></text>
<text transform="rotate(503.16)" dy=".35em" lengthAdjust="spacingAndGlyphs"><tspan x="215.1" textLength="9">5P5K2NDHR</tspan><tspan x="224.1" textLength="28.88" fill-opacity="0.85">KB3GO86R0NOAHMEG562DRBQS4Q3H</tspan></text>
<text transform="rotate(503.54)" dy=".35em" lengthAdjust="spacingAndGlyphs"><tspan x="215.1" textLength="9">SMDO8SGWB</tspan><tspan x="224.1" textLength="31.1" fill-opacity="0.85">MBDUHNOWNKD0WRDDKSWK52NN0EHASWN</tspan></text>
<text transform="rotate(503.92)" dy=".35em" lengthAdjust="spacingAndGlyphs"><tspan x="215.1" textLength="9">45520RDUO</tspan><tspan x="224.1" textLength="8.85" fill-opacity="0.85">D025MDOW</tspan></text>
<text transform="rotate(504.31)" dy=".35em" lengthAdjust="spacingAndGlyphs"><tspan x="215.1" textLength="9">DHDD0OS2S</tspan><tspan x="224.1" textLength="16.1" fill-opacity="0.85">B4MH3DB26WUBH0BO</tspan></text>
<text transform="rotate(504.69)" dy=".35em" lengthAdjust="spacingAndGlyphs"><tspan x="215.1" textLength="9">NBHOS0RSP</tspan><tspan x="224.1" textLength="18.32" fill-opacity="0.85">XEHPQSOSH0RDQXUEE2</tspan></text>
<text transform="rotate(505.07)" dy=".35em" lengthAdjust="spacingAndGlyphs"><tspan x="215.1" textLength="9">HN4DWBDUE</tspan><tspan x="224.1" textLength="24.23" fill-opacity="0.85">DBNUBUHHORMQXQO00X0DM258</tspan></text>
<text transform="rotate(505.45)" dy=".35em" lengthAdjust="spacingAndGlyphs"><tspan x="215.1" textLength="9">BW52RMB4E</tspan><tspan x="224.1" textLength="18.25" fill-opacity="0.85">UQASDRGKB55NE3MKKW</tspan></text>
<text transform="rotate(505.83)" dy=".35em" lengthAdjust="spacingAndGlyphs"><tspan x="215.1" textLength="9">3R426D8ON</tspan><tspan x="224.1" textLength="17.36" fill-opacity="0.85">48WSXWEBOEWDNME0M</tspan></text>
<text transform="rotate(506.21)" dy=".35em" lengthAdjust="spacingAndGlyphs"><tspan x="215.1" textLength="9">NMB3OE26D</tspan><tspan x="224.1" textLength="10.98" fill-opacity="0.85">GONGR4BKAP</tspan></text>
<text transform="rotate(506.59)" dy=".35em" lengthAdjust="spacingAndGlyphs"><tspan x="215.1" textLength="9">OBPOWQGBE</tspan><tspan x="224.1" textLength="25.93" fill-opacity="0.85">W4EX8OGNSU0HERDQKH2S584EQ</tspan></text>
<text transform="rotate(506.97)" dy=".35em" lengthAdjust="spacingAndGlyphs"><tspan x="215.1" textLength="9">RQDB5EPR5</tspan><tspan x="224.1" textLength="16.14" fill-opacity="0.85">53WQO5RNUEXG8GEN</tspan></text>
<text transform="rotate(507.35)" dy=".35em" lengthAdjust="spacingAndGlyphs"><tspan x="215.1" textLength="9">S0OMR3O5U</tspan><tspan x="224.1" textLength="15.24" fill-opacity="0.85">SOHDOBEK4RM4ONE</tspan></text>
<text transform="rotate(507.73)" dy=".35em" lengthAdjust="spacingAndGlyphs"><tspan x="215.1" textLength="9">5M2WSNHHW</tspan><tspan x="224.1" textLength="27.11" fill-opacity="0.85">AE5GNE2SOBSB0MG3M6M335NMNMN</tspan></text>
<text transform="rotate(508.11)" dy=".35em" lengthAdjust="spacingAndGlyphs"><tspan x="215.1" textLength="9">WPB2SONR6</tspan><tspan x="224.1" textLength="19.94" fill-opacity="0.85">0SS62AER0WGHUQQ0M6A</tspan></text>
<text transform="rotate(508.49)" dy=".35em" lengthAdjust="spacingAndGlyphs"><tspan x="215.1" textLength="9">H6BRNHWRW</tspan><tspan x="224.1" textLength="15.07" fill-opacity="0.85">BHXHR3RBWQWWKXD</tspan></text>
<text transform="rotate(508.87)" dy=".35em" lengthAdjust="spacingAndGlyphs"><tspan x="215.1" textLength="9">E0EWR2EOO</tspan><tspan x="224.1" textLength="15.21" fill-opacity="0.85">3EN8DPRASOMUB03</tspan></text>
<text transform="rotate(509.25)" dy=".35em" lengthAdjust="spacingAndGlyphs"><tspan x="215.1" textLength="9">EHHNMXXPQ</tspan><tspan x="224.1" textLength="33.2" fill-opacity="0.85">H2K8NM044DD2S08PNHNWOSBWBDH6GAHAN</tspan></text>
<text transform="rotate(509.63)" dy=".35em" lengthAdjust="spacingAndGlyphs"><tspan x="215.1" textLength="9">4SMS6BWWM</tspan><tspan x="224.1" textLength="20.2" fill-opacity="0.85">BBN0BWOMABB0NWDHUM3P</tspan></text>
<text transform="rotate(510.01)" dy=".35em" lengthAdjust="spacingAndGlyphs"><tspan x="215.1" textLength="9">DMEE8QN0D</tspan><tspan x="224.1" textLength="14.94" fill-opacity="0.85">0ARDKE58OMEWRH</tspan></text>
<text transform="rotate(510.39)" dy=".35em" lengthAdjust="spacingAndGlyphs"><tspan x="215.1" textLength="9">M23AO2B8S</tspan><tspan x="224.1" textLength="11.62" fill-opacity="0.85">G34OE4WWNWW</tspan></text>
<text transform="rotate(510.77)" dy=".35em" lengthAdjust="spacingAndGlyphs"><tspan x="215.1" textLength="9">E25NR0RUH</tspan><tspan x="224.1" textLength="11.59" fill-opacity="0.85">R0G33WXUP3H</tspan></text>
<text transform="rotate(511.15)" dy=".35em" lengthAdjust="spacingAndGlyphs"><tspan x="215.1" textLength="9">SKQQ3ENOQ</tspan><tspan x="224.1" textLength="25.13" fill-opacity="0.85">3WSSEXAADMEWSHKEHNQOW3260</tspan></text>
<text transform="rotate(511.53)" dy=".35em" lengthAdjust="spacingAndGlyphs"><tspan x="215.1" textLength="9">M8SHRPQQD</tspan><tspan x="224.1" textLength="18.58" fill-opacity="0.85">WNHMXWR5HXBD3N44O8</tspan></text>
<text transform="rotate(511.91)" dy=".35em" lengthAdjust="spacingAndGlyphs"><tspan x="215.1" textLength="9">GO5OW5USB</tspan><tspan x="224.1" textLength="11.86" fill-opacity="0.85">UMNO6XURO4Q</tspan></text>
<text transform="rotate(512.29)" dy=".35em" lengthAdjust="spacingAndGlyphs"><tspan x="215.1" textLength="9">BSUSQRHHN</tspan><tspan x="224.1" textLength="11.2" fill-opacity="0.85">0PO548DWDNM</tspan></text>
<text transform="rotate(512.67)" dy=".35em" lengthAdjust="spacingAndGlyphs"><tspan x="215.1" textLength="9">0M22HGSMS</tspan><tspan x="224.1" textLength="20.66" fill-opacity="0.85">68BM625MS8RXAE04BOER</tspan></text>
<text transform="rotate(513.05)" dy=".35em" lengthAdjust="spacingAndGlyphs"><tspan x="215.1" textLength="9">KBW4AUUOR</tspan><tspan x="224.1" textLength="23.25" fill-opacity="0.85">BQ0HA2OMO2RENHQNPW80OOS</tspan></text>
<text transform="rotate(513.43)" dy=".35em" lengthAdjust="spacingAndGlyphs"><tspan x="215.1" textLength="9">4RMNDRR62</tspan><tspan x="224.1" textLength="13.11" fill-opacity="0.85">WDRXANNNBOBUS</tspan></text>
<text transform="rotate(513.81)" dy=".35em" lengthAdjust="spacingAndGlyphs"><tspan x="215.1" textLength="9">80RGNR2RD</tspan><tspan x="224.1" textLength="14.54" fill-opacity="0.85">2O2BMSBB5SQHUM</tspan></text>
<text transform="rotate(514.19)" dy=".35em" lengthAdjust="spacingAndGlyphs"><tspan x="215.1" textLength="9">MR3BM40NU</tspan><tspan x="224.1" textLength="14.17" fill-opacity="0.85">MU8WBGOHON5UD4</tspan></text>
<text transform="rotate(514.57)" dy=".35em" lengthAdjust="spacingAndGlyphs"><tspan x="215.1" textLength="9">ONB4GR3A8</tspan><tspan x="224.1" textLength="17.92" fill-opacity="0.85">WQMSR6GB343GD8ENX</tspan></text>
<text transform="rotate(514.95)" dy=".35em" lengthAdjust="spacingAndGlyphs"><tspan x="215.1" textLength="9">UEKW4H5EU</tspan><tspan x="224.1" textLength="17.05" fill-opacity="0.85">2OOOK4NARB324W3DN</tspan></text>
<text transform="rotate(515.33)" dy=".35em" lengthAdjust="spacingAndGlyphs"><tspan x="215.1" textLength="9">MOB5HRURB</tspan><tspan x="224.1" textLength="15.02" fill-opacity="0.85">B33EO2NE5OWNBR3</tspan></text>
<text transform="rotate(515.71)" dy=".35em" lengthAdjust="spacingAndGlyphs"><tspan x="215.1" textLength="9">PEM3BD5DX</tspan><tspan x="224.1" textLength="11.17" fill-opacity="0.85">WXBNMRN8Q0W</tspan></text>
<text transform="rotate(516.09)" dy=".35em" lengthAdjust="spacingAndGlyphs"><tspan x="215.1" textLength="9">HEHBWE5EM</tspan><tspan x="224.1" textLength="11.24" fill-opacity="0.85">QH6W2HESBUP</tspan></text>
<text transform="rotate(516.47)" dy=".35em" lengthAdjust="spacingAndGlyphs"><tspan x="215.1" textLength="9">DWG2OM3BH</tspan><tspan x="224.1" textLength="12.98" fill-opacity="0.85">NH8WEEOQWBOW</tspan></text>
<text transform="rotate(516.85)" dy=".35em" lengthAdjust="spacingAndGlyphs"><tspan x="215.1" textLength="9">4GWHMSHD4</tspan><tspan x="224.1" textLength="13.49" fill-opacity="0.85">GSAMER62RS5D3</tspan></text>
<text transform="rotate(517.23)" dy=".35em" lengthAdjust="spacingAndGlyphs"><tspan x="215.1" textLength="9">NO5KXDRO4</tspan><tspan x="224.1" textLength="23.98" fill-opacity="0.85">BUMHMEOADDOWEQWSG3SOQUN</tspan></text>
<text transform="rotate(517.61)" dy=".35em" lengthAdjust="spacingAndGlyphs"><tspan x="215.1" textLength="9">RAB45MH83</tspan><tspan x="224.1" textLength="10.87" fill-opacity="0.85">DM8BW0X3QE</tspan></text>
<text transform="rotate(517.99)" dy=".35em" lengthAdjust="spacingAndGlyphs"><tspan x="215.1" textLength="9">OBQ8363KN</tspan><tspan x="224.1" textLength="14.49" fill-opacity="0.85">U0NHKGAWXHSMRN</tspan></text>
<text transform="rotate(518.37)" dy=".35em" lengthAdjust="spacingAndGlyphs"><tspan x="215.1" textLength="9">HRBAOBE0U</tspan><tspan x="224.1" textLength="11.56" fill-opacity="0.85">SEMEAOMGH56</tspan></text>
<text transform="rotate(518.75)" dy=".35em" lengthAdjust="spacingAndGlyphs"><tspan x="215.1" textLength="9">EB8NEERMK</tspan><tspan x="224.1" textLength="14.38" fill-opacity="0.85">AQO3B5RPN5GHHN</tspan></text>
<text transform="rotate(519.13)" dy=".35em" lengthAdjust="spacingAndGlyphs"><tspan x="215.1" textLength="9">NG4MSHD2Q</tspan><tspan x="224.1" textLength="15.16" fill-opacity="0.85">NM3RS53DEDNNEWA</tspan></text>
<text transform="rotate(519.51)" dy=".35em" lengthAdjust="spacingAndGlyphs"><tspan x="215.1" textLength="9">55OS6BSSO</tspan><tspan x="224.1" textLength="10.38" fill-opacity="0.85">XB6GSNDBMR</tspan></text>
<text transform="rotate(519.89)" dy=".35em" lengthAdjust="spacingAndGlyphs"><tspan x="215.1" textLength="9">ORGGDRRWE</tspan><tspan x="224.1" textLength="11.89" fill-opacity="0.85">SQSPEED8HBQ</tspan></text>
<text transform="rotate(520.27)" dy=".35em" lengthAdjust="spacingAndGlyphs"><tspan x="215.1" textLength="9">BR0MK636W</tspan><tspan x="224.1" textLength="13.8" fill-opacity="0.85">MNQERDMNQHHD6</tspan></text>
<text transform="rotate(520.65)" dy=".35em" lengthAdjust="spacingAndGlyphs"><tspan x="215.1" textLength="9">2O5RHMNS2</tspan><tspan x="224.1" textLength="4.52" fill-opacity="0.85">KHBD</tspan></text>
<text transform="rotate(521.03)" dy=".35em" lengthAdjust="spacingAndGlyphs"><tspan x="215.1" textLength="9">WGDG85MUB</tspan><tspan x="224.1" textLength="14.89" fill-opacity="0.85">NSMDSDD65WS05O</tspan></text>
<text transform="rotate(521.41)" dy=".35em" lengthAdjust="spacingAndGlyphs"><tspan x="215.1" textLength="9">SS4EBBNMM</tspan><tspan x="224.1" textLength="12.73" fill-opacity="0.85">RWODBH5HHRHP</tspan></text>
<text transform="rotate(521.79)" dy=".35em" lengthAdjust="spacingAndGlyphs"><tspan x="215.1" textLength="9">OWDHA8PMA</tspan><tspan x="224.1" textLength="14.67" fill-opacity="0.85">HN8XD5SGGS50E6</tspan></text>
<text transform="rotate(522.17)" dy=".35em" lengthAdjust="spacingAndGlyphs"><tspan x="215.1" textLength="9">MOA23DE88</tspan><tspan x="224.1" textLength="4.06" fill-opacity="0.85">5MS4</tspan></text>
<text transform="rotate(522.55)" dy=".35em" lengthAdjust="spacingAndGlyphs"><tspan x="215.1" textLength="9">ONDMENWB3</tspan><tspan x="224.1" textLength="16.96" fill-opacity="0.85">X6EB5NUEPEA3B6M2</tspan></text>
<text transform="rotate(522.93)" dy=".35em" lengthAdjust="spacingAndGlyphs"><tspan x="215.1" textLength="9">2SDEAX2WP</tspan><tspan x="224.1" textLength="13.15" fill-opacity="0.85">XR5EHWH6PQD5X</tspan></text>
<text transform="rotate(523.31)" dy=".35em" lengthAdjust="spacingAndGlyphs"><tspan x="215.1" textLength="9">SG8SDQODR</tspan><tspan x="224.1" textLength="11.84" fill-opacity="0.85">DROPSKONBQD</tspan></text>
<text transform="rotate(523.69)" dy=".35em" lengthAdjust="spacingAndGlyphs"><tspan x="215.1" textLength="9">DEW4RQDNM</tspan><tspan x="224.1" textLength="13.29" fill-opacity="0.85">WKRRABRDA4DBD</tspan></text>
<text transform="rotate(524.07)" dy=".35em" lengthAdjust="spacingAndGlyphs"><tspan x="215.1" textLength="9">8WWANNGPB</tspan><tspan x="224.1" textLength="25.35" fill-opacity="0.85">3UME6G6HUW8SR6OQ2KMHREHS5</tspan></text>
<text transform="rotate(524.45)" dy=".35em" lengthAdjust="spacingAndGlyphs"><tspan x="215.1" textLength="9">GBGDXS3UM</tspan><tspan x="224.1" textLength="12.51" fill-opacity="0.85">OMHER3BQKON6</tspan></text>
<text transform="rotate(524.83)" dy=".35em" lengthAdjust="spacingAndGlyphs"><tspan x="215.1" textLength="9">6APHONS25</tspan><tspan x="224.1" textLength="14.15" fill-opacity="0.85">DG5NDAOWKBWWOM</tspan></text>
<text transform="rotate(525.21)" dy=".35em" lengthAdjust="spacingAndGlyphs"><tspan x="215.1" textLength="9">2UQN6MN6M</tspan><tspan x="224.1" textLength="25.18" fill-opacity="0.85">5HMHWRG63PMSNQ8BS6Q3SUWMP</tspan></text>
<text transform="rotate(525.59)" dy=".35em" lengthAdjust="spacingAndGlyphs"><tspan x="215.1" textLength="9">NBQ5XHWHE</tspan><tspan x="224.1" textLength="14.43" fill-opacity="0.85">8WR54D0WGMS3N5</tspan></text>
<text transform="rotate(525.97)" dy=".35em" lengthAdjust="spacingAndGlyphs"><tspan x="215.1" textLength="9">DHRWWD5X6</tspan><tspan x="224.1" textLength="14.13" fill-opacity="0.85">MEE2D04SRRDD6N</tspan></text>
<text transform="rotate(526.35)" dy=".35em" lengthAdjust="spacingAndGlyphs"><tspan x="215.1" textLength="9">O0DB0DOOG</tspan><tspan x="224.1" textLength="18.08" fill-opacity="0.85">KWHORR2XRW2EM3OBRR</tspan></text>
<text transform="rotate(526.74)" dy=".35em" lengthAdjust="spacingAndGlyphs"><tspan x="215.1" textLength="9">PRGSR2MGW</tspan><tspan x="224.1" textLength="19.35" fill-opacity="0.85">WAGRQQABHG46OE4WDPN</tspan></text>
<text transform="rotate(527.12)" dy=".35em" lengthAdjust="spacingAndGlyphs"><tspan x="215.1" textLength="9">E8XWOSHRQ</tspan><tspan x="224.1" textLength="15.09" fill-opacity="0.85">6SN0NRBPEE25R6N</tspan></text>
<text transform="rotate(527.5)" dy=".35em" lengthAdjust="spacingAndGlyphs"><tspan x="215.1" textLength="9">O3RA2REPS</tspan><tspan x="224.1" textLength="5.12" fill-opacity="0.85">WBBNP</tspan></text>
<text transform="rotate(527.88)" dy=".35em" lengthAdjust="spacingAndGlyphs"><tspan x="215.1" textLength="9">WQO5OKUQM</tspan><tspan x="224.1" textLength="10.51" fill-opacity="0.85">NSPN2K4XMB</tspan></text>
<text transform="rotate(528.26)" dy=".35em" lengthAdjust="spacingAndGlyphs"><tspan x="215.1" textLength="9">S3XBXSBGM</tspan><tspan x="224.1" textLength="14.52" fill-opacity="0.85">GHWUXO0WDH0W65</tspan></text>
<text transform="rotate(528.64)" dy=".35em" lengthAdjust="spacingAndGlyphs"><tspan x="215.1" textLength="9">5WM28GR8U</tspan><tspan x="224.1" textLength="10.61" fill-opacity="0.85">W2QUDEO8HO</tspan></text>
<text transform="rotate(529.02)" dy=".35em" lengthAdjust="spacingAndGlyphs"><tspan x="215.1" textLength="9">DSSKG8R42</tspan><tspan x="224.1" textLength="13.71" fill-opacity="0.85">RMXBNANKKNUDM</tspan></text>
<text transform="rotate(529.4)" dy=".35em" lengthAdjust="spacingAndGlyphs"><tspan x="215.1" textLength="9">MSEE86WHE</tspan><tspan x="224.1" textLength="12.17" fill-opacity="0.85">0RUHGH6MNXDO</tspan></text>
<text transform="rotate(529.78)" dy=".35em" lengthAdjust="spacingAndGlyphs"><tspan x="215.1" textLength="9">EOU6BSHOH</tspan><tspan x="224.1" textLength="10.96" fill-opacity="0.85">NSDNQR4HMN</tspan></text>
<text transform="rotate(530.16)" dy=".35em" lengthAdjust="spacingAndGlyphs"><tspan x="215.1" textLength="9">EWSBWSRW3</tspan><tspan x="224.1" textLength="10.63" fill-opacity="0.85">RN24RWQKQS</tspan></text>
<text transform="rotate(530.54)" dy=".35em" lengthAdjust="spacingAndGlyphs"><tspan x="215.1" textLength="9">BEX4EDG2W</tspan><tspan x="224.1" textLength="24.1" fill-opacity="0.85">6PXXWAEMGNRBEMKRN003N0BO</tspan></text>
<text transform="rotate(530.92)" dy=".35em" lengthAdjust="spacingAndGlyphs"><tspan x="215.1" textLength="9">0S4NAO2QN</tspan><tspan x="224.1" textLength="13.02" fill-opacity="0.85">SMWG055DSSE02</tspan></text>
<text transform="rotate(531.3)" dy=".35em" lengthAdjust="spacingAndGlyphs"><tspan x="215.1" textLength="9">5DRONBWNA</tspan><tspan x="224.1" textLength="11.64" fill-opacity="0.85">WNMDSKGDHND</tspan></text>
<text transform="rotate(531.68)" dy=".35em" lengthAdjust="spacingAndGlyphs"><tspan x="215.1" textLength="9">HSKRQDSDB</tspan><tspan x="224.1" textLength="24.46" fill-opacity="0.85">DWHKD85SKSAXWBHHEMQ0S2OD</tspan></text>
<text transform="rotate(532.06)" dy=".35em" lengthAdjust="spacingAndGlyphs"><tspan x="215.1" textLength="9">SD0MNG5PO</tspan><tspan x="224.1" textLength="16.49" fill-opacity="0.85">Q2WSHD866URSKHM5</tspan></text>
<text transform="rotate(532.44)" dy=".35em" lengthAdjust="spacingAndGlyphs"><tspan x="215.1" textLength="9">XHMP8MBMA</tspan><tspan x="224.1" textLength="16.9" fill-opacity="0.85">8OOMDHEMM2HAB3WH</tspan></text>
<text transform="rotate(532.82)" dy=".35em" lengthAdjust="spacingAndGlyphs"><tspan x="215.1" textLength="9">0U0NMEHGK</tspan><tspan x="224.1" textLength="14.06" fill-opacity="0.85">DUEON3AW0NOKKW</tspan></text>
<text transform="rotate(533.2)" dy=".35em" lengthAdjust="spacingAndGlyphs"><tspan x="215.1" textLength="9">H5E6BMOUW</tspan><tspan x="224.1" textLength="14.38" fill-opacity="0.85">N4B6BNKH2BOENN</tspan></text>
<text transform="rotate(533.58)" dy=".35em" lengthAdjust="spacingAndGlyphs"><tspan x="215.1" textLength="9">B46KBNDBK</tspan><tspan x="224.1" textLength="16.39" fill-opacity="0.85">QODMGHBON4MWABEX</tspan></text>
<text transform="rotate(533.96)" dy=".35em" lengthAdjust="spacingAndGlyphs"><tspan x="215.1" textLength="9">4MXOESSAM</tspan><tspan x="224.1" textLength="14.95" fill-opacity="0.85">WQDXOAB3DREGGG</tspan></text>
<text transform="rotate(534.34)" dy=".35em" lengthAdjust="spacingAndGlyphs"><tspan x="215.1" textLength="9">HO0MWH8QH</tspan><tspan x="224.1" textLength="15.69" fill-opacity="0.85">B60DKDXS8H3BKEG</tspan></text>
<text transform="rotate(534.72)" dy=".35em" lengthAdjust="spacingAndGlyphs"><tspan x="215.1" textLength="9">R43ONWXUR</tspan><tspan x="224.1" textLength="21.68" fill-opacity="0.85">E4HDNOSNU0QGQ25DX6WGR</tspan></text>
<text transform="rotate(535.1)" dy=".35em" lengthAdjust="spacingAndGlyphs"><tspan x="215.1" textLength="9">SMU5B00UH</tspan><tspan x="224.1" textLength="16.34" fill-opacity="0.85">R3BR48E8BNXN2WRR</tspan></text>
<text transform="rotate(535.48)" dy=".35em" lengthAdjust="spacingAndGlyphs"><tspan x="215.1" textLength="9">2WQBDGBBB</tspan><tspan x="224.1" textLength="12.15" fill-opacity="0.85">ODSSDNWHO42M</tspan></text>
<text transform="rotate(535.86)" dy=".35em" lengthAdjust="spacingAndGlyphs"><tspan x="215.1" textLength="9">NRKU3HP5D</tspan><tspan x="224.1" textLength="12.34" fill-opacity="0.85">UONWOMWR6G6R</tspan></text>
<text transform="rotate(536.24)" dy=".35em" lengthAdjust="spacingAndGlyphs"><tspan x="215.1" textLength="9">PBPAKODMK</tspan><tspan x="224.1" textLength="14.15" fill-opacity="0.85">HRRQB5M8NK3XX4</tspan></text>
<text transform="rotate(536.62)" dy=".35em" lengthAdjust="spacingAndGlyphs"><tspan x="215.1" textLength="9">4X4N6U4ND</tspan><tspan x="224.1" textLength="20.09" fill-opacity="0.85">OEHNNBO6XRBBWS6NMOOB</tspan></text>
<text transform="rotate(537)" dy=".35em" lengthAdjust="spacingAndGlyphs"><tspan x="215.1" textLength="9">U2MAGHWM0</tspan><tspan x="224.1" textLength="20.95" fill-opacity="0.85">NXOMRMENGN26HDHXEASH</tspan></text>
<text transform="rotate(537.38)" dy=".35em" lengthAdjust="spacingAndGlyphs"><tspan x="215.1" textLength="9">DPXHPUGXD</tspan><tspan x="224.1" textLength="14.72" fill-opacity="0.85">36NHWHARB6MODN</tspan></text>
<text transform="rotate(537.76)" dy=".35em" lengthAdjust="spacingAndGlyphs"><tspan x="215.1" textLength="9">DARE8WUN3</tspan><tspan x="224.1" textLength="27" fill-opacity="0.85">6HGWSSKR5DUP5S2USHQMRBB88OO</tspan></text>
<text transform="rotate(538.14)" dy=".35em" lengthAdjust="spacingAndGlyphs"><tspan x="215.1" textLength="9">SONPHEEHH</tspan><tspan x="224.1" textLength="4.31" fill-opacity="0.85">X052</tspan></text>
<text transform="rotate(538.52)" dy=".35em" lengthAdjust="spacingAndGlyphs"><tspan x="215.1" textLength="9">N3UQOMAEA</tspan><tspan x="224.1" textLength="12.33" fill-opacity="0.85">RXNS6BBUOHDS</tspan></text>
<text transform="rotate(538.9)" dy=".35em" lengthAdjust="spacingAndGlyphs"><tspan x="215.1" textLength="9">SMRAPD8WG</tspan><tspan x="224.1" textLength="15.3" fill-opacity="0.85">RENNON83DX3SEEM</tspan></text>
<text transform="rotate(539.28)" dy=".35em" lengthAdjust="spacingAndGlyphs"><tspan x="215.1" textLength="9">4WEBO2830</tspan><tspan x="224.1" textLength="14.35" fill-opacity="0.85">GEHXDH2OPXXGXS</tspan></text>
<text transform="rotate(539.66)" dy=".35em" lengthAdjust="spacingAndGlyphs"><tspan x="215.1" textLength="9">WEDQWN2DH</tspan><tspan x="224.1" textLength="12.32" fill-opacity="0.85">QWHK68EEBBK2</tspan></text>
<text transform="rotate(540.04)" dy=".35em" lengthAdjust="spacingAndGlyphs"><tspan x="215.1" textLength="9">EHDOMS5RH</tspan><tspan x="224.1" textLength="16.14" fill-opacity="0.85">5XADNW8D0365BR6W</tspan></text>
<text transform="rotate(540.42)" dy=".35em" lengthAdjust="spacingAndGlyphs"><tspan x="215.1" textLength="9">RGH0QXNRA</tspan><tspan x="224.1" textLength="21.36" fill-opacity="0.85">XRXBWW8E8APQHXE5XO8SG</tspan></text>
<text transform="rotate(540.8)" dy=".35em" lengthAdjust="spacingAndGlyphs"><tspan x="215.1" textLength="9">PSSOR6K3N</tspan><tspan x="224.1" textLength="29" fill-opacity="0.85">8DDMN25RKGOWEM2XWEDHENN6KNORE</tspan></text>
<text transform="rotate(541.18)" dy=".35em" lengthAdjust="spacingAndGlyphs"><tspan x="215.1" textLength="9">SBMHWUHW2</tspan><tspan x="224.1" textLength="14.24" fill-opacity="0.85">3DMA4XAHWKDR43</tspan></text>
<text transform="rotate(541.56)" dy=".35em" lengthAdjust="spacingAndGlyphs"><tspan x="215.1" textLength="9">DMGBWBWSS</tspan><tspan x="224.1" textLength="17.06" fill-opacity="0.85">EKDS6OHQK45WRDRQ2</tspan></text>
<text transform="rotate(541.94)" dy=".35em" lengthAdjust="spacingAndGlyphs"><tspan x="215.1" textLength="9">8AH58GB84</tspan><tspan x="224.1" textLength="26.17" fill-opacity="0.85">OSES5E3H3DSQHDSN3UGEK6Q4X0</tspan></text>
<text transform="rotate(542.32)" dy=".35em" lengthAdjust="spacingAndGlyphs"><tspan x="215.1" textLength="9">8E2RHDNE3</tspan><tspan x="224.1" textLength="24.67" fill-opacity="0.85">QO5DWEBMRSNA4Q3BG8NRP42K</tspan></text>
<text transform="rotate(542.7)" dy=".35em" lengthAdjust="spacingAndGlyphs"><tspan x="215.1" textLength="9">35EQEDA23</tspan><tspan x="224.1" textLength="13.31" fill-opacity="0.85">RERDEOG6D683Q</tspan></text>
<text transform="rotate(543.08)" dy=".35em" lengthAdjust="spacingAndGlyphs"><tspan x="215.1" textLength="9">SDBWNEQRG</tspan><tspan x="224.1" textLength="16.83" fill-opacity="0.85">X5S6ODBEMWH23AAE</tspan></text>
<text transform="rotate(543.46)" dy=".35em" lengthAdjust="spacingAndGlyphs"><tspan x="215.1" textLength="9">P0P2ENMWD</tspan><tspan x="224.1" textLength="14.35" fill-opacity="0.85">2NO3N6MWSXMGAS</tspan></text>
<text transform="rotate(543.84)" dy=".35em" lengthAdjust="spacingAndGlyphs"><tspan x="215.1" textLength="9">QQMDDN3DD</tspan><tspan x="224.1" textLength="15.93" fill-opacity="0.85">DBNMUDMKHWX5APD</tspan></text>
<text transform="rotate(544.22)" dy=".35em" lengthAdjust="spacingAndGlyphs"><tspan x="215.1" textLength="9">R8MD4MSDS</tspan><tspan x="224.1" textLength="15.92" fill-opacity="0.85">2BQKRUWOW2NEWER</tspan></text>
<text transform="rotate(544.6)" dy=".35em" lengthAdjust="spacingAndGlyphs"><tspan x="215.1" textLength="9">OEXOE8K64</tspan><tspan x="224.1" textLength="15.92" fill-opacity="0.85">RDAEWNPGPUHHK8B</tspan></text>
<text transform="rotate(544.98)" dy=".35em" lengthAdjust="spacingAndGlyphs"><tspan x="215.1" textLength="9">EPASNBO3S</tspan><tspan x="224.1" textLength="15.03" fill-opacity="0.85">DNDSDXK85QGOD2Q</tspan></text>
<text transform="rotate(545.36)" dy=".35em" lengthAdjust="spacingAndGlyphs"><tspan x="215.1" textLength="9">D6QAANRRD</tspan><tspan x="224.1" textLength="13.37" fill-opacity="0.85">EWHOAOMRHQA2R</tspan></text>
<text transform="rotate(545.74)" dy=".35em" lengthAdjust="spacingAndGlyphs"><tspan x="215.1" textLength="9">HOMA3E0UN</tspan><tspan x="224.1" textLength="15.18" fill-opacity="0.85">DPHROOE5QHOE3WD</tspan></text>
<text transform="rotate(546.12)" dy=".35em" lengthAdjust="spacingAndGlyphs"><tspan x="215.1" textLength="9">A3A8HSON3</tspan><tspan x="224.1" textLength="8.54" fill-opacity="0.85">Q2QMKP0E</tspan></text>
<text transform="rotate(546.5)" dy=".35em" lengthAdjust="spacingAndGlyphs"><tspan x="215.1" textLength="9">RKQS0SDBR</tspan><tspan x="224.1" textLength="17.27" fill-opacity="0.85">QB6DSWGAKG3DWR3XM</tspan></text>
<text transform="rotate(546.88)" dy=".35em" lengthAdjust="spacingAndGlyphs"><tspan x="215.1" textLength="9">5PKWRMEED</tspan><tspan x="224.1" textLength="13.44" fill-opacity="0.85">H4WQB4SG82N4P</tspan></text>
<text transform="rotate(547.26)" dy=".35em" lengthAdjust="spacingAndGlyphs"><tspan x="215.1" textLength="9">3SSEHR8QW</tspan><tspan x="224.1" textLength="19.74" fill-opacity="0.85">NQEOMSDAMSGNAW2U46E</tspan></text>
<text transform="rotate(547.64)" dy=".35em" lengthAdjust="spacingAndGlyphs"><tspan x="215.1" textLength="9">KXHE84WMA</tspan><tspan x="224.1" textLength="7.31" fill-opacity="0.85">R3HRRDS</tspan></text>
<text transform="rotate(548.02)" dy=".35em" lengthAdjust="spacingAndGlyphs"><tspan x="215.1" textLength="9">KH3AO8MWK</tspan><tspan x="224.1" textLength="16.31" fill-opacity="0.85">OWG3RH06KHA02RMW</tspan></text>
<text transform="rotate(548.4)" dy=".35em" lengthAdjust="spacingAndGlyphs"><tspan x="215.1" textLength="9">AWDSEK0KO</tspan><tspan x="224.1" textLength="15.16" fill-opacity="0.85">4NANW85BE50HGK2</tspan></text>
<text transform="rotate(548.78)" dy=".35em" lengthAdjust="spacingAndGlyphs"><tspan x="215.1" textLength="9">5S6QSROOE</tspan><tspan x="224.1" textLength="14.99" fill-opacity="0.85">XXUQOS5HMB6W66</tspan></text>
<text transform="rotate(549.17)" dy=".35em" lengthAdjust="spacingAndGlyphs"><tspan x="215.1" textLength="9">WOUXSSRMD</tspan><tspan x="224.1" textLength="13.63" fill-opacity="0.85">H4OUSN8WARUWS</tspan></text>
<text transform="rotate(549.55)" dy=".35em" lengthAdjust="spacingAndGlyphs"><tspan x="215.1" textLength="9">B86SBNRWN</tspan><tspan x="224.1" textLength="16.73" fill-opacity="0.85">0AQ8KBOOW3XPSEOO</tspan></text>
<text transform="rotate(549.93)" dy=".35em" lengthAdjust="spacingAndGlyphs"><tspan x="215.1" textLength="9">U3SHUK4WH</tspan><tspan x="224.1" textLength="16.55" fill-opacity="0.85">5ROUBMNU03KO8BDR</tspan></text>
<text transform="rotate(550.31)" dy=".35em" lengthAdjust="spacingAndGlyphs"><tspan x="215.1" textLength="9">6XER5QPUG</tspan><tspan x="224.1" textLength="24.16" fill-opacity="0.85">6QANBOK5GU0X6WX4WBOOSR0A</tspan></text>
<text transform="rotate(550.69)" dy=".35em" lengthAdjust="spacingAndGlyphs"><tspan x="215.1" textLength="9">OM5H6333O</tspan><tspan x="224.1" textLength="16.94" fill-opacity="0.85">B4XQHDKWW525GDHK</tspan></text>
<text transform="rotate(551.07)" dy=".35em" lengthAdjust="spacingAndGlyphs"><tspan x="215.1" textLength="9">DB2MA80RU</tspan><tspan x="224.1" textLength="14.44" fill-opacity="0.85">EE2WPRWHHRPMEE</tspan></text>
<text transform="rotate(551.45)" dy=".35em" lengthAdjust="spacingAndGlyphs"><tspan x="215.1" textLength="9">54SAAUOX6</tspan><tspan x="224.1" textLength="14.27" fill-opacity="0.85">28NQRA6PBG3RR5</tspan></text>
<text transform="rotate(551.83)" dy=".35em" lengthAdjust="spacingAndGlyphs"><tspan x="215.1" textLength="9">4Q46BKSXM</tspan><tspan x="224.1" textLength="14.49" fill-opacity="0.85">A5WDGRN832SNBE</tspan></text>
<text transform="rotate(552.21)" dy=".35em" lengthAdjust="spacingAndGlyphs"><tspan x="215.1" textLength="9">UB4OHDHW6</tspan><tspan x="224.1" textLength="17.38" fill-opacity="0.85">2GHBBNB0MG6GBER6H</tspan></text>
<text transform="rotate(552.59)" dy=".35em" lengthAdjust="spacingAndGlyphs"><tspan x="215.1" textLength="9">0NN6P85MH</tspan><tspan x="224.1" textLength="10.46" fill-opacity="0.85">AS3DRSG6SX</tspan></text>
<text transform="rotate(552.97)" dy=".35em" lengthAdjust="spacingAndGlyphs"><tspan x="215.1" textLength="9">G3UUUHM2W</tspan><tspan x="224.1" textLength="22.76" fill-opacity="0.85">55KHSBH0RRWBUW0SA8NE3R</tspan></text>
<text transform="rotate(553.35)" dy=".35em" lengthAdjust="spacingAndGlyphs"><tspan x="215.1" textLength="9">DPEEOR6NR</tspan><tspan x="224.1" textLength="21.32" fill-opacity="0.85">NMHOM6NOWRMRHMMR2MQNW</tspan></text>
<text transform="rotate(553.73)" dy=".35em" lengthAdjust="spacingAndGlyphs"><tspan x="215.1" textLength="9">HBN5PRNXH</tspan><tspan x="224.1" textLength="13.42" fill-opacity="0.85">6R3EOMMOW32W0</tspan></text>
<text transform="rotate(554.11)" dy=".35em" lengthAdjust="spacingAndGlyphs"><tspan x="215.1" textLength="9">ENRHNWMRR</tspan><tspan x="224.1" textLength="17.04" fill-opacity="0.85">6RM8OXHBHGGKR3DXP</tspan></text>
<text transform="rotate(554.49)" dy=".35em" lengthAdjust="spacingAndGlyphs"><tspan x="215.1" textLength="9">NQMW466S2</tspan><tspan x="224.1" textLength="9.17" fill-opacity="0.85">BDEPGGQNS</tspan></text>
<text transform="rotate(554.87)" dy=".35em" lengthAdjust="spacingAndGlyphs"><tspan x="215.1" textLength="9">RUE8HR6GR</tspan><tspan x="224.1" textLength="15.65" fill-opacity="0.85">WM2OM8Q4BPHXUN5</tspan></text>
<text transform="rotate(555.25)" dy=".35em" lengthAdjust="spacingAndGlyphs"><tspan x="215.1" textLength="9">HNOBMDNMH</tspan><tspan x="224.1" textLength="16.39" fill-opacity="0.85">5O0RD8BPO4NB8BDD</tspan></text>
<text transform="rotate(555.63)" dy=".35em" lengthAdjust="spacingAndGlyphs"><tspan x="215.1" textLength="9">8E2EH8H6A</tspan><tspan x="224.1" textLength="13.24" fill-opacity="0.85">8ONUDRKQO4BPA</tspan></text>
<text transform="rotate(556.01)" dy=".35em" lengthAdjust="spacingAndGlyphs"><tspan x="215.1" textLength="9">EKMR5ANEE</tspan><tspan x="224.1" textLength="14.78" fill-opacity="0.85">HSGKB2WG8H8XER</tspan></text>
<text transform="rotate(556.39)" dy=".35em" lengthAdjust="spacingAndGlyphs"><tspan x="215.1" textLength="9">HNGSSRKBW</tspan><tspan x="224.1" textLength="13.34" fill-opacity="0.85">Q0BHE4RBN2E52</tspan></text>
<text transform="rotate(556.77)" dy=".35em" lengthAdjust="spacingAndGlyphs"><tspan x="215.1" textLength="9">NNEH0ESG3</tspan><tspan x="224.1" textLength="7.98" fill-opacity="0.85">OUDB6QX</tspan></text>
<text transform="rotate(557.15)" dy=".35em" lengthAdjust="spacingAndGlyphs"><tspan x="215.1" textLength="9">AKNKRRHUX</tspan><tspan x="224.1" textLength="16.73" fill-opacity="0.85">2MRE8HDUMHX2OHGN</tspan></text>
<text transform="rotate(557.53)" dy=".35em" lengthAdjust="spacingAndGlyphs"><tspan x="215.1" textLength="9">N2AAU8SSO</tspan><tspan x="224.1" textLength="14.71" fill-opacity="0.85">HDRNE3NMDMWSMG</tspan></text>
<text transform="rotate(557.91)" dy=".35em" lengthAdjust="spacingAndGlyphs"><tspan x="215.1" textLength="9">A50PXBW8K</tspan><tspan x="224.1" textLength="15.57" fill-opacity="0.85">UA04MMWRE4WN624</tspan></text>
<text transform="rotate(558.29)" dy=".35em" lengthAdjust="spacingAndGlyphs"><tspan x="215.1" textLength="9">PGRX0SAQX</tspan><tspan x="224.1" textLength="13.66" fill-opacity="0.85">WHDUWDEAMQE80</tspan></text>
<text transform="rotate(558.67)" dy=".35em" lengthAdjust="spacingAndGlyphs"><tspan x="215.1" textLength="9">ASUDKEQHG</tspan><tspan x="224.1" textLength="13.64" fill-opacity="0.85">NGNXR54KA2QED</tspan></text>
<text transform="rotate(559.05)" dy=".35em" lengthAdjust="spacingAndGlyphs"><tspan x="215.1" textLength="9">MDUEDOSDR</tspan><tspan x="224.1" textLength="15.63" fill-opacity="0.85">KHNSS8ADXR6B3PH</tspan></text>
<text transform="rotate(559.43)" dy=".35em" lengthAdjust="spacingAndGlyphs"><tspan x="215.1" textLength="9">H6WBX28GH</tspan><tspan x="224.1" textLength="12.7" fill-opacity="0.85">NP0XHDD24XKN</tspan></text>
<text transform="rotate(559.81)" dy=".35em" lengthAdjust="spacingAndGlyphs"><tspan x="215.1" textLength="9">540D58QDB</tspan><tspan x="224.1" textLength="14.8" fill-opacity="0.85">D8SWOBHGW6OODB</tspan></text>
</g>
</g>
<g fill="none" stroke-width="0.8">
<path stroke="#ea8f8f" d="M137.17 208.49L100.06 186.75M99.39 187.91A190 190 0 0 1 100.75 185.6M99.39 187.91L85.02 179.63M84.7 180.2A206.58 206.58 0 0 1 85.35 179.07M84.7 180.2L79.3 177.11M85.35 179.07L79.97 175.95M100.75 185.6L94.98 182.17M94.51 182.96A196.71 196.71 0 0 1 95.46 181.37M94.51 182.96L80.65 174.8M95.46 181.37L86.68 176.09M86.35 176.64A206.95 206.95 0 0 1 87.02 175.53M86.35 176.64L81.33 173.65M87.02 175.53L82.02 172.5"/>
<path stroke="#a5cfee" d="M97.42 179.52L94.02 177.41M93.65 178A200 200 0 0 1 94.39 176.82M93.65 178L82.75 171.3M94.39 176.82L83.54 170.03"/>
<path stroke="#fae49d" d="M99.14 176.79L95.78 174.63M95.17 175.59A200 200 0 0 1 96.39 173.68M95.17 175.59L84.36 168.72M96.39 173.68L92.03 170.84M91.61 171.49A205.2 205.2 0 0 1 92.46 170.19M91.61 171.49L85.23 167.37M92.46 170.19L86.11 166.02"/>
<path stroke="#bbb1e6" d="M138.11 192.37L113.75 174.87M112.87 176.1A185 185 0 0 1 114.63 173.65M112.87 176.1L108.47 173M107.61 174.23A190.38 190.38 0 0 1 109.35 171.77M107.61 174.23L103.88 171.64M103.06 172.83A194.93 194.93 0 0 1 104.7 170.46M103.06 172.83L97.38 168.94M96.66 170A201.81 201.81 0 0 1 98.1 167.89M96.66 170L91.08 166.23M90.59 166.97A208.54 208.54 0 0 1 91.57 165.51M90.59 166.97L87.05 164.6M91.57 165.51L88.05 163.11M98.1 167.89L89.07 161.63M104.7 170.46L90.09 160.16M109.35 171.77L91.13 158.7M114.63 173.65L92.19 157.24"/>
<path stroke="#a3d093" d="M142.03 187.15L138.09 184.07M136.21 186.52A160 160 0 0 1 140.03 181.65M136.21 186.52L99.36 158.76M98.72 159.61A206.14 206.14 0 0 1 100.01 157.9M98.72 159.61L93.38 155.63M100.01 157.9L94.71 153.87M140.03 181.65L137.42 179.53M135.07 182.47A163.36 163.36 0 0 1 139.83 176.64M135.07 182.47L96.06 152.11M139.83 176.64L137.28 174.45M134.85 177.36A166.73 166.73 0 0 1 139.77 171.6M134.85 177.36L111.39 158.21M110.43 159.4A197.01 197.01 0 0 1 112.37 157.03M110.43 159.4L105.09 155.12M104.43 155.94A203.85 203.85 0 0 1 105.76 154.29M104.43 155.94L97.42 150.38M105.76 154.29L98.81 148.65M112.37 157.03L100.21 146.94M139.77 171.6L137.27 169.35M135.08 171.85A170.09 170.09 0 0 1 139.5 166.91M135.08 171.85L115.27 154.8M114.28 155.96A196.22 196.22 0 0 1 116.28 153.64M114.28 155.96L101.63 145.25M116.28 153.64L110.51 148.6M109.81 149.4A203.89 203.89 0 0 1 111.21 147.8M109.81 149.4L103.07 143.57M111.21 147.8L104.53 141.9M139.5 166.91L137.04 164.62M135.21 166.61A173.45 173.45 0 0 1 138.9 162.65M135.21 166.61L106 140.25M138.9 162.65L136.47 160.32M134.58 162.32A176.82 176.82 0 0 1 138.4 158.35M134.58 162.32L116.94 145.9M116.23 146.67A200.92 200.92 0 0 1 117.65 145.14M116.23 146.67L107.49 138.62M117.65 145.14L109 137M138.4 158.35L136.01 155.98M134.05 157.99A180.18 180.18 0 0 1 138 154M134.05 157.99L110.52 135.4M138 154L135.65 151.6M133.62 153.61A183.55 183.55 0 0 1 137.71 149.61M133.62 153.61L115.85 136M115.09 136.78A208.56 208.56 0 0 1 116.61 135.24M115.09 136.78L112.06 133.81M116.61 135.24L113.62 132.24M137.71 149.61L135.39 147.17M133.3 149.19A186.91 186.91 0 0 1 137.52 145.18M133.3 149.19L115.19 130.68M137.52 145.18L135.25 142.71M133.08 144.73A190.27 190.27 0 0 1 137.45 140.72M133.08 144.73L124.86 136.06M124.1 136.78A202.22 202.22 0 0 1 125.62 135.34M124.1 136.78L116.78 129.15M125.62 135.34L118.38 127.62M137.45 140.72L135.21 138.2M133.71 139.55A193.64 193.64 0 0 1 136.72 136.87M133.71 139.55L128.85 134.2M128.08 134.9A200.87 200.87 0 0 1 129.62 133.5M128.08 134.9L120 126.12M129.62 133.5L121.64 124.63M136.72 136.87L132.54 132.08M131.76 132.76A200 200 0 0 1 133.32 131.4M131.76 132.76L123.29 123.16M133.32 131.4L124.96 121.71"/>
<path stroke="#ddb1d3" d="M251.77 268.26L135.31 129.7M134.71 130.21A200 200 0 0 1 135.91 129.2M134.71 130.21L126.43 120.44M135.91 129.2L127.71 119.37"/>
<path stroke="#72b263" d="M252.11 267.98L154.49 146.3M153.07 147.45A175 175 0 0 1 155.92 145.16M153.07 147.45L129.11 118.22M155.92 145.16L153.22 141.72M151.57 143.03A179.38 179.38 0 0 1 154.88 140.42M151.57 143.03L130.62 116.99M154.88 140.42L150.93 135.27M148.83 136.9A185.88 185.88 0 0 1 153.05 133.66M148.83 136.9L132.15 115.77M153.05 133.66L147.81 126.62M145.86 128.1A194.66 194.66 0 0 1 149.79 125.17M145.86 128.1L142.2 123.31M141.11 124.15A200.68 200.68 0 0 1 143.3 122.48M141.11 124.15L133.68 114.57M143.3 122.48L141.69 120.35M140.95 120.91A203.35 203.35 0 0 1 142.44 119.79M140.95 120.91L135.23 113.38M142.44 119.79L136.79 112.21M149.79 125.17L143.3 116.21M142.54 116.77A205.72 205.72 0 0 1 144.06 115.66M142.54 116.77L138.36 111.05M144.06 115.66L139.94 109.91"/>
<path stroke="#a5d9ee" d="M161.65 137.17L149 119.17M148.57 119.47A200 200 0 0 1 149.43 118.87M148.57 119.47L141.18 109.02M149.43 118.87L142.1 108.38"/>
<path stroke="#a99cdc" d="M165.97 134.22L161.57 127.55M159.76 128.75A186 186 0 0 1 163.39 126.36M159.76 128.75L155.37 122.27M154.38 122.95A193.83 193.83 0 0 1 156.38 121.6M154.38 122.95L149.68 116.11M149.16 116.46A202.13 202.13 0 0 1 150.2 115.75M149.16 116.46L143.1 107.68M150.2 115.75L144.19 106.93M156.38 121.6L150.15 112.27M149.61 112.62A205.05 205.05 0 0 1 150.68 111.91M149.61 112.62L145.29 106.19M150.68 111.91L146.39 105.45M163.39 126.36L159.81 120.79M159.05 121.28A192.62 192.62 0 0 1 160.57 120.31M159.05 121.28L153.72 113.07M153.19 113.42A202.41 202.41 0 0 1 154.25 112.73M153.19 113.42L147.5 104.72M154.25 112.73L148.61 104M160.57 120.31L149.73 103.28"/>
<path stroke="#f7bd7d" d="M173.59 129.47L170.04 123.44M168.3 124.47A185 185 0 0 1 171.78 122.42M168.3 124.47L164.55 118.27M163.26 119.05A192.25 192.25 0 0 1 165.85 117.49M163.26 119.05L160.58 114.7M159.71 115.24A197.36 197.36 0 0 1 161.47 114.16M159.71 115.24L155.52 108.53M154.92 108.91A205.28 205.28 0 0 1 156.13 108.15M154.92 108.91L150.92 102.53M156.13 108.15L152.18 101.75M161.47 114.16L153.45 100.97M165.85 117.49L158.07 104.4M157.45 104.77A207.48 207.48 0 0 1 158.7 104.03M157.45 104.77L154.72 100.2M158.7 104.03L156 99.45M171.78 122.42L160.39 102.61M159.76 102.98A207.85 207.85 0 0 1 161.02 102.25M159.76 102.98L157.28 98.7M161.02 102.25L158.57 97.96"/>
<path stroke="#f59d9b" d="M249.8 219.37L249.14 216.44M242.14 218.41A68 68 0 0 1 256.32 215.24M242.14 218.41L239.57 210.83M234.98 212.56A76 76 0 0 1 244.26 209.41M234.98 212.56L220.31 177.07M215.72 179.09A114.4 114.4 0 0 1 224.98 175.26M215.72 179.09L189.11 121.91M182.46 125.17A177.47 177.47 0 0 1 195.88 118.92M182.46 125.17L179.89 120.19M175.34 122.62A183.07 183.07 0 0 1 184.5 117.89M175.34 122.62L169.65 112.35M168.7 112.88A194.82 194.82 0 0 1 170.61 111.82M168.7 112.88L159.91 97.2M170.61 111.82L165.85 103.11M165.18 103.48A204.75 204.75 0 0 1 166.53 102.74M165.18 103.48L161.3 96.42M166.53 102.74L162.69 95.66M184.5 117.89L181.68 112.04M179.49 113.11A189.57 189.57 0 0 1 183.88 111M179.49 113.11L176.45 107.01M173.91 108.3A196.39 196.39 0 0 1 179.01 105.76M173.91 108.3L171.09 102.83M169.58 103.62A202.53 202.53 0 0 1 172.61 102.06M169.58 103.62L168.65 101.85M167.97 102.21A204.53 204.53 0 0 1 169.33 101.49M167.97 102.21L164.09 94.91M169.33 101.49L165.5 94.17M172.61 102.06L171.71 100.27M170.69 100.79A204.53 204.53 0 0 1 172.73 99.76M170.69 100.79L166.92 93.44M172.73 99.76L171.84 97.97M171.15 98.31A206.53 206.53 0 0 1 172.53 97.62M171.15 98.31L168.33 92.72M172.53 97.62L169.76 92.01M179.01 105.76L175.34 98.12M174.65 98.46A204.86 204.86 0 0 1 176.03 97.79M174.65 98.46L171.19 91.31M176.03 97.79L172.62 90.62M183.88 111L174.06 89.94M195.88 118.92L191.11 107.45M188.07 108.74A189.9 189.9 0 0 1 194.17 106.21M188.07 108.74L185.7 103.32M182.57 104.72A195.82 195.82 0 0 1 188.86 101.97M182.57 104.72L175.51 89.27M188.86 101.97L188.04 100M186.25 100.75A197.96 197.96 0 0 1 189.83 99.26M186.25 100.75L184.36 96.34M182.8 97.01A202.76 202.76 0 0 1 185.93 95.67M182.8 97.01L181.99 95.18M180.94 95.64A204.76 204.76 0 0 1 183.05 94.72M180.94 95.64L180.13 93.81M179.43 94.13A206.76 206.76 0 0 1 180.84 93.5M179.43 94.13L176.96 88.62M180.84 93.5L178.41 87.97M183.05 94.72L179.87 87.34M185.93 95.67L185.16 93.83M184.46 94.12A204.76 204.76 0 0 1 185.87 93.53M184.46 94.12L181.33 86.71M185.87 93.53L182.8 86.1M189.83 99.26L184.27 85.5M194.17 106.21L185.75 84.91M224.98 175.26L223.24 170.46M221.62 171.06A119.5 119.5 0 0 1 224.87 169.88M221.62 171.06L210.55 141.89M209.63 142.24A150.71 150.71 0 0 1 211.48 141.54M209.63 142.24L187.23 84.33M211.48 141.54L194.25 95.21M193.2 95.61A200.13 200.13 0 0 1 195.3 94.83M193.2 95.61L188.72 83.76M195.3 94.83L194.62 92.95M193.91 93.21A202.13 202.13 0 0 1 195.33 92.69M193.91 93.21L190.21 83.2M195.33 92.69L191.7 82.66M224.87 169.88L197.43 90.67M196.35 91.05A203.34 203.34 0 0 1 198.51 90.3M196.35 91.05L193.2 82.12M198.51 90.3L197.86 88.41M197.14 88.66A205.34 205.34 0 0 1 198.59 88.16M197.14 88.66L194.71 81.6M198.59 88.16L196.21 81.09M244.26 209.41L242.48 202.8M241.27 203.14A82.84 82.84 0 0 1 243.7 202.49M241.27 203.14L239.35 196.42M238.18 196.76A89.83 89.83 0 0 1 240.53 196.09M238.18 196.76L213.25 113.66M210.88 114.39A176.59 176.59 0 0 1 215.63 112.96M210.88 114.39L209.48 109.93M208.19 110.34A181.26 181.26 0 0 1 210.77 109.53M208.19 110.34L202.22 91.91M201.51 92.15A200.63 200.63 0 0 1 202.94 91.69M201.51 92.15L197.72 80.58M202.94 91.69L199.24 80.09M210.77 109.53L204.03 87.58M203.3 87.8A204.23 204.23 0 0 1 204.76 87.35M203.3 87.8L200.75 79.62M204.76 87.35L202.27 79.15M215.63 112.96L209.7 92.16M208.64 92.47A198.22 198.22 0 0 1 210.77 91.86M208.64 92.47L206.91 86.55M206.18 86.77A204.38 204.38 0 0 1 207.65 86.34M206.18 86.77L203.8 78.69M207.65 86.34L205.33 78.25M210.77 91.86L206.86 77.82M240.53 196.09L208.39 77.39M243.7 202.49L215.23 89.85M214.15 90.13A199.02 199.02 0 0 1 216.32 89.58M214.15 90.13L212.9 85.3M212.16 85.49A204.01 204.01 0 0 1 213.64 85.11M212.16 85.49L209.93 76.98M213.64 85.11L211.47 76.59M216.32 89.58L213.01 76.2M256.32 215.24L254.96 203.31M246 204.85A80 80 0 0 1 264.04 202.8M246 204.85L244.19 197.06M243.55 197.21A88 88 0 0 1 244.84 196.91M243.55 197.21L214.56 75.82M244.84 196.91L244.03 193.31M243.36 193.46A91.69 91.69 0 0 1 244.7 193.16M243.36 193.46L216.11 75.46M244.7 193.16L243.92 189.55M243.23 189.7A95.38 95.38 0 0 1 244.62 189.4M243.23 189.7L217.66 75.11M244.62 189.4L243.87 185.79M243.15 185.94A99.08 99.08 0 0 1 244.6 185.64M243.15 185.94L219.21 74.77M244.6 185.64L243.88 182.02M243.12 182.17A102.77 102.77 0 0 1 244.63 181.87M243.12 182.17L220.77 74.44M244.63 181.87L243.93 178.25M243.15 178.4A106.46 106.46 0 0 1 244.71 178.1M243.15 178.4L222.33 74.12M244.71 178.1L244.04 174.47M243.24 174.62A110.15 110.15 0 0 1 244.85 174.32M243.24 174.62L223.89 73.81M244.85 174.32L244.21 170.69M243.38 170.84A113.85 113.85 0 0 1 245.04 170.54M243.38 170.84L225.45 73.52M245.04 170.54L244.43 166.9M243.57 167.05A117.54 117.54 0 0 1 245.28 166.76M243.57 167.05L227.02 73.24M245.28 166.76L244.69 163.12M243.83 163.26A121.23 121.23 0 0 1 245.56 162.98M243.83 163.26L228.59 72.97M245.56 162.98L245 159.33M244.13 159.47A124.92 124.92 0 0 1 245.86 159.2M244.13 159.47L230.16 72.71M245.86 159.2L245.33 155.55M244.5 155.67A128.62 128.62 0 0 1 246.16 155.43M244.5 155.67L231.73 72.46M246.16 155.43L245.65 151.77M244.91 151.88A132.31 132.31 0 0 1 246.38 151.67M244.91 151.88L233.3 72.23M246.38 151.67L245.89 148.01M245.39 148.08A136 136 0 0 1 246.4 147.94M245.39 148.08L234.88 72M246.4 147.94L236.46 71.79M264.04 202.8L264.07 156.8M254.69 157.14A126 126 0 0 1 273.44 157.15M254.69 157.14L254.25 151.16M251.2 151.42A132 132 0 0 1 257.29 150.97M251.2 151.42L250.62 145.38M248.43 145.61A138.07 138.07 0 0 1 252.8 145.19M248.43 145.61L247.84 140.33M246.5 140.49A143.39 143.39 0 0 1 249.17 140.18M246.5 140.49L238.03 71.59M249.17 140.18L248.5 133.73M247.38 133.85A149.88 149.88 0 0 1 249.61 133.61M247.38 133.85L241.15 77.99M240.38 78.08A206.08 206.08 0 0 1 241.92 77.91M240.38 78.08L239.61 71.4M241.92 77.91L241.2 71.23M249.61 133.61L244.77 83.47M244.03 83.54A200.26 200.26 0 0 1 245.52 83.4M244.03 83.54L242.78 71.06M245.52 83.4L244.36 70.91M252.8 145.19L247.55 80.68M246.8 80.74A202.79 202.79 0 0 1 248.31 80.62M246.8 80.74L245.95 70.77M248.31 80.62L247.53 70.64M257.29 150.97L256.96 144.37M254.82 144.49A138.61 138.61 0 0 1 259.09 144.28M254.82 144.49L250.44 78.41M249.68 78.46A204.84 204.84 0 0 1 251.2 78.36M249.68 78.46L249.12 70.52M251.2 78.36L250.71 70.42M259.09 144.28L257.81 107.91M255.03 108.03A175 175 0 0 1 260.59 107.83M255.03 108.03L253.53 78.93M252.77 78.97A204.14 204.14 0 0 1 254.3 78.89M252.77 78.97L252.3 70.32M254.3 78.89L253.89 70.24M260.59 107.83L260.5 103.49M258.83 103.53A179.34 179.34 0 0 1 262.18 103.46M258.83 103.53L258.45 90.6M257.02 90.65A192.28 192.28 0 0 1 259.89 90.57M257.02 90.65L256.48 75.83M255.7 75.86A207.1 207.1 0 0 1 257.25 75.81M255.7 75.86L255.47 70.17M257.25 75.81L257.06 70.11M259.89 90.57L259.68 80.69M258.92 80.71A202.15 202.15 0 0 1 260.43 80.68M258.92 80.71L258.66 70.07M260.43 80.68L260.25 70.03M262.18 103.46L261.84 70.01M273.44 157.15L274.87 138.21M267.98 137.85A145 145 0 0 1 281.73 138.89M267.98 137.85L268.1 133.38M264.16 133.32A149.48 149.48 0 0 1 272.05 133.54M264.16 133.32L264.21 79.56M263.45 79.56A203.24 203.24 0 0 1 264.97 79.56M263.45 79.56L263.43 70M264.97 79.56L265.02 70M272.05 133.54L272.35 127.96M269.81 127.84A155.07 155.07 0 0 1 274.88 128.11M269.81 127.84L270.03 122.01M267.78 121.94A160.9 160.9 0 0 1 272.29 122.11M267.78 121.94L267.89 117.24M266.65 117.22A165.6 165.6 0 0 1 269.13 117.28M266.65 117.22L267.21 82.36M266.46 82.35A200.46 200.46 0 0 1 267.96 82.38M266.46 82.35L266.61 70.02M267.96 82.38L268.2 70.04M269.13 117.28L270.32 78.88M269.55 78.86A204.02 204.02 0 0 1 271.08 78.91M269.55 78.86L269.79 70.08M271.08 78.91L271.38 70.13M272.29 122.11L274.16 85.72M273.06 85.67A197.34 197.34 0 0 1 275.27 85.78M273.06 85.67L273.19 82.74M272.44 82.71A200.27 200.27 0 0 1 273.94 82.78M272.44 82.71L272.97 70.19M273.94 82.78L274.56 70.26M275.27 85.78L276.15 70.35M274.88 128.11L278.09 82.5M276.96 82.43A200.79 200.79 0 0 1 279.21 82.59M276.96 82.43L277.74 70.44M279.21 82.59L279.36 80.59M278.61 80.54A202.79 202.79 0 0 1 280.12 80.65M278.61 80.54L279.33 70.55M280.12 80.65L280.91 70.67M281.73 138.89L283.86 121.54M281.75 121.3A162.48 162.48 0 0 1 285.97 121.82M281.75 121.3L282.33 116.06M280.45 115.87A167.74 167.74 0 0 1 284.19 116.28M280.45 115.87L280.88 111.51M279.6 111.39A172.12 172.12 0 0 1 282.16 111.64M279.6 111.39L282.34 81.32M281.59 81.25A202.31 202.31 0 0 1 283.09 81.39M281.59 81.25L282.5 70.81M283.09 81.39L284.08 70.95M282.16 111.64L285.86 76.81M285.09 76.73A207.15 207.15 0 0 1 286.63 76.89M285.09 76.73L285.67 71.11M286.63 76.89L287.25 71.27M284.19 116.28L288.05 84.45M287.31 84.36A199.8 199.8 0 0 1 288.8 84.54M287.31 84.36L288.83 71.45M288.8 84.54L290.41 71.65M285.97 121.82L291.78 79.23M291.02 79.13A205.46 205.46 0 0 1 292.54 79.34M291.02 79.13L291.99 71.85M292.54 79.34L293.56 72.06"/>
<path stroke="#7bbbe6" d="M268.49 254.15L282.57 164.24M281.94 164.15A120 120 0 0 1 283.19 164.34M281.94 164.15L289.94 111.3M289.34 111.21A173.45 173.45 0 0 1 290.54 111.39M289.34 111.21L295.09 72.28M290.54 111.39L296.56 72.51M283.19 164.34L298.02 72.74"/>
<path stroke="#a396d5" d="M269.53 254.33L270.1 251.39M269.61 251.3A32 32 0 0 1 270.59 251.49M269.61 251.3L300.12 80.13M299.05 79.95A205.86 205.86 0 0 1 301.19 80.33M299.05 79.95L299.59 76.82M298.87 76.69A209.04 209.04 0 0 1 300.31 76.94M298.87 76.69L299.49 72.98M300.31 76.94L300.97 73.24M301.19 80.33L302.44 73.5M270.59 251.49L271.49 247.21M270.95 247.1A36.37 36.37 0 0 1 272.04 247.33M270.95 247.1L302.89 82.93M302.19 82.8A203.62 203.62 0 0 1 303.59 83.07M302.19 82.8L303.91 73.78M303.59 83.07L305.38 74.06M272.04 247.33L273.01 243.06M272.41 242.94A40.74 40.74 0 0 1 273.6 243.2M272.41 242.94L304.89 89.05M303.87 88.83A198.02 198.02 0 0 1 305.91 89.26M303.87 88.83L306.85 74.36M305.91 89.26L307.15 83.56M306.45 83.41A203.85 203.85 0 0 1 307.85 83.72M306.45 83.41L308.31 74.66M307.85 83.72L309.77 74.98M273.6 243.2L274.62 238.95M274.17 238.85A45.11 45.11 0 0 1 275.08 239.07M274.17 238.85L309.22 87.35M308.53 87.19A200.62 200.62 0 0 1 309.9 87.51M308.53 87.19L311.23 75.31M309.9 87.51L312.69 75.65M275.08 239.07L276.15 234.83M275.66 234.71A49.49 49.49 0 0 1 276.64 234.96M275.66 234.71L314.15 75.99M276.64 234.96L277.76 230.73M277.24 230.6A53.86 53.86 0 0 1 278.28 230.87M277.24 230.6L312.78 90.49M312.11 90.32A198.4 198.4 0 0 1 313.46 90.67M312.11 90.32L315.6 76.35M313.46 90.67L317.05 76.72M278.28 230.87L279.44 226.66M278.91 226.51A58.23 58.23 0 0 1 279.96 226.8M278.91 226.51L318.5 77.1M279.96 226.8L281.16 222.6M280.46 222.4A62.6 62.6 0 0 1 281.87 222.8M280.46 222.4L319.94 77.48M281.87 222.8L283.12 218.61M282.06 218.31A66.97 66.97 0 0 1 284.17 218.94M282.06 218.31L321.38 77.88M284.17 218.94L285.48 214.77M284.08 214.34A71.34 71.34 0 0 1 286.87 215.22M284.08 214.34L321.07 88.24M320.05 87.94A202.76 202.76 0 0 1 322.1 88.54M320.05 87.94L322.82 78.29M322.1 88.54L323.19 84.89M322.5 84.68A206.58 206.58 0 0 1 323.89 85.1M322.5 84.68L324.26 78.71M323.89 85.1L325.69 79.14M286.87 215.22L288.28 211.08M286.84 210.61A75.71 75.71 0 0 1 289.7 211.58M286.84 210.61L323.48 94.8M322.49 94.49A197.19 197.19 0 0 1 324.47 95.12M322.49 94.49L327.12 79.58M324.47 95.12L326.5 88.84M325.81 88.62A203.78 203.78 0 0 1 327.18 89.06M325.81 88.62L328.55 80.03M327.18 89.06L329.97 80.48M289.7 211.58L291.18 207.47M289.76 206.97A80.09 80.09 0 0 1 292.6 207.99M289.76 206.97L328.38 93.31M327.38 92.97A200.13 200.13 0 0 1 329.38 93.65M327.38 92.97L331.39 80.95M329.38 93.65L331.62 87.18M330.93 86.94A206.98 206.98 0 0 1 332.3 87.41M330.93 86.94L332.81 81.43M332.3 87.41L334.22 81.92M292.6 207.99L294.16 203.91M292.85 203.42A84.46 84.46 0 0 1 295.46 204.42M292.85 203.42L331.68 96.58M330.7 96.23A198.14 198.14 0 0 1 332.66 96.94M330.7 96.23L335.64 82.42M332.66 96.94L335.12 90.3M334.44 90.05A205.22 205.22 0 0 1 335.79 90.55M334.44 90.05L337.04 82.93M335.79 90.55L338.45 83.45M295.46 204.42L297.09 200.36M295.95 199.92A88.83 88.83 0 0 1 298.21 200.82M295.95 199.92L336.56 94.57M335.9 94.32A201.73 201.73 0 0 1 337.22 94.83M335.9 94.32L339.85 83.98M337.22 94.83L341.24 84.51M298.21 200.82L299.9 196.79M298.74 196.32A93.2 93.2 0 0 1 301.05 197.28M298.74 196.32L340.56 92.24M339.89 91.97A205.37 205.37 0 0 1 341.23 92.51M339.89 91.97L342.63 85.06M341.23 92.51L344.02 85.62M301.05 197.28L302.78 193.27M301.64 192.78A97.57 97.57 0 0 1 303.92 193.77M301.64 192.78L342.62 94.78M341.96 94.51A203.79 203.79 0 0 1 343.28 95.06M341.96 94.51L345.41 86.19M343.28 95.06L346.79 86.76M303.92 193.77L305.71 189.78M304.65 189.31A101.94 101.94 0 0 1 306.76 190.26M304.65 189.31L343.69 99.52M343.04 99.24A199.85 199.85 0 0 1 344.33 99.8M343.04 99.24L348.16 87.35M344.33 99.8L349.53 87.95M306.76 190.26L308.6 186.29M307.42 185.75A106.31 106.31 0 0 1 309.77 186.84M307.42 185.75L350.9 88.55M309.77 186.84L311.65 182.9M310.26 182.25A110.69 110.69 0 0 1 313.03 183.56M310.26 182.25L345.83 104.94M345.21 104.66A195.78 195.78 0 0 1 346.46 105.23M345.21 104.66L352.27 89.17M346.46 105.23L353.62 89.79M313.03 183.56L314.96 179.65M313.56 178.96A115.06 115.06 0 0 1 316.36 180.35M313.56 178.96L350.94 100.62M350.3 100.32A201.86 201.86 0 0 1 351.58 100.93M350.3 100.32L354.98 90.43M351.58 100.93L356.33 91.07M316.36 180.35L318.35 176.45M316.95 175.75A119.43 119.43 0 0 1 319.74 177.18M316.95 175.75L353.5 101.85M352.87 101.54A201.88 201.88 0 0 1 354.14 102.16M352.87 101.54L357.68 91.73M354.14 102.16L359.02 92.39M319.74 177.18L321.78 173.31M320.44 172.62A123.8 123.8 0 0 1 323.11 174.02M320.44 172.62L357.15 100.95M356.51 100.63A204.32 204.32 0 0 1 357.79 101.28M356.51 100.63L360.35 93.06M357.79 101.28L361.68 93.75M323.11 174.02L325.2 170.18M323.64 169.35A128.17 128.17 0 0 1 326.75 171.04M323.64 169.35L363.01 94.44M326.75 171.04L328.89 167.23M327.52 166.47A132.54 132.54 0 0 1 330.25 168M327.52 166.47L359.04 108.73M358.13 108.23A198.33 198.33 0 0 1 359.96 109.23M358.13 108.23L361.94 101.15M361.3 100.81A206.37 206.37 0 0 1 362.58 101.5M361.3 100.81L364.33 95.14M362.58 101.5L365.65 95.85M359.96 109.23L366.96 96.57M330.25 168L332.43 164.21M331.09 163.45A136.91 136.91 0 0 1 333.77 165M331.09 163.45L368.27 97.3M333.77 165L336 161.24M334.52 160.37A141.29 141.29 0 0 1 337.46 162.12M334.52 160.37L366.58 104.72M365.96 104.36A205.51 205.51 0 0 1 367.21 105.08M365.96 104.36L369.57 98.03M367.21 105.08L370.87 98.78M337.46 162.12L339.74 158.38M338.47 157.62A145.66 145.66 0 0 1 340.99 159.15M338.47 157.62L368.47 107.2M367.85 106.83A204.33 204.33 0 0 1 369.09 107.56M367.85 106.83L372.16 99.54M369.09 107.56L373.44 100.3M340.99 159.15L343.3 155.44M342.06 154.68A150.03 150.03 0 0 1 344.54 156.22M342.06 154.68L374.72 101.07M344.54 156.22L346.88 152.53M345.26 151.51A154.4 154.4 0 0 1 348.49 153.57M345.26 151.51L376 101.86M348.49 153.57L350.88 149.91M348.98 148.69A158.77 158.77 0 0 1 352.76 151.16M348.98 148.69L373.93 109.31M373.32 108.92A205.39 205.39 0 0 1 374.54 109.7M373.32 108.92L377.27 102.65M374.54 109.7L378.53 103.45M352.76 151.16L355.21 147.53M353.25 146.24A163.14 163.14 0 0 1 357.14 148.86M353.25 146.24L370.88 119.27M370.3 118.89A195.36 195.36 0 0 1 371.45 119.64M370.3 118.89L379.79 104.26M371.45 119.64L381.04 105.08M357.14 148.86L359.64 145.27M357.6 143.88A167.51 167.51 0 0 1 361.65 146.69M357.6 143.88L377.41 114.48M376.82 114.09A202.96 202.96 0 0 1 378 114.88M376.82 114.09L382.29 105.91M378 114.88L383.53 106.74M361.65 146.69L364.2 143.14M362.04 141.62A171.89 171.89 0 0 1 366.34 144.7M362.04 141.62L381.86 113.08M381.26 112.66A206.63 206.63 0 0 1 382.46 113.49M381.26 112.66L384.76 107.59M382.46 113.49L385.99 108.44M366.34 144.7L368.94 141.19M367.32 140A176.26 176.26 0 0 1 370.55 142.4M367.32 140L382.15 119.5M381.28 118.88A201.56 201.56 0 0 1 383.01 120.12M381.28 118.88L383.43 115.88M382.84 115.46A205.24 205.24 0 0 1 384.01 116.3M382.84 115.46L387.22 109.3M384.01 116.3L388.43 110.17M383.01 120.12L389.64 111.05M370.55 142.4L373.19 138.91M372.18 138.15A180.63 180.63 0 0 1 374.2 139.68M372.18 138.15L386.63 118.83M386.05 118.4A204.75 204.75 0 0 1 387.2 119.26M386.05 118.4L390.85 111.94M387.2 119.26L392.05 112.83M374.2 139.68L381.85 129.76M381.31 129.34A193.16 193.16 0 0 1 382.38 130.17M381.31 129.34L393.24 113.74M382.38 130.17L394.42 114.65"/>
<path stroke="#d97979" d="M347.89 177.03L382.06 133.93M381.41 133.42A190 190 0 0 1 382.71 134.45M381.41 133.42L395.5 115.49M382.71 134.45L387.86 128.01M387.41 127.65A198.25 198.25 0 0 1 388.31 128.37M387.41 127.65L396.47 116.26M388.31 128.37L397.44 117.03"/>
<path stroke="#fbdb81" d="M360.35 181.23L367.24 173.98M366.11 172.92A150 150 0 0 1 368.35 175.04M366.11 172.92L371.56 167.06M370.07 165.69A158 158 0 0 1 373.03 168.45M370.07 165.69L375.44 159.76M373.69 158.21A166 166 0 0 1 377.16 161.35M373.69 158.21L378.98 152.2M377.3 150.74A174 174 0 0 1 380.64 153.68M377.3 150.74L382.51 144.67M381.11 143.48A182 182 0 0 1 383.9 145.88M381.11 143.48L386.25 137.36M384.99 136.3A190 190 0 0 1 387.51 138.42M384.99 136.3L391.99 127.82M391.09 127.08A201 201 0 0 1 392.89 128.56M391.09 127.08L398.56 117.94M392.89 128.56L395.88 124.98M395.27 124.48A205.66 205.66 0 0 1 396.48 125.49M395.27 124.48L399.82 118.98M396.48 125.49L401.08 120.03M387.51 138.42L402.33 121.1M383.9 145.88L399.44 128.13M398.84 127.61A205.59 205.59 0 0 1 400.04 128.66M398.84 127.61L403.57 122.17M400.04 128.66L404.81 123.25M380.64 153.68L398.04 134.41M397.47 133.9A199.96 199.96 0 0 1 398.61 134.93M397.47 133.9L406.03 124.34M398.61 134.93L407.25 125.44M377.16 161.35L403.84 132.71M403.26 132.17A205.14 205.14 0 0 1 404.42 133.25M403.26 132.17L408.46 126.55M404.42 133.25L409.66 127.66M373.03 168.45L410.85 128.79M368.35 175.04L412.03 129.93"/>
<path stroke="#7fb1b9" d="M379.72 204.01L386.34 199.51M384.92 197.47A148 148 0 0 1 387.72 201.57M384.92 197.47L387.75 195.47M386.44 193.63A151.47 151.47 0 0 1 389.05 197.33M386.44 193.63L389.24 191.59M387.89 189.76A154.93 154.93 0 0 1 390.56 193.43M387.89 189.76L390.66 187.68M389.15 185.7A158.4 158.4 0 0 1 392.14 189.69M389.15 185.7L391.89 183.57M390.25 181.51A161.87 161.87 0 0 1 393.48 185.67M390.25 181.51L392.96 179.34M391.51 177.55A165.33 165.33 0 0 1 394.39 181.14M391.51 177.55L394.18 175.34M392.63 173.49A168.8 168.8 0 0 1 395.7 177.22M392.63 173.49L395.27 171.25M393.57 169.28A172.27 172.27 0 0 1 396.94 173.24M393.57 169.28L396.18 167M394.84 165.48A175.73 175.73 0 0 1 397.51 168.53M394.84 165.48L397.42 163.17M396.07 161.68A179.2 179.2 0 0 1 398.75 164.67M396.07 161.68L398.62 159.34M397.1 157.69A182.67 182.67 0 0 1 400.13 161M397.1 157.69L399.62 155.32M398.21 153.83A186.13 186.13 0 0 1 401.02 156.82M398.21 153.83L400.71 151.43M399.15 149.82A189.6 189.6 0 0 1 402.26 153.06M399.15 149.82L401.62 147.39M400.47 146.23A193.07 193.07 0 0 1 402.76 148.56M400.47 146.23L402.92 143.78M402.21 143.07A196.53 196.53 0 0 1 403.62 144.49M402.21 143.07L406.76 138.48M406.27 138A203 203 0 0 1 407.25 138.96M406.27 138L413.14 131M407.25 138.96L414.16 132.02M403.62 144.49L415.18 133.04M402.76 148.56L408.58 142.93M407.87 142.2A201.16 201.16 0 0 1 409.29 143.67M407.87 142.2L416.19 134.06M409.29 143.67L413.88 139.27M413.39 138.76A207.52 207.52 0 0 1 414.36 139.78M413.39 138.76L417.19 135.1M414.36 139.78L418.19 136.14M402.26 153.06L419.18 137.19M401.02 156.82L411.47 147.21M411.01 146.71A200.33 200.33 0 0 1 411.93 147.71M411.01 146.71L420.16 138.24M411.93 147.71L421.14 139.3M400.13 161L416.56 146.29M416.1 145.77A204.72 204.72 0 0 1 417.02 146.81M416.1 145.77L422.1 140.37M417.02 146.81L423.06 141.44M398.75 164.67L424.02 142.52M397.51 168.53L417.88 151.09M417.21 150.31A202.55 202.55 0 0 1 418.55 151.87M417.21 150.31L424.96 143.61M418.55 151.87L421.38 149.48M420.92 148.95A206.26 206.26 0 0 1 421.83 150.01M420.92 148.95L425.9 144.7M421.83 150.01L426.83 145.8M396.94 173.24L418.61 155.38M418.18 154.85A200.35 200.35 0 0 1 419.04 155.9M418.18 154.85L427.76 146.9M419.04 155.9L428.67 148.02M395.7 177.22L418.48 158.96M418.06 158.43A197.99 197.99 0 0 1 418.9 159.48M418.06 158.43L429.58 149.13M418.9 159.48L430.48 150.26M394.39 181.14L424.25 157.86M423.83 157.31A203.21 203.21 0 0 1 424.68 158.4M423.83 157.31L431.38 151.39M424.68 158.4L432.26 152.52M393.48 185.67L426.09 161.21M425.47 160.39A202.63 202.63 0 0 1 426.7 162.03M425.47 160.39L429.08 157.65M428.65 157.09A207.16 207.16 0 0 1 429.5 158.21M428.65 157.09L433.14 153.67M429.5 158.21L434.01 154.81M426.7 162.03L434.87 155.97M392.14 189.69L425.47 165.47M425.07 164.92A199.6 199.6 0 0 1 425.87 166.02M425.07 164.92L435.73 157.13M425.87 166.02L436.57 158.29M390.56 193.43L425.82 168.53M425.44 167.98A198.1 198.1 0 0 1 426.21 169.08M425.44 167.98L437.41 159.46M426.21 169.08L438.24 160.64M389.05 197.33L428.13 170.61M427.56 169.78A198.81 198.81 0 0 1 428.7 171.44M427.56 169.78L439.07 161.82M428.7 171.44L434.11 167.78M433.72 167.21A205.35 205.35 0 0 1 434.5 168.36M433.72 167.21L439.88 163.01M434.5 168.36L440.69 164.21M387.72 201.57L431.94 172.54M431.56 171.97A200.9 200.9 0 0 1 432.31 173.11M431.56 171.97L441.49 165.4M432.31 173.11L442.28 166.61"/>
<path stroke="#d3a63d" d="M380.37 210.51L408.4 193.09M407.69 191.96A170 170 0 0 1 409.1 194.23M407.69 191.96L424.02 181.64M423.49 180.8A189.32 189.32 0 0 1 424.55 182.48M423.49 180.8L443.27 168.15M424.55 182.48L444.46 170.03M409.1 194.23L445.64 171.93"/>
<path stroke="#cef380" d="M383.98 216.67L390.99 212.81M389.39 209.98A145 145 0 0 1 392.53 215.67M389.39 209.98L436.01 182.9M435.29 181.68A198.92 198.92 0 0 1 436.72 184.13M435.29 181.68L441.89 177.78M441.39 176.94A206.58 206.58 0 0 1 442.39 178.63M441.39 176.94L446.73 173.75M442.39 178.63L447.76 175.49M436.72 184.13L448.77 177.24M392.53 215.67L398.71 212.44M397.32 209.86A151.97 151.97 0 0 1 400.04 215.06M397.32 209.86L401.27 207.69M400.6 206.47A156.48 156.48 0 0 1 401.94 208.92M400.6 206.47L449.77 179M401.94 208.92L406.59 206.43M405.95 205.25A161.75 161.75 0 0 1 407.22 207.62M405.95 205.25L450.75 180.77M407.22 207.62L438.5 191.2M437.84 189.96A197.08 197.08 0 0 1 439.15 192.44M437.84 189.96L451.71 182.55M439.15 192.44L447.24 188.27M446.79 187.4A206.18 206.18 0 0 1 447.68 189.14M446.79 187.4L452.65 184.34M447.68 189.14L453.58 186.14M400.04 215.06L454.49 187.94"/>
<path stroke="#cd80c0" d="M424.46 205.75L435.28 200.55M434.88 199.73A190 190 0 0 1 435.67 201.38M434.88 199.73L455.39 189.77M435.67 201.38L456.27 191.61"/>
<path stroke="#f3a6a6" d="M427.72 212.94L429.56 212.15M427.36 207.21A180 180 0 0 1 431.61 217.17M427.36 207.21L457.13 193.43M431.61 217.17L436.69 215.18M434.33 209.44A185.45 185.45 0 0 1 438.85 220.99M434.33 209.44L440.63 206.72M439.29 203.67A192.32 192.32 0 0 1 441.93 209.79M439.29 203.67L457.95 195.25M441.93 209.79L446.16 208.06M444.21 203.47A196.9 196.9 0 0 1 447.99 212.69M444.21 203.47L458.76 197.06M447.99 212.69L449.72 212.03M448.64 209.27A198.74 198.74 0 0 1 450.75 214.81M448.64 209.27L451.39 208.18M450.19 205.22A201.7 201.7 0 0 1 452.54 211.15M450.19 205.22L451.8 204.55M450.97 202.58A203.45 203.45 0 0 1 452.61 206.53M450.97 202.58L459.56 198.89M452.61 206.53L454.47 205.78M453.92 204.45A205.45 205.45 0 0 1 455 207.12M453.92 204.45L455.77 203.69M455.4 202.79A207.45 207.45 0 0 1 456.14 204.58M455.4 202.79L460.34 200.73M456.14 204.58L461.1 202.57M455 207.12L461.84 204.42M452.54 211.15L454.41 210.43M454.07 209.54A203.7 203.7 0 0 1 454.75 211.33M454.07 209.54L462.56 206.27M454.75 211.33L463.27 208.13M450.75 214.81L463.96 210M438.85 220.99L464.63 211.88"/>
<path stroke="#6ea6d9" d="M426.97 227.8L448.76 220.44M448.46 219.56A195 195 0 0 1 449.06 221.33M448.46 219.56L465.3 213.78M449.06 221.33L465.95 215.72"/>
<path stroke="#f9c080" d="M435.57 228.37L449.87 223.84M449.61 223.03A195 195 0 0 1 450.13 224.65M449.61 223.03L466.56 217.57M450.13 224.65L467.12 219.34"/>
<path stroke="#c6b9ed" d="M440.6 231.13L444.44 230.01M443.99 228.51A188 188 0 0 1 444.87 231.51M443.99 228.51L467.74 221.35M444.87 231.51L459.72 227.29M459.41 226.21A203.44 203.44 0 0 1 460.02 228.38M459.41 226.21L468.4 223.61M460.02 228.38L469.04 225.87"/>
<path stroke="#e3bbe3" d="M442.46 237.99L446.34 237.02M445.86 235.16A188 188 0 0 1 446.8 238.88M445.86 235.16L463.4 230.56M463.16 229.66A206.13 206.13 0 0 1 463.63 231.47M463.16 229.66L469.61 227.94M463.63 231.47L470.1 229.81M446.8 238.88L456.51 236.55M456.19 235.24A197.98 197.98 0 0 1 456.82 237.86M456.19 235.24L470.57 231.68M456.82 237.86L464.75 236.01M464.54 235.1A206.13 206.13 0 0 1 464.96 236.92M464.54 235.1L471.02 233.56M464.96 236.92L471.46 235.44"/>
<path stroke="#e68686" d="M408.85 252.42L438.21 246.27M437.9 244.8A178 178 0 0 1 438.51 247.73M437.9 244.8L471.9 237.38M438.51 247.73L451.58 245.1M451.3 243.76A191.33 191.33 0 0 1 451.85 246.46M451.3 243.76L472.32 239.37M451.85 246.46L461.83 244.52M461.65 243.58A201.5 201.5 0 0 1 462.01 245.47M461.65 243.58L472.73 241.38M462.01 245.47L473.12 243.38"/>
<path stroke="#f9d3b3" d="M414.8 256.93L451.27 250.68M451.04 249.37A190 190 0 0 1 451.48 251.99M451.04 249.37L473.48 245.36M451.48 251.99L463.96 249.94M463.81 249A202.65 202.65 0 0 1 464.11 250.87M463.81 249L473.82 247.31M464.11 250.87L474.14 249.27"/>
<path stroke="#8db980" d="M421.42 269.26L428.39 268.66M428.05 265.08A165 165 0 0 1 428.66 272.25M428.05 265.08L444.29 263.32M443.77 259.03A181.34 181.34 0 0 1 444.7 267.63M443.77 259.03L448.44 258.41M448.12 256.05A186.05 186.05 0 0 1 448.74 260.77M448.12 256.05L465.61 253.51M465.47 252.57A203.73 203.73 0 0 1 465.74 254.45M465.47 252.57L474.44 251.22M465.74 254.45L474.73 253.18M448.74 260.77L463.89 258.97M463.59 256.64A201.3 201.3 0 0 1 464.15 261.29M463.59 256.64L475 255.15M464.15 261.29L468.74 260.8M468.53 258.89A205.92 205.92 0 0 1 468.94 262.71M468.53 258.89L471.49 258.55M471.37 257.58A208.9 208.9 0 0 1 471.6 259.51M471.37 257.58L475.24 257.11M471.6 259.51L475.47 259.08M468.94 262.71L471.9 262.41M471.81 261.45A208.9 208.9 0 0 1 472 263.38M471.81 261.45L475.69 261.05M472 263.38L475.88 263.02M444.7 267.63L476.05 264.99M428.66 272.25L433.66 271.93M433.54 270.15A170.01 170.01 0 0 1 433.77 273.7M433.54 270.15L476.21 266.97M433.77 273.7L462.72 272.15M462.64 270.77A199.01 199.01 0 0 1 462.79 273.54M462.64 270.77L470.18 270.31M470.12 269.35A206.56 206.56 0 0 1 470.24 271.27M470.12 269.35L476.35 268.94M470.24 271.27L476.47 270.92M462.79 273.54L476.57 272.9"/>
<path stroke="#7bb1e6" d="M421.75 291.69L428.74 292.08M429 282.34A165 165 0 0 1 427.9 301.79M429 282.34L433.95 282.32M433.84 276.51A169.95 169.95 0 0 1 433.87 288.14M433.84 276.51L476.65 274.92M433.87 288.14L438.6 288.29M438.69 283.31A174.69 174.69 0 0 1 438.37 293.26M438.69 283.31L444.28 283.33M444.21 277.87A180.28 180.28 0 0 1 444.18 288.78M444.21 277.87L476.72 276.98M444.18 288.78L448.74 288.93M448.82 285.78A184.84 184.84 0 0 1 448.61 292.08M448.82 285.78L454.14 285.87M454.16 281.23A190.17 190.17 0 0 1 454.01 290.51M454.16 281.23L458.78 281.19M458.75 279.36A194.78 194.78 0 0 1 458.78 283.02M458.75 279.36L476.77 279.04M458.78 283.02L463.66 283.03M463.66 281.21A199.66 199.66 0 0 1 463.65 284.84M463.66 281.21L476.79 281.11M463.65 284.84L466.66 284.87M466.67 283.15A202.67 202.67 0 0 1 466.64 286.59M466.67 283.15L476.8 283.17M466.64 286.59L468.64 286.63M468.66 285.14A204.67 204.67 0 0 1 468.6 288.12M468.66 285.14L476.79 285.23M468.6 288.12L470.6 288.17M470.63 287.17A206.67 206.67 0 0 1 470.57 289.17M470.63 287.17L476.75 287.3M470.57 289.17L476.7 289.36M454.01 290.51L476.63 291.42M448.61 292.08L476.53 293.48M438.37 293.26L476.42 295.54M427.9 301.79L433.41 302.43M433.64 300.33A170.54 170.54 0 0 1 433.15 304.54M433.64 300.33L438.21 300.8M438.46 298.16A175.13 175.13 0 0 1 437.91 303.44M438.46 298.16L445.43 298.77M445.63 296.35A182.13 182.13 0 0 1 445.2 301.19M445.63 296.35L462.99 297.65M463.06 296.68A199.55 199.55 0 0 1 462.92 298.61M463.06 296.68L476.28 297.6M462.92 298.61L476.13 299.66M445.2 301.19L466.21 303.32M466.35 301.85A203.25 203.25 0 0 1 466.06 304.79M466.35 301.85L468.35 302.04M468.44 301.05A205.25 205.25 0 0 1 468.25 303.03M468.44 301.05L475.96 301.72M468.25 303.03L475.76 303.77M466.06 304.79L475.55 305.82M437.91 303.44L475.32 307.87M433.15 304.54L475.06 309.92"/>
<path stroke="#f3b3c0" d="M368.84 298.42L461.82 312.28M462 310.98A200 200 0 0 1 461.62 313.57M462 310.98L469.62 312.06M469.75 311.17A207.7 207.7 0 0 1 469.49 312.96M469.75 311.17L474.81 311.86M469.49 312.96L474.54 313.7M461.62 313.57L474.27 315.54"/>
<path stroke="#fdde8d" d="M367.73 304.6L371.65 305.42M372.47 301.09A110 110 0 0 1 370.66 309.71M372.47 301.09L410.4 307.49M410.52 306.76A148.47 148.47 0 0 1 410.28 308.21M410.52 306.76L474.01 317.15M410.28 308.21L466.31 317.94M466.43 317.28A205.34 205.34 0 0 1 466.19 318.61M466.43 317.28L473.78 318.53M466.19 318.61L473.54 319.91M370.66 309.71L378.41 311.67M379.37 307.57A118 118 0 0 1 377.31 315.74M379.37 307.57L416.8 315.61M417.17 313.84A156.28 156.28 0 0 1 416.41 317.36M417.17 313.84L421.94 314.81M422.2 313.51A161.15 161.15 0 0 1 421.67 316.11M422.2 313.51L427.36 314.51M427.57 313.44A166.41 166.41 0 0 1 427.15 315.59M427.57 313.44L464.11 320.28M464.23 319.62A203.59 203.59 0 0 1 463.99 320.94M464.23 319.62L473.29 321.29M463.99 320.94L473.03 322.67M427.15 315.59L463.42 322.88M463.55 322.22A203.41 203.41 0 0 1 463.29 323.53M463.55 322.22L472.77 324.04M463.29 323.53L472.49 325.41M421.67 316.11L472.2 326.79M416.41 317.36L455.92 326.32M456.13 325.38A196.79 196.79 0 0 1 455.7 327.27M456.13 325.38L462.77 326.85M462.92 326.19A203.6 203.6 0 0 1 462.63 327.5M462.92 326.19L471.91 328.16M462.63 327.5L471.61 329.52M455.7 327.27L471.3 330.89M377.31 315.74L384.99 317.97M386.38 312.79A126 126 0 0 1 383.38 323.09M386.38 312.79L400.52 316.25M400.71 315.46A140.56 140.56 0 0 1 400.32 317.04M400.71 315.46L470.97 332.25M400.32 317.04L459.53 331.91M459.77 330.94A201.6 201.6 0 0 1 459.28 332.87M459.77 330.94L470.64 333.61M459.28 332.87L461.22 333.37M461.39 332.72A203.6 203.6 0 0 1 461.05 334.02M461.39 332.72L470.31 334.97M461.05 334.02L469.96 336.33M383.38 323.09L390.96 325.65M392.72 320.04A134 134 0 0 1 388.97 331.17M392.72 320.04L420.56 328.1M421.33 325.35A162.98 162.98 0 0 1 419.74 330.83M421.33 325.35L459.62 335.71M459.79 335.07A202.64 202.64 0 0 1 459.44 336.35M459.79 335.07L469.6 337.68M459.44 336.35L469.23 339.04M419.74 330.83L424.53 332.31M425.07 330.52A167.99 167.99 0 0 1 423.97 334.09M425.07 330.52L429.54 331.84M429.97 330.34A172.65 172.65 0 0 1 429.08 333.34M429.97 330.34L457.63 338.26M457.91 337.31A201.42 201.42 0 0 1 457.36 339.22M457.91 337.31L468.86 340.39M457.36 339.22L459.28 339.78M459.46 339.14A203.42 203.42 0 0 1 459.09 340.42M459.46 339.14L468.48 341.73M459.09 340.42L468.08 343.08M429.08 333.34L457.63 342.08M457.82 341.44A202.5 202.5 0 0 1 457.43 342.71M457.82 341.44L467.68 344.42M457.43 342.71L467.27 345.76M423.97 334.09L458.78 345.25M458.98 344.6A204.55 204.55 0 0 1 458.57 345.89M458.98 344.6L466.85 347.1M458.57 345.89L466.43 348.43M388.97 331.17L396.43 334.06M398.22 329.14A142 142 0 0 1 394.45 338.9M398.22 329.14L418.01 335.98M418.48 334.58A162.93 162.93 0 0 1 417.52 337.37M418.48 334.58L456.58 347.35M456.79 346.71A203.11 203.11 0 0 1 456.36 347.98M456.79 346.71L465.99 349.76M456.36 347.98L465.54 351.09M417.52 337.37L452.91 349.95M453.24 349.01A200.49 200.49 0 0 1 452.58 350.88M453.24 349.01L456.86 350.28M457.08 349.64A204.33 204.33 0 0 1 456.64 350.91M457.08 349.64L465.09 352.42M456.64 350.91L464.63 353.74M452.58 350.88L464.16 355.06M394.45 338.9L401.8 342.06M403.65 337.55A150 150 0 0 1 399.79 346.52M403.65 337.55L420.65 344.21M421.29 342.53A168.25 168.25 0 0 1 419.98 345.88M421.29 342.53L426.41 344.47M426.82 343.4A173.73 173.73 0 0 1 426 345.54M426.82 343.4L455.54 354.09M455.77 353.46A204.37 204.37 0 0 1 455.3 354.72M455.77 353.46L463.68 356.37M455.3 354.72L463.19 357.69M426 345.54L453.74 356.28M453.99 355.66A203.48 203.48 0 0 1 453.5 356.91M453.99 355.66L462.69 359M453.5 356.91L462.18 360.3M419.98 345.88L446.48 356.6M446.84 355.7A196.84 196.84 0 0 1 446.11 357.5M446.84 355.7L461.67 361.61M446.11 357.5L455.58 361.38M455.83 360.75A207.07 207.07 0 0 1 455.32 362.01M455.83 360.75L461.15 362.91M455.32 362.01L460.62 364.2M399.79 346.52L407.04 349.91M408.97 345.63A158 158 0 0 1 404.98 354.14M408.97 345.63L419.83 350.34M420.27 349.31A169.83 169.83 0 0 1 419.38 351.36M420.27 349.31L453.4 363.41M453.66 362.79A205.84 205.84 0 0 1 453.13 364.04M453.66 362.79L460.08 365.49M453.13 364.04L459.53 366.78M419.38 351.36L454.31 366.78M454.59 366.15A208.02 208.02 0 0 1 454.04 367.41M454.59 366.15L458.97 368.07M454.04 367.41L458.4 369.35M404.98 354.14L412.12 357.75M414.05 353.79A166 166 0 0 1 410.08 361.65M414.05 353.79L427.04 359.93M427.67 358.59A180.36 180.36 0 0 1 426.4 361.27M427.67 358.59L445.93 367.05M446.35 366.15A200.49 200.49 0 0 1 445.51 367.95M446.35 366.15L449.35 367.52M449.62 366.91A203.79 203.79 0 0 1 449.07 368.13M449.62 366.91L457.83 370.63M449.07 368.13L457.25 371.9M445.51 367.95L456.66 373.17M426.4 361.27L443.83 369.7M444.26 368.81A199.73 199.73 0 0 1 443.4 370.58M444.26 368.81L456.06 374.44M443.4 370.58L445.2 371.46M445.49 370.87A201.73 201.73 0 0 1 444.9 372.06M445.49 370.87L455.45 375.7M444.9 372.06L454.83 376.96M410.08 361.65L417.12 365.45M418.69 362.48A174 174 0 0 1 415.49 368.4M418.69 362.48L426.95 366.73M427.56 365.52A183.29 183.29 0 0 1 426.32 367.94M427.56 365.52L442.92 373.29M443.21 372.7A200.5 200.5 0 0 1 442.62 373.88M443.21 372.7L454.21 378.21M442.62 373.88L453.58 379.46M426.32 367.94L440.95 375.61M441.41 374.73A199.81 199.81 0 0 1 440.49 376.48M441.41 374.73L452.94 380.71M440.49 376.48L442.26 377.42M442.57 376.83A201.81 201.81 0 0 1 441.94 378.01M442.57 376.83L452.29 381.95M441.94 378.01L451.63 383.19M415.49 368.4L431.01 377.17M432.09 375.24A191.83 191.83 0 0 1 429.91 379.09M432.09 375.24L435.56 377.15M436.02 376.3A195.79 195.79 0 0 1 435.09 377.99M436.02 376.3L450.97 384.42M435.09 377.99L439.35 380.36M439.67 379.79A200.66 200.66 0 0 1 439.03 380.94M439.67 379.79L450.29 385.65M439.03 380.94L449.61 386.88M429.91 379.09L441.35 385.72M441.85 384.84A205.05 205.05 0 0 1 440.84 386.6M441.85 384.84L443.59 385.84M443.92 385.25A207.05 207.05 0 0 1 443.25 386.43M443.92 385.25L448.92 388.09M443.25 386.43L448.23 389.31M440.84 386.6L447.52 390.52"/>
<path stroke="#9dcd89" d="M318.96 324.52L377.11 368.65M385.25 356.71A142 142 0 0 1 377.11 368.65M385.25 356.71L407.32 370.16M407.9 369.2A167.85 167.85 0 0 1 406.73 371.12M407.9 369.2L441.19 389.19M441.54 388.6A206.68 206.68 0 0 1 440.83 389.78M441.54 388.6L446.8 391.74M440.83 389.78L446.07 392.95M406.73 371.12L434.22 388.13M434.57 387.56A200.17 200.17 0 0 1 433.87 388.69M434.57 387.56L445.33 394.17M433.87 388.69L444.58 395.38M378.61 366.64L383.45 370.18M386.93 365.22A148 148 0 0 1 379.77 375M386.93 365.22L402.96 375.97M403.91 374.55A167.31 167.31 0 0 1 402 377.39M403.91 374.55L415.7 382.28M416.73 380.69A181.41 181.41 0 0 1 414.66 383.86M416.73 380.69L420.36 383.02M420.95 382.1A185.72 185.72 0 0 1 419.77 383.93M420.95 382.1L443.83 396.58M419.77 383.93L435.29 394M435.85 393.14A204.22 204.22 0 0 1 434.73 394.86M435.85 393.14L443.06 397.78M434.73 394.86L436.4 395.96M436.78 395.38A206.22 206.22 0 0 1 436.03 396.53M436.78 395.38L442.29 398.97M436.03 396.53L441.51 400.16M414.66 383.86L440.72 401.34M402 377.39L433.03 398.66M433.42 398.09A204.92 204.92 0 0 1 432.64 399.22M433.42 398.09L439.93 402.52M432.64 399.22L439.12 403.69M379.77 375L384.47 378.74M388.31 373.69A154 154 0 0 1 380.41 383.62M388.31 373.69L403.82 385.03M404.46 384.15A173.21 173.21 0 0 1 403.18 385.9M404.46 384.15L408.4 387M409.01 386.15A178.07 178.07 0 0 1 407.79 387.84M409.01 386.15L425.82 398.14M426.4 397.33A198.72 198.72 0 0 1 425.24 398.95M426.4 397.33L431.15 400.67M431.54 400.12A204.53 204.53 0 0 1 430.75 401.23M431.54 400.12L438.31 404.86M430.75 401.23L437.49 406.02M425.24 398.95L436.67 407.18M407.79 387.84L435.83 408.33M403.18 385.9L434.99 409.47M380.41 383.62L384.95 387.55M388.67 383.09A160 160 0 0 1 381.07 391.86M388.67 383.09L403.22 394.8M404.36 393.37A178.68 178.68 0 0 1 402.07 396.22M404.36 393.37L408.09 396.31M409.27 394.8A183.43 183.43 0 0 1 406.9 397.81M409.27 394.8L414.81 399.07M415.87 397.68A190.43 190.43 0 0 1 413.73 400.45M415.87 397.68L428.26 407.06M428.68 406.51A205.97 205.97 0 0 1 427.85 407.6M428.68 406.51L434.14 410.61M427.85 407.6L433.28 411.75M413.73 400.45L422.85 407.61M423.47 406.81A202.01 202.01 0 0 1 422.22 408.41M423.47 406.81L425.05 408.04M425.46 407.5A204.01 204.01 0 0 1 424.63 408.58M425.46 407.5L432.42 412.87M424.63 408.58L431.55 414M422.22 408.41L430.67 415.11M406.9 397.81L429.78 416.22M402.07 396.22L420.37 411.25M420.8 410.73A202.36 202.36 0 0 1 419.94 411.77M420.8 410.73L428.88 417.33M419.94 411.77L427.98 418.42M381.07 391.86L385.46 395.95M389.18 391.82A166 166 0 0 1 381.6 399.96M389.18 391.82L401.44 402.5M402.78 400.94A182.26 182.26 0 0 1 400.08 404.04M402.78 400.94L407.65 405.08M408.56 404A188.65 188.65 0 0 1 406.73 406.16M408.56 404L427.07 419.52M406.73 406.16L414.86 413.19M415.51 412.43A199.4 199.4 0 0 1 414.2 413.94M415.51 412.43L421.05 417.17M421.49 416.64A206.68 206.68 0 0 1 420.6 417.69M421.49 416.64L426.15 420.6M420.6 417.69L425.23 421.68M414.2 413.94L424.3 422.76M400.08 404.04L415.68 417.94M416.13 417.43A203.15 203.15 0 0 1 415.23 418.44M416.13 417.43L423.36 423.82M415.23 418.44L422.42 424.89M381.6 399.96L385.85 404.19M389.86 400.03A172 172 0 0 1 381.71 408.22M389.86 400.03L392.67 402.64M393.72 401.51A175.84 175.84 0 0 1 391.61 403.77M393.72 401.51L414.55 420.57M415.01 420.07A204.07 204.07 0 0 1 414.09 421.08M415.01 420.07L421.46 425.94M414.09 421.08L420.5 426.99M391.61 403.77L408.48 419.75M409.51 418.66A199.08 199.08 0 0 1 407.45 420.84M409.51 418.66L419.54 428.03M407.45 420.84L408.89 422.22M409.59 421.49A201.08 201.08 0 0 1 408.19 422.95M409.59 421.49L412.29 424.07M412.76 423.57A204.81 204.81 0 0 1 411.81 424.56M412.76 423.57L418.56 429.07M411.81 424.56L417.58 430.1M408.19 422.95L416.6 431.12M381.71 408.22L385.81 412.59M389.5 409.03A178 178 0 0 1 382.02 416.05M389.5 409.03L392.45 412M393.79 410.65A182.19 182.19 0 0 1 391.1 413.33M393.79 410.65L415.6 432.13M391.1 413.33L395.77 418.13M396.55 417.36A188.88 188.88 0 0 1 394.97 418.9M396.55 417.36L406.68 427.63M407.4 426.91A203.3 203.3 0 0 1 405.95 428.34M407.4 426.91L408.95 428.47M409.44 427.99A205.51 205.51 0 0 1 408.47 428.96M409.44 427.99L414.6 433.14M408.47 428.96L413.59 434.15M405.95 428.34L412.58 435.14M394.97 418.9L411.56 436.13M382.02 416.05L386 420.54M388.91 417.91A184 184 0 0 1 383.04 423.1M388.91 417.91L393.97 423.39M395.37 422.08A191.46 191.46 0 0 1 392.56 424.68M395.37 422.08L402.01 429.12M402.5 428.65A201.13 201.13 0 0 1 401.52 429.58M402.5 428.65L410.53 437.11M401.52 429.58L409.5 438.09M392.56 424.68L397.03 429.62M398 428.72A198.12 198.12 0 0 1 396.04 430.5M398 428.72L403.87 435.12M404.38 434.65A206.8 206.8 0 0 1 403.37 435.58M404.38 434.65L408.46 439.06M403.37 435.58L407.41 440.02M396.04 430.5L399.56 434.43M400.06 433.98A203.39 203.39 0 0 1 399.05 434.89M400.06 433.98L406.36 440.97M399.05 434.89L405.3 441.92M383.04 423.1L390.9 432.37M392.02 431.41A196.15 196.15 0 0 1 389.77 433.32M392.02 431.41L395.3 435.21M396.06 434.55A201.16 201.16 0 0 1 394.53 435.87M396.06 434.55L398.93 437.85M399.44 437.4A205.54 205.54 0 0 1 398.41 438.3M399.44 437.4L404.23 442.86M398.41 438.3L403.16 443.79M394.53 435.87L402.08 444.72M389.77 433.32L394.96 439.53M395.49 439.09A204.24 204.24 0 0 1 394.44 439.96M395.49 439.09L401 445.64M394.44 439.96L399.91 446.55"/>
<path stroke="#f9d980" d="M309.66 341.03L356.56 400.84M359.04 398.85A150 150 0 0 1 355.82 401.41M359.04 398.85L398.83 447.44M355.82 401.41L359.73 406.47M362.31 404.43A156.39 156.39 0 0 1 357.11 408.45M362.31 404.43L397.77 448.3M357.11 408.45L360.94 413.62M365.53 410.09A162.82 162.82 0 0 1 356.22 416.98M365.53 410.09L396.7 449.16M356.22 416.98L358.79 420.72M360.5 419.52A167.35 167.35 0 0 1 357.06 421.89M360.5 419.52L363.34 423.53M365.93 421.67A172.26 172.26 0 0 1 360.71 425.35M365.93 421.67L369.93 427.11M372.51 425.18A179.02 179.02 0 0 1 367.31 429M372.51 425.18L380.17 435.23M381.7 434.06A191.65 191.65 0 0 1 378.63 436.39M381.7 434.06L385.61 439.09M386.49 438.4A198.03 198.03 0 0 1 384.73 439.77M386.49 438.4L395.62 450.01M384.73 439.77L385.95 441.36M386.71 440.77A200.03 200.03 0 0 1 385.18 441.94M386.71 440.77L394.55 450.85M385.18 441.94L386.39 443.54M386.91 443.14A202.03 202.03 0 0 1 385.87 443.93M386.91 443.14L393.46 451.69M385.87 443.93L392.37 452.52M378.63 436.39L391.28 453.34M367.31 429L374.93 439.77M376.91 438.35A192.21 192.21 0 0 1 372.93 441.16M376.91 438.35L381.59 444.8M382.69 443.99A200.17 200.17 0 0 1 380.48 445.6M382.69 443.99L390.18 454.16M380.48 445.6L382.76 448.79M383.96 447.93A204.1 204.1 0 0 1 381.55 449.65M383.96 447.93L389.07 454.97M381.55 449.65L382.94 451.61M383.75 451.03A206.5 206.5 0 0 1 382.12 452.18M383.75 451.03L385.14 452.99M385.69 452.6A208.9 208.9 0 0 1 384.59 453.38M385.69 452.6L387.96 455.77M384.59 453.38L386.84 456.56M382.12 452.18L385.72 457.35M372.93 441.16L384.6 458.13M360.71 425.35L383.47 458.9M357.06 421.89L382.33 459.67"/>
<path stroke="#c6c0e6" d="M305.68 351.08L333.29 396.32M337.22 393.83A133 133 0 0 1 333.29 396.32M337.22 393.83L381.16 460.45M334.87 395.34L337.76 399.93M339.02 399.13A138.42 138.42 0 0 1 336.5 400.71M339.02 399.13L373.57 452.71M374.15 452.34A202.18 202.18 0 0 1 372.99 453.09M374.15 452.34L379.94 461.24M372.99 453.09L378.72 462.03M336.5 400.71L339.33 405.33M340.71 404.47A143.83 143.83 0 0 1 337.95 406.17M340.71 404.47L377.49 462.81M337.95 406.17L340.74 410.81M342.3 409.86A149.25 149.25 0 0 1 339.17 411.74M342.3 409.86L369.44 453.9M370.02 453.54A200.98 200.98 0 0 1 368.85 454.26M370.02 453.54L376.25 463.58M368.85 454.26L375.02 464.35M339.17 411.74L341.89 416.42M343.33 415.57A154.67 154.67 0 0 1 340.45 417.25M343.33 415.57L367.79 456.51M368.38 456.15A202.36 202.36 0 0 1 367.2 456.86M368.38 456.15L373.77 465.1M367.2 456.86L372.52 465.85M340.45 417.25L343.13 421.96M344.7 421.06A160.08 160.08 0 0 1 341.55 422.85M344.7 421.06L371.27 466.59M341.55 422.85L344.17 427.59M345.96 426.58A165.5 165.5 0 0 1 342.37 428.57M345.96 426.58L361.49 453.83M362.07 453.49A196.86 196.86 0 0 1 360.9 454.16M362.07 453.49L370.01 467.31M360.9 454.16L368.75 468.03M342.37 428.57L344.93 433.34M346.6 432.43A170.92 170.92 0 0 1 343.26 434.23M346.6 432.43L362.6 461.42M363.21 461.08A204.03 204.03 0 0 1 361.99 461.75M363.21 461.08L367.48 468.75M361.99 461.75L366.21 469.45M343.26 434.23L345.77 439.03M347.63 438.04A176.33 176.33 0 0 1 343.89 440M347.63 438.04L364.93 470.14M343.89 440L346.35 444.82M348.56 443.68A181.75 181.75 0 0 1 344.13 445.94M348.56 443.68L357.53 460.75M358.13 460.43A201.03 201.03 0 0 1 356.92 461.07M358.13 460.43L363.64 470.83M356.92 461.07L362.36 471.51M344.13 445.94L346.51 450.8M348.8 449.65A187.17 187.17 0 0 1 344.21 451.91M348.8 449.65L354.55 460.96M355.16 460.65A199.86 199.86 0 0 1 353.94 461.27M355.16 460.65L361.06 472.17M353.94 461.27L359.77 472.83M344.21 451.91L346.53 456.8M348.01 456.09A192.58 192.58 0 0 1 345.04 457.5M348.01 456.09L351.96 464.23M352.89 463.78A201.63 201.63 0 0 1 351.03 464.68M352.89 463.78L355.46 469.01M356.1 468.7A207.46 207.46 0 0 1 354.82 469.33M356.1 468.7L358.47 473.48M354.82 469.33L357.16 474.12M351.03 464.68L355.85 474.76M345.04 457.5L348.58 465.14M349.52 464.7A201 201 0 0 1 347.65 465.57M349.52 464.7L354.54 475.38M347.65 465.57L349.84 470.35M350.48 470.06A206.26 206.26 0 0 1 349.19 470.64M350.48 470.06L353.22 475.99M349.19 470.64L351.89 476.6"/>
<path stroke="#f2bfc1" d="M292.28 357.64L292.28 357.64M294.64 356.7A80 80 0 0 1 276.08 361.88M294.64 356.7L318.93 415.29M321.92 414.01A143.42 143.42 0 0 1 315.91 416.5M321.92 414.01L345.51 467.43M346.12 467.16A201.82 201.82 0 0 1 344.9 467.7M346.12 467.16L350.59 477.19M344.9 467.7L349.3 477.76M315.91 416.5L317.53 420.69M319.27 420A147.92 147.92 0 0 1 315.79 421.36M319.27 420L321.68 425.97M323.16 425.37A154.35 154.35 0 0 1 320.19 426.56M323.16 425.37L325.16 430.18M326.5 429.61A159.56 159.56 0 0 1 323.81 430.73M326.5 429.61L342.1 466.27M342.71 466.01A199.4 199.4 0 0 1 341.49 466.53M342.71 466.01L348 478.32M341.49 466.53L346.7 478.87M323.81 430.73L339.04 468.4M339.96 468.03A200.2 200.2 0 0 1 338.12 468.77M339.96 468.03L340.72 469.88M341.34 469.62A202.2 202.2 0 0 1 340.1 470.13M341.34 469.62L345.4 479.42M340.1 470.13L344.09 479.95M338.12 468.77L342.78 480.48M320.19 426.56L341.47 481M315.79 421.36L332.92 467.19M333.83 466.84A196.85 196.85 0 0 1 332 467.53M333.83 466.84L335.34 470.81M335.96 470.58A201.09 201.09 0 0 1 334.71 471.05M335.96 470.58L340.15 481.51M334.71 471.05L338.83 482.01M332 467.53L337.51 482.5M276.08 361.88L276.69 365.84M290.04 362.66A84 84 0 0 1 262.99 366.79M290.04 362.66L298.9 389.84M301.13 389.08A112.58 112.58 0 0 1 296.66 390.54M301.13 389.08L326.33 461.2M327.51 460.78A188.97 188.97 0 0 1 325.14 461.61M327.51 460.78L332.5 474.75M333.13 474.53A203.81 203.81 0 0 1 331.86 474.98M333.13 474.53L336.18 482.98M331.86 474.98L334.85 483.46M325.14 461.61L331.15 479.19M331.81 478.97A207.56 207.56 0 0 1 330.5 479.41M331.81 478.97L333.52 483.92M330.5 479.41L332.18 484.38M296.66 390.54L298.08 395.22M300.53 394.45A117.47 117.47 0 0 1 295.61 395.94M300.53 394.45L327.37 476.49M328.01 476.28A203.79 203.79 0 0 1 326.73 476.7M328.01 476.28L330.84 484.83M326.73 476.7L329.5 485.27M295.61 395.94L296.95 400.72M298.05 400.41A122.44 122.44 0 0 1 295.85 401.02M298.05 400.41L299.9 406.8M300.97 406.48A129.09 129.09 0 0 1 298.81 407.1M300.97 406.48L302.33 411.01M303.29 410.72A133.82 133.82 0 0 1 301.37 411.3M303.29 410.72L322.75 474.12M323.71 473.83A200.14 200.14 0 0 1 321.8 474.41M323.71 473.83L324.3 475.73M324.94 475.53A202.14 202.14 0 0 1 323.66 475.93M324.94 475.53L328.16 485.7M323.66 475.93L326.81 486.12M321.8 474.41L325.46 486.53M301.37 411.3L321.74 481.34M322.4 481.15A206.77 206.77 0 0 1 321.08 481.53M322.4 481.15L324.11 486.94M321.08 481.53L322.75 487.33M298.81 407.1L321.39 487.71M295.85 401.02L316.58 478.01M317.23 477.83A202.17 202.17 0 0 1 315.94 478.18M317.23 477.83L320.03 488.09M315.94 478.18L318.67 488.46M262.99 366.79L262.93 371.79M279.73 370.4A89 89 0 0 1 246.18 370M279.73 370.4L286.56 408.41M291.07 407.52A127.62 127.62 0 0 1 282.01 409.14M291.07 407.52L292.5 414.06M296.02 413.25A134.32 134.32 0 0 1 288.95 414.78M296.02 413.25L306.16 454.55M308.3 454.01A176.85 176.85 0 0 1 304.02 455.06M308.3 454.01L317.3 488.82M304.02 455.06L305.31 460.6M307.08 460.18A182.53 182.53 0 0 1 303.54 461M307.08 460.18L311.61 478.85M312.59 478.61A201.74 201.74 0 0 1 310.63 479.08M312.59 478.61L313.07 480.55M313.72 480.38A203.74 203.74 0 0 1 312.41 480.71M313.72 480.38L315.93 489.17M312.41 480.71L314.56 489.51M310.63 479.08L313.19 489.84M303.54 461L307.45 478.64M308.43 478.42A200.6 200.6 0 0 1 306.48 478.85M308.43 478.42L308.87 480.37M309.52 480.22A202.6 202.6 0 0 1 308.21 480.52M309.52 480.22L311.82 490.16M308.21 480.52L310.44 490.47M306.48 478.85L309.06 490.77M288.95 414.78L289.92 419.95M291.29 419.69A139.58 139.58 0 0 1 288.56 420.2M291.29 419.69L292.27 424.6M293.21 424.4A144.59 144.59 0 0 1 291.33 424.78M293.21 424.4L304.44 478.85M305.09 478.71A200.18 200.18 0 0 1 303.79 478.98M305.09 478.71L307.68 491.07M303.79 478.98L306.3 491.35M291.33 424.78L303.01 485.49M303.68 485.36A206.41 206.41 0 0 1 302.34 485.62M303.68 485.36L304.91 491.63M302.34 485.62L303.52 491.9M288.56 420.2L300.19 485.27M300.86 485.15A205.68 205.68 0 0 1 299.52 485.39M300.86 485.15L302.14 492.15M299.52 485.39L300.75 492.4M282.01 409.14L282.69 413.9M284.38 413.65A132.43 132.43 0 0 1 281 414.13M284.38 413.65L285.22 419.09M286.46 418.89A137.93 137.93 0 0 1 283.98 419.28M286.46 418.89L297.53 485.93M298.2 485.81A205.87 205.87 0 0 1 296.86 486.04M298.2 485.81L299.35 492.64M296.86 486.04L297.96 492.87M283.98 419.28L292.69 478.8M293.67 478.65A198.09 198.09 0 0 1 291.71 478.94M293.67 478.65L294.61 484.88M295.28 484.78A204.38 204.38 0 0 1 293.94 484.98M295.28 484.78L296.57 493.09M293.94 484.98L295.17 493.3M291.71 478.94L293.77 493.51M281 414.13L288.94 475.44M289.9 475.32A194.25 194.25 0 0 1 287.98 475.56M289.9 475.32L292.37 493.7M287.98 475.56L289.5 487.76M290.18 487.67A206.54 206.54 0 0 1 288.82 487.84M290.18 487.67L290.97 493.88M288.82 487.84L289.57 494.06M246.18 370L244.97 375.88M268.05 377.71A95 95 0 0 1 223.03 368.51M268.05 377.71L270.02 423.73M275.28 423.4A141.05 141.05 0 0 1 264.75 423.85M275.28 423.4L275.64 427.93M277.47 427.77A145.59 145.59 0 0 1 273.8 428.06M277.47 427.77L277.85 431.81M279.89 431.6A149.65 149.65 0 0 1 275.81 431.98M279.89 431.6L280.45 436.88M281.6 436.75A154.95 154.95 0 0 1 279.3 436.99M281.6 436.75L288.17 494.22M279.3 436.99L283.94 483.8M284.94 483.7A201.99 201.99 0 0 1 282.94 483.9M284.94 483.7L285.38 487.91M286.06 487.84A206.22 206.22 0 0 1 284.7 487.98M286.06 487.84L286.77 494.38M284.7 487.98L285.36 494.52M282.94 483.9L283.96 494.66M275.81 431.98L279.56 479.4M280.54 479.32A197.21 197.21 0 0 1 278.58 479.47M280.54 479.32L280.87 483.2M281.53 483.14A201.11 201.11 0 0 1 280.2 483.26M281.53 483.14L282.55 494.79M280.2 483.26L281.14 494.91M278.58 479.47L279.74 495.02M273.8 428.06L278.33 495.12M264.75 423.85L264.77 428.29M271.27 428.11A145.49 145.49 0 0 1 258.27 428.18M271.27 428.11L271.47 432.23M272.59 432.17A149.62 149.62 0 0 1 270.36 432.29M272.59 432.17L275.65 485.51M276.33 485.47A203.04 203.04 0 0 1 274.98 485.55M276.33 485.47L276.92 495.21M274.98 485.55L275.51 495.29M270.36 432.29L272.56 484.17M273.57 484.13A201.55 201.55 0 0 1 271.56 484.21M273.57 484.13L274.1 495.36M271.56 484.21L271.75 489.27M272.44 489.25A206.62 206.62 0 0 1 271.07 489.3M272.44 489.25L272.69 495.42M271.07 489.3L271.28 495.48M258.27 428.18L258.09 432.69M261.11 432.78A150.01 150.01 0 0 1 255.08 432.54M261.11 432.78L261.02 437.26M263.52 437.29A154.49 154.49 0 0 1 258.52 437.19M263.52 437.29L263.5 443.78M266.57 443.76A160.98 160.98 0 0 1 260.43 443.74M266.57 443.76L266.64 447.94M268.55 447.9A165.16 165.16 0 0 1 264.72 447.96M268.55 447.9L269.87 495.52M264.72 447.96L264.74 453.06M266.72 453.04A170.26 170.26 0 0 1 262.76 453.05M266.72 453.04L267.15 480.23M268.13 480.21A197.45 197.45 0 0 1 266.17 480.24M268.13 480.21L268.46 495.55M266.17 480.24L266.25 487.57M266.93 487.56A204.78 204.78 0 0 1 265.57 487.57M266.93 487.56L267.04 495.58M265.57 487.57L265.63 495.59M262.76 453.05L262.59 477.4M263.56 477.4A194.6 194.6 0 0 1 261.62 477.39M263.56 477.4L263.53 487.6M264.21 487.6A204.8 204.8 0 0 1 262.85 487.59M264.21 487.6L264.22 495.6M262.85 487.59L262.81 495.6M261.62 477.39L261.4 495.58M260.43 443.74L259.42 489.37M260.1 489.39A206.62 206.62 0 0 1 258.73 489.36M260.1 489.39L259.98 495.56M258.73 489.36L258.57 495.53M258.52 437.19L256.87 483.75M257.54 483.77A201.08 201.08 0 0 1 256.2 483.73M257.54 483.77L257.16 495.49M256.2 483.73L255.75 495.44M255.08 432.54L254.77 437.71M255.67 437.76A155.19 155.19 0 0 1 253.87 437.66M255.67 437.76L253.19 483.92M254.19 483.98A201.41 201.41 0 0 1 252.19 483.87M254.19 483.98L253.85 490.89M254.54 490.92A208.33 208.33 0 0 1 253.16 490.85M254.54 490.92L254.34 495.38M253.16 490.85L252.93 495.31M252.19 483.87L251.52 495.23M253.87 437.66L250.11 495.15M223.03 368.51L220.44 373.92M243.09 381.61A101 101 0 0 1 200.23 361.12M243.09 381.61L236.65 412.08M244.83 413.55A132.14 132.14 0 0 1 228.57 410.11M244.83 413.55L244.04 418.95M250.56 419.75A137.61 137.61 0 0 1 237.56 417.85M250.56 419.75L250.02 425.27M253.71 425.58A143.15 143.15 0 0 1 246.34 424.86M253.71 425.58L248.7 495.05M246.34 424.86L245.77 429.45M247.43 429.64A147.78 147.78 0 0 1 244.11 429.23M247.43 429.64L246.82 435.05M248.24 435.2A153.21 153.21 0 0 1 245.4 434.88M248.24 435.2L247.67 440.72M249.04 440.86A158.76 158.76 0 0 1 246.29 440.57M249.04 440.86L248.58 445.78M249.79 445.89A163.71 163.71 0 0 1 247.36 445.66M249.79 445.89L246.56 483.07M247.55 483.15A201.03 201.03 0 0 1 245.56 482.98M247.55 483.15L247.39 485.14M248.06 485.2A203.03 203.03 0 0 1 246.72 485.09M248.06 485.2L247.29 494.94M246.72 485.09L245.89 494.83M245.56 482.98L244.48 494.7M247.36 445.66L243.28 485.61M243.95 485.68A203.87 203.87 0 0 1 242.61 485.54M243.95 485.68L243.07 494.57M242.61 485.54L241.67 494.43M246.29 440.57L240.27 494.27M245.4 434.88L239.19 485.61M239.86 485.69A204.32 204.32 0 0 1 238.52 485.53M239.86 485.69L238.86 494.11M238.52 485.53L237.46 493.94M244.11 429.23L236.13 488.01M236.81 488.1A207.09 207.09 0 0 1 235.45 487.91M236.81 488.1L236.06 493.76M235.45 487.91L234.66 493.57M237.56 417.85L236.44 423.57M241.17 424.41A143.44 143.44 0 0 1 231.74 422.57M241.17 424.41L240.12 430.88M241.84 431.14A149.99 149.99 0 0 1 238.41 430.59M241.84 431.14L234 483.64M234.67 483.74A203.07 203.07 0 0 1 233.34 483.54M234.67 483.74L233.26 493.37M233.34 483.54L231.87 493.16M238.41 430.59L231.88 468.28M233.73 468.59A188.24 188.24 0 0 1 230.03 467.95M233.73 468.59L231.57 481.83M232.23 481.94A201.66 201.66 0 0 1 230.91 481.73M232.23 481.94L230.47 492.94M230.91 481.73L229.08 492.72M230.03 467.95L227.52 481.63M228.84 481.87A202.15 202.15 0 0 1 226.21 481.39M228.84 481.87L228.42 484.26M229.09 484.38A204.58 204.58 0 0 1 227.75 484.14M229.09 484.38L227.69 492.48M227.75 484.14L226.3 492.23M226.21 481.39L225.83 483.35M226.5 483.48A204.15 204.15 0 0 1 225.17 483.22M226.5 483.48L224.91 491.98M225.17 483.22L223.52 491.71M231.74 422.57L230.31 428.76M232.4 429.22A149.79 149.79 0 0 1 228.23 428.26M232.4 429.22L231.05 435.48M232.76 435.84A156.19 156.19 0 0 1 229.35 435.1M232.76 435.84L223.09 483.22M223.76 483.36A204.56 204.56 0 0 1 222.43 483.09M223.76 483.36L222.14 491.44M222.43 483.09L220.75 491.16M229.35 435.1L227.84 441.72M229.03 441.99A162.98 162.98 0 0 1 226.65 441.45M229.03 441.99L221.24 477.41M222.21 477.62A199.25 199.25 0 0 1 220.28 477.19M222.21 477.62L219.37 490.87M220.28 477.19L219.84 479.14M220.49 479.29A201.25 201.25 0 0 1 219.19 479M220.49 479.29L217.99 490.57M219.19 479L216.61 490.26M226.65 441.45L215.24 489.94M228.23 428.26L215.72 479.1M216.37 479.26A202.15 202.15 0 0 1 215.07 478.94M216.37 479.26L213.86 489.61M215.07 478.94L212.49 489.27M228.57 410.11L226.93 416.02M228.53 416.45A138.28 138.28 0 0 1 225.33 415.56M228.53 416.45L213.28 473.94M214.23 474.19A197.76 197.76 0 0 1 212.33 473.68M214.23 474.19L213.64 476.46M214.28 476.62A200.1 200.1 0 0 1 213 476.29M214.28 476.62L211.12 488.93M213 476.29L209.76 488.57M212.33 473.68L208.39 488.21M225.33 415.56L223.99 420.14M225.25 420.5A143.05 143.05 0 0 1 222.74 419.77M225.25 420.5L208.68 479.36M209.33 479.55A204.2 204.2 0 0 1 208.03 479.18M209.33 479.55L207.03 487.83M208.03 479.18L205.67 487.45M222.74 419.77L207.9 469.04M208.83 469.32A194.51 194.51 0 0 1 206.97 468.76M208.83 469.32L206.92 475.76M207.56 475.95A201.22 201.22 0 0 1 206.28 475.57M207.56 475.95L204.32 487.06M206.28 475.57L202.96 486.66M206.97 468.76L201.61 486.25M200.23 361.12L195.81 366.55M221.84 382.23A108 108 0 0 1 175.18 344.24M221.84 382.23L211.38 406.89M219.39 409.99A134.79 134.79 0 0 1 203.58 403.29M219.39 409.99L217.74 414.68M220.54 415.63A139.76 139.76 0 0 1 214.96 413.68M220.54 415.63L218.82 420.9M220.02 421.29A145.3 145.3 0 0 1 217.61 420.5M220.02 421.29L201.05 481.02M201.71 481.23A207.98 207.98 0 0 1 200.39 480.81M201.71 481.23L200.26 485.83M200.39 480.81L198.92 485.4M217.61 420.5L211.77 437.85M212.93 438.23A163.61 163.61 0 0 1 210.61 437.45M212.93 438.23L197.57 484.97M210.61 437.45L198.13 473.62M199.08 473.95A201.87 201.87 0 0 1 197.18 473.29M199.08 473.95L198.44 475.84M199.08 476.06A203.87 203.87 0 0 1 197.8 475.63M199.08 476.06L196.23 484.52M197.8 475.63L194.9 484.07M197.18 473.29L193.56 483.6M214.96 413.68L213.39 417.88M214.9 418.44A144.25 144.25 0 0 1 211.88 417.3M214.9 418.44L196.04 470.55M196.66 470.78A199.68 199.68 0 0 1 195.41 470.33M196.66 470.78L192.23 483.13M195.41 470.33L190.9 482.65M211.88 417.3L203.87 437.96M205.81 438.69A166.4 166.4 0 0 1 201.95 437.2M205.81 438.69L189.58 482.16M201.95 437.2L199.56 443.12M201.97 444.07A172.79 172.79 0 0 1 197.18 442.14M201.97 444.07L191.44 471.42M192.07 471.66A202.09 202.09 0 0 1 190.82 471.18M192.07 471.66L188.26 481.66M190.82 471.18L186.94 481.16M197.18 442.14L194.8 447.81M196.45 448.49A178.94 178.94 0 0 1 193.16 447.12M196.45 448.49L194.56 453.12M195.69 453.58A183.94 183.94 0 0 1 193.43 452.66M195.69 453.58L189.67 468.65M190.28 468.89A200.16 200.16 0 0 1 189.05 468.4M190.28 468.89L185.63 480.64M189.05 468.4L184.32 480.12M193.43 452.66L186.43 469.52M187.05 469.77A202.19 202.19 0 0 1 185.81 469.26M187.05 469.77L183.01 479.58M185.81 469.26L181.7 479.04M193.16 447.12L183.99 468.38M184.61 468.65A202.09 202.09 0 0 1 183.38 468.12M184.61 468.65L180.4 478.49M183.38 468.12L179.11 477.93M203.58 403.29L200.67 409.09M203.03 410.25A141.28 141.28 0 0 1 198.34 407.9M203.03 410.25L201.14 414.19M202.53 414.85A145.66 145.66 0 0 1 199.75 413.52M202.53 414.85L200 420.3M201.54 421.01A151.66 151.66 0 0 1 198.46 419.57M201.54 421.01L199.67 425.16M200.73 425.63A156.22 156.22 0 0 1 198.61 424.67M200.73 425.63L177.81 477.37M198.61 424.67L179.63 465.84M180.54 466.26A201.55 201.55 0 0 1 178.72 465.42M180.54 466.26L179.71 468.08M180.33 468.35A203.55 203.55 0 0 1 179.1 467.8M180.33 468.35L176.53 476.79M179.1 467.8L175.24 476.21M178.72 465.42L173.96 475.61M198.46 419.57L176.29 465.84M176.9 466.13A202.96 202.96 0 0 1 175.69 465.54M176.9 466.13L172.68 475.01M175.69 465.54L171.41 474.4M199.75 413.52L170.14 473.78M198.34 407.9L195.6 413.12M197.56 414.12A147.17 147.17 0 0 1 193.66 412.08M197.56 414.12L175.13 458.45M176 458.89A196.85 196.85 0 0 1 174.26 458M176 458.89L168.87 473.15M174.26 458L170.11 466.09M170.72 466.4A205.94 205.94 0 0 1 169.5 465.78M170.72 466.4L167.61 472.52M169.5 465.78L166.36 471.88M193.66 412.08L191.58 415.91M193.13 416.74A151.53 151.53 0 0 1 190.04 415.06M193.13 416.74L167.47 465.24M168.08 465.56A206.41 206.41 0 0 1 166.87 464.92M168.08 465.56L165.1 471.22M166.87 464.92L163.86 470.56M190.04 415.06L186.64 421.15M188.02 421.91A158.51 158.51 0 0 1 185.26 420.37M188.02 421.91L165.32 463.47M165.92 463.79A205.86 205.86 0 0 1 164.72 463.14M165.92 463.79L162.61 469.89M164.72 463.14L161.37 469.22M185.26 420.37L171.54 444.34M172.62 444.95A186.13 186.13 0 0 1 170.47 443.73M172.62 444.95L163.55 461.05M164.14 461.38A204.6 204.6 0 0 1 162.96 460.71M164.14 461.38L160.14 468.53M162.96 460.71L158.91 467.84M170.47 443.73L162.69 457.12M163.27 457.46A201.62 201.62 0 0 1 162.11 456.78M163.27 457.46L157.68 467.14M162.11 456.78L156.46 466.43M175.18 344.24L169.42 348.22M187.57 368.72A115 115 0 0 1 156.64 324.01M187.57 368.72L153.01 407.58M160.65 413.98A167 167 0 0 1 145.76 400.74M160.65 413.98L157.34 418.18M165.42 424.18A172.35 172.35 0 0 1 149.61 411.72M165.42 424.18L163.02 427.62M166.46 429.96A176.55 176.55 0 0 1 159.64 425.21M166.46 429.96L163.26 434.78M165.67 436.35A182.33 182.33 0 0 1 160.88 433.17M165.67 436.35L163.17 440.26M165.53 441.74A186.98 186.98 0 0 1 160.83 438.73M165.53 441.74L163.35 445.26M164.97 446.26A191.12 191.12 0 0 1 161.74 444.25M164.97 446.26L158.7 456.6M159.57 457.12A203.21 203.21 0 0 1 157.84 456.07M159.57 457.12L158.39 459.09M158.97 459.44A205.51 205.51 0 0 1 157.8 458.74M158.97 459.44L155.25 465.71M157.8 458.74L154.03 464.99M157.84 456.07L152.83 464.25M161.74 444.25L155.62 453.9M156.48 454.44A202.54 202.54 0 0 1 154.77 453.36M156.48 454.44L153.49 459.21M154.07 459.58A208.17 208.17 0 0 1 152.9 458.84M154.07 459.58L151.63 463.51M152.9 458.84L150.43 462.76M154.77 453.36L149.24 462M160.83 438.73L151.5 452.83M152.34 453.39A203.88 203.88 0 0 1 150.65 452.27M152.34 453.39L151.25 455.06M151.82 455.44A205.88 205.88 0 0 1 150.68 454.69M151.82 455.44L148.05 461.24M150.68 454.69L146.87 460.46M150.65 452.27L145.69 459.68M160.88 433.17L153.15 444.45M153.95 445A196.01 196.01 0 0 1 152.34 443.9M153.95 445L144.52 458.89M152.34 443.9L145.88 453.22M146.45 453.61A207.35 207.35 0 0 1 145.32 452.83M146.45 453.61L143.36 458.1M145.32 452.83L142.2 457.29M159.64 425.21L152.38 435.11M154.38 436.56A188.83 188.83 0 0 1 150.4 433.64M154.38 436.56L145.12 449.54M145.68 449.94A204.78 204.78 0 0 1 144.57 449.15M145.68 449.94L141.04 456.48M144.57 449.15L139.89 455.66M150.4 433.64L146.3 439.08M148.32 440.58A195.65 195.65 0 0 1 144.3 437.56M148.32 440.58L144.97 445.15M145.51 445.54A201.31 201.31 0 0 1 144.43 444.75M145.51 445.54L138.75 454.83M144.43 444.75L137.61 454M144.3 437.56L140.6 442.35M142.59 443.87A201.7 201.7 0 0 1 138.62 440.8M142.59 443.87L140.3 446.91M140.85 447.32A205.5 205.5 0 0 1 139.76 446.5M140.85 447.32L136.48 453.16M139.76 446.5L135.35 452.31M138.62 440.8L137.13 442.68M138.73 443.93A204.1 204.1 0 0 1 135.55 441.41M138.73 443.93L137.26 445.83M138.07 446.46A206.5 206.5 0 0 1 136.45 445.2M138.07 446.46L134.23 451.45M136.45 445.2L135.43 446.49M135.97 446.92A208.15 208.15 0 0 1 134.88 446.07M135.97 446.92L133.11 450.59M134.88 446.07L132 449.71M135.55 441.41L134.04 443.27M134.84 443.92A206.5 206.5 0 0 1 133.24 442.62M134.84 443.92L130.9 448.83M133.24 442.62L132.3 443.78M132.83 444.21A207.99 207.99 0 0 1 131.76 443.34M132.83 444.21L129.8 447.95M131.76 443.34L128.7 447.05M149.61 411.72L146.08 415.7M148.28 417.61A177.67 177.67 0 0 1 143.92 413.75M148.28 417.61L144.84 421.61M146.29 422.84A182.94 182.94 0 0 1 143.41 420.37M146.29 422.84L135.97 435.12M136.48 435.54A198.98 198.98 0 0 1 135.47 434.69M136.48 435.54L127.62 446.15M135.47 434.69L126.54 445.24M143.41 420.37L139.31 425.05M140.38 425.97A189.16 189.16 0 0 1 138.25 424.11M140.38 425.97L131.04 436.79M131.55 437.23A203.45 203.45 0 0 1 130.53 436.35M131.55 437.23L125.46 444.33M130.53 436.35L124.39 443.4M138.25 424.11L132.86 430.17M133.6 430.82A197.27 197.27 0 0 1 132.13 429.52M133.6 430.82L123.33 442.47M132.13 429.52L127.27 434.93M127.77 435.38A204.54 204.54 0 0 1 126.76 434.47M127.77 435.38L122.27 441.54M126.76 434.47L121.22 440.59M143.92 413.75L120.18 439.64M145.76 400.74L142.84 403.65M145.09 405.87A171.13 171.13 0 0 1 140.63 401.39M145.09 405.87L141.21 409.88M143.06 411.65A176.71 176.71 0 0 1 139.38 408.09M143.06 411.65L125.92 429.92M126.65 430.6A201.77 201.77 0 0 1 125.19 429.23M126.65 430.6L119.14 438.69M125.19 429.23L120.73 433.93M121.23 434.41A208.25 208.25 0 0 1 120.23 433.46M121.23 434.41L118.11 437.72M120.23 433.46L117.09 436.75M139.38 408.09L135.42 412.06M136.6 413.23A182.33 182.33 0 0 1 134.24 410.89M136.6 413.23L122.43 427.74M123.15 428.45A202.61 202.61 0 0 1 121.71 427.04M123.15 428.45L116.07 435.77M121.71 427.04L119.51 429.26M120 429.74A205.74 205.74 0 0 1 119.03 428.78M120 429.74L115.06 434.79M119.03 428.78L114.05 433.79M134.24 410.89L119.38 425.56M119.85 426.04A203.21 203.21 0 0 1 118.91 425.08M119.85 426.04L113.05 432.8M118.91 425.08L112.06 431.79M140.63 401.39L119.15 422.04M119.61 422.52A200.92 200.92 0 0 1 118.69 421.56M119.61 422.52L111.08 430.78M118.69 421.56L110.1 429.76M156.64 324.01L150.1 326.52M163.58 352.09A122 122 0 0 1 143.01 298.5M163.58 352.09L145.69 364.43M151.39 372.13A143.74 143.74 0 0 1 140.51 356.37M151.39 372.13L146.82 375.76M152.32 382.3A149.58 149.58 0 0 1 141.7 368.92M152.32 382.3L149.03 385.23M151.41 387.84A153.98 153.98 0 0 1 146.71 382.56M151.41 387.84L114.16 422.59M114.86 423.33A204.92 204.92 0 0 1 113.47 421.84M114.86 423.33L109.13 428.74M113.47 421.84L112 423.2M112.47 423.7A206.92 206.92 0 0 1 111.53 422.7M112.47 423.7L108.16 427.71M111.53 422.7L107.2 426.67M146.71 382.56L143.39 385.38M145.75 388.09A158.33 158.33 0 0 1 141.09 382.61M145.75 388.09L115.63 414.92M116.28 415.65A198.67 198.67 0 0 1 114.97 414.18M116.28 415.65L110.99 420.42M111.44 420.92A205.79 205.79 0 0 1 110.53 419.91M111.44 420.92L106.25 425.63M110.53 419.91L105.31 424.58M114.97 414.18L104.37 423.52M141.09 382.61L137.46 385.56M140.13 388.76A163.01 163.01 0 0 1 134.88 382.3M140.13 388.76L110.25 414.31M110.91 415.07A202.32 202.32 0 0 1 109.6 413.54M110.91 415.07L108.12 417.48M108.57 418A206 206 0 0 1 107.68 416.96M108.57 418L103.44 422.46M107.68 416.96L102.52 421.39M109.6 413.54L101.6 420.31M134.88 382.3L130.84 385.42M132.09 387.01A168.11 168.11 0 0 1 129.62 383.81M132.09 387.01L127.57 390.58M128.56 391.82A173.86 173.86 0 0 1 126.6 389.33M128.56 391.82L124.82 394.83M125.75 395.98A178.67 178.67 0 0 1 123.9 393.67M125.75 395.98L122.63 398.54M123.4 399.47A182.7 182.7 0 0 1 121.86 397.6M123.4 399.47L104.59 415.09M105.03 415.61A207.15 207.15 0 0 1 104.15 414.56M105.03 415.61L100.69 419.23M104.15 414.56L99.79 418.15M121.86 397.6L105.98 410.42M106.41 410.95A203.12 203.12 0 0 1 105.56 409.9M106.41 410.95L98.9 417.06M105.56 409.9L98.01 415.96M123.9 393.67L97.13 414.85M126.6 389.33L103.15 407.51M103.56 408.04A203.53 203.53 0 0 1 102.74 406.97M103.56 408.04L96.26 413.74M102.74 406.97L95.39 412.63M129.62 383.81L100.86 405.43M101.47 406.24A204.09 204.09 0 0 1 100.25 404.61M101.47 406.24L94.53 411.5M100.25 404.61L98.64 405.81M99.05 406.36A206.09 206.09 0 0 1 98.24 405.26M99.05 406.36L93.68 410.38M98.24 405.26L92.84 409.24M141.7 368.92L116.77 386.48M118.45 388.84A180.08 180.08 0 0 1 115.12 384.1M118.45 388.84L92.01 408.11M115.12 384.1L111.3 386.71M113.37 389.7A184.7 184.7 0 0 1 109.28 383.68M113.37 389.7L110.07 392.04M110.71 392.93A188.75 188.75 0 0 1 109.44 391.14M110.71 392.93L91.18 406.96M109.44 391.14L99.06 398.42M99.64 399.24A201.43 201.43 0 0 1 98.49 397.6M99.64 399.24L90.36 405.81M98.49 397.6L96.84 398.74M97.23 399.29A203.43 203.43 0 0 1 96.46 398.18M97.23 399.29L89.55 404.66M96.46 398.18L88.74 403.5M109.28 383.68L103.73 387.3M104.91 389.08A191.32 191.32 0 0 1 102.57 385.49M104.91 389.08L101.2 391.56M102.02 392.78A195.79 195.79 0 0 1 100.39 390.35M102.02 392.78L87.94 402.33M100.39 390.35L93.05 395.17M93.61 396.02A204.57 204.57 0 0 1 92.5 394.32M93.61 396.02L91.95 397.13M92.33 397.7A206.57 206.57 0 0 1 91.57 396.56M92.33 397.7L87.15 401.16M91.57 396.56L86.37 399.99M92.5 394.32L85.6 398.8M102.57 385.49L89.61 393.74M89.98 394.32A206.68 206.68 0 0 1 89.25 393.16M89.98 394.32L84.83 397.62M89.25 393.16L84.08 396.43M140.51 356.37L137.02 358.45M138.25 360.47A147.8 147.8 0 0 1 135.83 356.41M138.25 360.47L90.99 389.67M91.34 390.24A203.36 203.36 0 0 1 90.63 389.09M91.34 390.24L83.33 395.23M90.63 389.09L82.58 394.03M135.83 356.41L130.95 359.21M132.41 361.69A153.43 153.43 0 0 1 129.54 356.7M132.41 361.69L85.55 389.78M85.9 390.37A208.06 208.06 0 0 1 85.19 389.19M85.9 390.37L81.85 392.82M85.19 389.19L81.12 391.61M129.54 356.7L124.31 359.57M125.52 361.73A159.4 159.4 0 0 1 123.13 357.39M125.52 361.73L119.62 365.1M120.34 366.35A166.19 166.19 0 0 1 118.91 363.84M120.34 366.35L88.67 384.77M89.01 385.36A202.83 202.83 0 0 1 88.33 384.19M89.01 385.36L80.41 390.4M88.33 384.19L79.7 389.18M118.91 363.84L113.24 367M113.87 368.13A172.68 172.68 0 0 1 112.61 365.88M113.87 368.13L78.99 387.95M112.61 365.88L86.08 380.44M86.56 381.32A202.95 202.95 0 0 1 85.59 379.55M86.56 381.32L83.22 383.18M83.55 383.78A206.78 206.78 0 0 1 82.88 382.58M83.55 383.78L78.3 386.72M82.88 382.58L77.61 385.49M85.59 379.55L76.94 384.25M123.13 357.39L86.51 376.78M86.82 377.37A200.84 200.84 0 0 1 86.2 376.19M86.82 377.37L76.27 383M86.2 376.19L75.61 381.76M143.01 298.5L136.07 299.4M141.71 323.85A129 129 0 0 1 135.28 274.31M141.71 323.85L120.98 330.81M125.28 342.11A150.86 150.86 0 0 1 117.6 319.21M125.28 342.11L119.35 344.65M123.08 352.73A157.32 157.32 0 0 1 116.08 336.36M123.08 352.73L117.58 355.46M118.54 357.37A163.46 163.46 0 0 1 116.64 353.54M118.54 357.37L80.82 376.7M81.14 377.31A205.84 205.84 0 0 1 80.51 376.09M81.14 377.31L74.96 380.5M80.51 376.09L74.31 379.25M116.64 353.54L111.63 355.95M112.58 357.9A169.02 169.02 0 0 1 110.7 353.98M112.58 357.9L83.38 372.39M83.68 372.98A201.62 201.62 0 0 1 83.08 371.79M83.68 372.98L73.68 377.99M83.08 371.79L73.05 376.72M110.7 353.98L105.46 356.42M106.39 358.38A174.8 174.8 0 0 1 104.56 354.44M106.39 358.38L80.93 370.59M81.22 371.2A203.04 203.04 0 0 1 80.64 369.99M81.22 371.2L72.43 375.45M80.64 369.99L71.82 374.18M104.56 354.44L100.24 356.38M100.98 358.01A179.54 179.54 0 0 1 99.51 354.75M100.98 358.01L86.09 364.88M86.5 365.76A195.93 195.93 0 0 1 85.68 363.99M86.5 365.76L71.22 372.9M85.68 363.99L77.41 367.76M77.69 368.37A205.02 205.02 0 0 1 77.13 367.14M77.69 368.37L70.62 371.62M77.13 367.14L70.04 370.34M99.51 354.75L78.89 363.77M79.3 364.69A202.04 202.04 0 0 1 78.49 362.84M79.3 364.69L69.46 369.05M78.49 362.84L73.57 364.97M73.85 365.6A207.4 207.4 0 0 1 73.3 364.33M73.85 365.6L68.89 367.75M73.3 364.33L68.33 366.46M116.08 336.36L111.35 338.08M113.33 343.27A162.35 162.35 0 0 1 109.55 332.82M113.33 343.27L109.02 344.99M109.49 346.15A166.99 166.99 0 0 1 108.56 343.84M109.49 346.15L81.83 357.49M82.2 358.4A196.89 196.89 0 0 1 81.46 356.58M82.2 358.4L78.16 360.08M78.42 360.69A201.26 201.26 0 0 1 77.91 359.46M78.42 360.69L67.78 365.16M77.91 359.46L67.24 363.85M81.46 356.58L66.71 362.55M108.56 343.84L71.18 358.51M71.44 359.15A207.15 207.15 0 0 1 70.93 357.87M71.44 359.15L66.18 361.24M70.93 357.87L65.67 359.92M109.55 332.82L105.46 334.14M106.81 338.13A166.64 166.64 0 0 1 104.22 330.12M106.81 338.13L102.4 339.68M103.62 343.03A171.32 171.32 0 0 1 101.25 336.31M103.62 343.03L72.28 354.8M72.65 355.75A204.79 204.79 0 0 1 71.93 353.84M72.65 355.75L65.16 358.6M71.93 353.84L69.69 354.67M69.93 355.32A207.18 207.18 0 0 1 69.45 354.03M69.93 355.32L64.66 357.28M69.45 354.03L64.17 355.96M101.25 336.31L96.65 337.83M97.39 340.02A176.17 176.17 0 0 1 95.94 335.62M97.39 340.02L92.21 341.8M93.02 344.11A181.64 181.64 0 0 1 91.43 339.48M93.02 344.11L63.69 354.63M91.43 339.48L87.39 340.81M87.76 341.91A185.89 185.89 0 0 1 87.04 339.71M87.76 341.91L83 343.5M83.35 344.55A190.91 190.91 0 0 1 82.65 342.45M83.35 344.55L76.86 346.77M77.18 347.7A197.78 197.78 0 0 1 76.54 345.84M77.18 347.7L69.97 350.21M70.2 350.85A205.4 205.4 0 0 1 69.75 349.56M70.2 350.85L63.22 353.3M69.75 349.56L62.75 351.97M76.54 345.84L62.3 350.63M82.65 342.45L61.85 349.29M87.04 339.71L61.42 347.95M95.94 335.62L60.99 346.6M104.22 330.12L98.01 331.96M98.34 333.06A173.11 173.11 0 0 1 97.69 330.85M98.34 333.06L67.91 342.29M68.11 342.94A204.92 204.92 0 0 1 67.71 341.64M68.11 342.94L60.57 345.25M67.71 341.64L60.16 343.9M97.69 330.85L71.93 338.3M72.11 338.93A199.93 199.93 0 0 1 71.75 337.66M72.11 338.93L59.76 342.55M71.75 337.66L59.37 341.19M117.6 319.21L113.21 320.3M113.8 322.58A155.38 155.38 0 0 1 112.66 318.01M113.8 322.58L82.66 330.82M83.02 332.18A187.59 187.59 0 0 1 82.3 329.47M83.02 332.18L71.49 335.32M71.76 336.28A199.54 199.54 0 0 1 71.23 334.36M71.76 336.28L58.99 339.83M71.23 334.36L69.3 334.88M69.47 335.53A201.54 201.54 0 0 1 69.13 334.23M69.47 335.53L58.61 338.47M69.13 334.23L58.25 337.11M82.3 329.47L57.89 335.74M112.66 318.01L106.15 319.53M106.63 321.56A162.07 162.07 0 0 1 105.69 317.5M106.63 321.56L69.51 330.7M69.67 331.34A200.3 200.3 0 0 1 69.36 330.05M69.67 331.34L57.54 334.37M69.36 330.05L57.21 333M105.69 317.5L100.74 318.58M101.01 319.8A167.14 167.14 0 0 1 100.47 317.36M101.01 319.8L72.43 326.29M72.65 327.24A196.45 196.45 0 0 1 72.21 325.33M72.65 327.24L65.42 328.92M65.57 329.58A203.87 203.87 0 0 1 65.27 328.26M65.57 329.58L56.88 331.63M65.27 328.26L56.56 330.25M72.21 325.33L56.25 328.87M100.47 317.36L66.51 324.54M66.65 325.2A201.85 201.85 0 0 1 66.38 323.89M66.65 325.2L55.95 327.5M66.38 323.89L55.65 326.11M135.28 274.31L128.29 273.85M128.85 297.98A136 136 0 0 1 132.02 250M128.85 297.98L101.46 301.06M103.02 311.73A163.56 163.56 0 0 1 100.61 290.31M103.02 311.73L96.36 312.93M96.9 315.81A170.33 170.33 0 0 1 95.86 310.04M96.9 315.81L63.71 322.36M63.84 323.03A204.16 204.16 0 0 1 63.58 321.7M63.84 323.03L55.37 324.73M63.58 321.7L55.1 323.35M95.86 310.04L89.79 311.02M90.04 312.54A176.49 176.49 0 0 1 89.55 309.5M90.04 312.54L83.56 313.65M83.79 314.99A183.06 183.06 0 0 1 83.33 312.3M83.79 314.99L66.58 318.07M66.76 319.05A200.55 200.55 0 0 1 66.4 317.08M66.76 319.05L59.41 320.4M59.54 321.08A208.01 208.01 0 0 1 59.29 319.72M59.54 321.08L54.83 321.96M59.29 319.72L54.58 320.57M66.4 317.08L54.33 319.18M83.33 312.3L61.26 315.9M61.37 316.58A205.43 205.43 0 0 1 61.15 315.23M61.37 316.58L54.1 317.79M61.15 315.23L53.87 316.39M89.55 309.5L53.65 315M100.61 290.31L95.86 290.53M96.48 299.11A168.32 168.32 0 0 1 95.69 281.93M96.48 299.11L91.05 299.64M91.62 304.7A173.77 173.77 0 0 1 90.63 294.56M91.62 304.7L86.8 305.32M87.17 308.07A178.63 178.63 0 0 1 86.47 302.56M87.17 308.07L62.02 311.66M62.12 312.33A204.03 204.03 0 0 1 61.92 310.99M62.12 312.33L53.44 313.6M61.92 310.99L53.24 312.2M86.47 302.56L82.02 303.05M82.29 305.39A183.11 183.11 0 0 1 81.77 300.71M82.29 305.39L70.33 306.88M70.45 307.84A195.16 195.16 0 0 1 70.21 305.91M70.45 307.84L62.75 308.84M62.84 309.51A202.93 202.93 0 0 1 62.67 308.17M62.84 309.51L53.05 310.81M62.67 308.17L52.87 309.41M70.21 305.91L52.7 308M81.77 300.71L76.2 301.26M76.37 302.97A188.71 188.71 0 0 1 76.03 299.55M76.37 302.97L69.48 303.71M69.58 304.68A195.65 195.65 0 0 1 69.37 302.75M69.58 304.68L52.54 306.6M69.37 302.75L60.28 303.68M60.35 304.35A204.78 204.78 0 0 1 60.22 303M60.35 304.35L52.38 305.2M60.22 303L52.24 303.79M76.03 299.55L63.62 300.65M63.68 301.32A201.17 201.17 0 0 1 63.56 299.99M63.68 301.32L52.1 302.39M63.56 299.99L51.98 300.98M90.63 294.56L84.28 294.99M84.43 297A180.13 180.13 0 0 1 84.15 292.97M84.43 297L51.86 299.57M84.15 292.97L78.81 293.28M78.89 294.66A185.49 185.49 0 0 1 78.73 291.89M78.89 294.66L65.79 295.5M65.86 296.48A198.61 198.61 0 0 1 65.73 294.51M65.86 296.48L62.09 296.74M62.13 297.41A202.4 202.4 0 0 1 62.04 296.07M62.13 297.41L51.76 298.17M62.04 296.07L51.66 296.76M65.73 294.51L51.57 295.35M78.73 291.89L59.65 292.83M59.69 293.51A204.59 204.59 0 0 1 59.62 292.15M59.69 293.51L51.49 293.94M59.62 292.15L51.42 292.53M95.69 281.93L88.84 281.89M88.91 287.87A175.17 175.17 0 0 1 88.97 275.92M88.91 287.87L69.26 288.44M69.33 290.41A194.82 194.82 0 0 1 69.22 286.46M69.33 290.41L51.36 291.12M69.22 286.46L65 286.54M65.05 288.6A199.03 199.03 0 0 1 64.97 284.47M65.05 288.6L58.36 288.79M58.38 289.48A205.73 205.73 0 0 1 58.34 288.11M58.38 289.48L51.31 289.71M58.34 288.11L51.27 288.29M64.97 284.47L60.61 284.51M60.63 286.03A203.39 203.39 0 0 1 60.61 282.99M60.63 286.03L58.63 286.06M58.65 286.74A205.39 205.39 0 0 1 58.62 285.38M58.65 286.74L51.24 286.88M58.62 285.38L51.22 285.47M60.61 282.99L58.61 282.99M58.61 284.02A205.39 205.39 0 0 1 58.61 281.97M58.61 284.02L51.2 284.06M58.61 281.97L56.61 281.96M56.61 282.65A207.39 207.39 0 0 1 56.61 281.28M56.61 282.65L51.2 282.65M56.61 281.28L51.21 281.24M88.97 275.92L73.26 275.3M73.19 277.44A190.89 190.89 0 0 1 73.35 273.17M73.19 277.44L67.13 277.27M67.09 279.07A196.94 196.94 0 0 1 67.19 275.47M67.09 279.07L65.09 279.03M65.08 280.02A198.94 198.94 0 0 1 65.11 278.04M65.08 280.02L51.22 279.82M65.11 278.04L57.18 277.85M57.16 278.53A206.88 206.88 0 0 1 57.2 277.16M57.16 278.53L51.25 278.41M57.2 277.16L51.28 277M67.19 275.47L58.14 275.14M58.11 275.82A206.01 206.01 0 0 1 58.16 274.45M58.11 275.82L51.32 275.59M58.16 274.45L51.37 274.18M73.35 273.17L59.61 272.47M59.58 273.15A204.65 204.65 0 0 1 59.65 271.8M59.58 273.15L51.44 272.77M59.65 271.8L51.51 271.36M132.02 250L113.76 245.46M111.34 257.1A154.81 154.81 0 0 1 117.07 234.04M111.34 257.1L104.43 255.94M102.81 268.63A161.81 161.81 0 0 1 107.05 243.42M102.81 268.63L96.82 268.1M96.52 272.11A167.82 167.82 0 0 1 97.22 264.1M96.52 272.11L64.13 270.04M64.09 270.7A200.28 200.28 0 0 1 64.17 269.38M64.09 270.7L51.59 269.95M64.17 269.38L51.68 268.54M97.22 264.1L90.54 263.35M90.33 265.4A174.54 174.54 0 0 1 90.79 261.3M90.33 265.4L83.53 264.72M83.35 266.6A181.38 181.38 0 0 1 83.73 262.85M83.35 266.6L64.46 264.9M64.33 266.39A200.34 200.34 0 0 1 64.6 263.41M64.33 266.39L62.34 266.23M62.26 267.23A202.34 202.34 0 0 1 62.42 265.22M62.26 267.23L60.26 267.08M60.21 267.75A204.34 204.34 0 0 1 60.32 266.4M60.21 267.75L51.78 267.13M60.32 266.4L51.89 265.72M62.42 265.22L52 264.32M64.6 263.41L58.5 262.82M58.43 263.5A206.47 206.47 0 0 1 58.57 262.14M58.43 263.5L52.13 262.91M58.57 262.14L52.27 261.5M83.73 262.85L57.91 260M57.83 260.68A207.35 207.35 0 0 1 57.98 259.31M57.83 260.68L52.41 260.1M57.98 259.31L52.57 258.7M90.79 261.3L59.81 257.46M59.72 258.14A205.76 205.76 0 0 1 59.89 256.78M59.72 258.14L52.73 257.29M59.89 256.78L52.91 255.89M107.05 243.42L102.77 242.34M101.36 248.45A166.23 166.23 0 0 1 104.41 236.3M101.36 248.45L95.09 247.12M93.72 254.38A172.64 172.64 0 0 1 96.77 239.92M93.72 254.38L89.64 253.7M89.04 257.62A176.77 176.77 0 0 1 90.34 249.81M89.04 257.62L82.99 256.75M82.75 258.47A182.87 182.87 0 0 1 83.25 255.02M82.75 258.47L53.09 254.49M83.25 255.02L76.78 254.03M76.52 255.74A189.42 189.42 0 0 1 77.05 252.32M76.52 255.74L64.83 254.05M64.73 254.71A201.24 201.24 0 0 1 64.92 253.39M64.73 254.71L53.28 253.09M64.92 253.39L53.49 251.7M77.05 252.32L67.94 250.83M67.78 251.81A198.65 198.65 0 0 1 68.1 249.86M67.78 251.81L61.19 250.77M61.09 251.44A205.32 205.32 0 0 1 61.3 250.1M61.09 251.44L53.7 250.3M61.3 250.1L53.92 248.91M68.1 249.86L54.15 247.51M90.34 249.81L83.51 248.51M83.14 250.53A183.72 183.72 0 0 1 83.91 246.49M83.14 250.53L65.56 247.4M65.44 248.05A201.58 201.58 0 0 1 65.68 246.74M65.44 248.05L54.39 246.12M65.68 246.74L54.63 244.73M83.91 246.49L79.04 245.51M78.77 246.89A188.68 188.68 0 0 1 79.32 244.13M78.77 246.89L66.48 244.51M66.29 245.49A201.2 201.2 0 0 1 66.67 243.53M66.29 245.49L54.89 243.34M66.67 243.53L64.71 243.14M64.58 243.8A203.2 203.2 0 0 1 64.84 242.48M64.58 243.8L55.16 241.96M64.84 242.48L55.43 240.57M79.32 244.13L55.72 239.19M96.77 239.92L90.56 238.33M90.05 240.38A179.05 179.05 0 0 1 91.1 236.28M90.05 240.38L85.89 239.37M85.45 241.22A183.32 183.32 0 0 1 86.35 237.53M85.45 241.22L81.51 240.3M81.2 241.66A187.37 187.37 0 0 1 81.83 238.94M81.2 241.66L74.84 240.23M74.63 241.18A193.89 193.89 0 0 1 75.06 239.29M74.63 241.18L67.64 239.64M67.5 240.29A201.05 201.05 0 0 1 67.78 238.99M67.5 240.29L56.01 237.81M67.78 238.99L56.31 236.43M75.06 239.29L56.63 235.05M81.83 238.94L68.96 235.84M68.8 236.49A200.61 200.61 0 0 1 69.12 235.19M68.8 236.49L56.95 233.68M69.12 235.19L57.28 232.3M86.35 237.53L64.03 231.84M63.86 232.5A206.37 206.37 0 0 1 64.2 231.17M63.86 232.5L57.62 230.93M64.2 231.17L57.97 229.56M91.1 236.28L70.44 230.73M70.27 231.37A200.45 200.45 0 0 1 70.61 230.08M70.27 231.37L58.32 228.2M70.61 230.08L58.69 226.83M104.41 236.3L99.56 234.88M99.21 236.11A171.28 171.28 0 0 1 99.92 233.66M99.21 236.11L69.27 227.63M69.08 228.28A202.4 202.4 0 0 1 69.45 226.98M69.08 228.28L59.07 225.47M69.45 226.98L59.45 224.12M99.92 233.66L67.69 224M67.4 224.98A204.93 204.93 0 0 1 67.99 223.03M67.4 224.98L59.85 222.76M67.99 223.03L66.07 222.44M65.87 223.1A206.93 206.93 0 0 1 66.27 221.79M65.87 223.1L60.25 221.41M66.27 221.79L60.66 220.06M117.07 234.04L111.61 232.22M111.05 233.93A160.56 160.56 0 0 1 112.18 230.52M111.05 233.93L68.55 220.35M68.34 221A205.19 205.19 0 0 1 68.75 219.7M68.34 221L61.08 218.71M68.75 219.7L61.51 217.36M112.18 230.52L91.99 223.56M91.45 225.14A181.93 181.93 0 0 1 92.53 222M91.45 225.14L75.21 219.71M75 220.33A199.05 199.05 0 0 1 75.42 219.08M75 220.33L61.95 216.02M75.42 219.08L62.4 214.68M92.53 222L72.87 215.03M72.54 215.98A202.79 202.79 0 0 1 73.21 214.08M72.54 215.98L70.65 215.32M70.43 215.96A204.79 204.79 0 0 1 70.88 214.68M70.43 215.96L62.85 213.35M70.88 214.68L63.32 212.01M73.21 214.08L63.79 210.68"/>
<path stroke="#3c3c3c" stroke-width="1.0" d="M254.7 276.92A11 11 0 0 1 273.71 287.96M254.7 276.92L139.75 204.25M137.17 208.49A147 147 0 0 1 142.56 199.96M142.56 199.96L140.09 198.27M137.17 202.71A150 150 0 0 1 143.58 193.37M137.17 202.71L98.28 178.15M97.42 179.52A196 196 0 0 1 99.14 176.79M143.58 193.37L139.56 190.39M138.11 192.37A155 155 0 0 1 142.03 187.15M260.51 272.37L258.92 267.63M254.3 270.07A16 16 0 0 1 263.61 266.8M254.3 270.07L252.49 267.69M251.77 268.26A19 19 0 0 1 252.49 267.69M263.61 266.8L263.46 260.81M251.07 265A22 22 0 0 1 275.17 263.84M251.07 265L225.79 230.21M225.79 230.21A65 65 0 0 1 249.8 219.37M228.6 228.29L167.05 133.52M161.65 137.17A178 178 0 0 1 173.59 129.47M275.17 263.84L277.2 260.4M268.49 257.19A26 26 0 0 1 284.35 266.61M268.49 257.19L269.01 254.24M268.49 254.15A29 29 0 0 1 269.53 254.33M284.35 266.61L364.17 203.12M345.76 184.32A128 128 0 0 1 378.55 225.69M345.76 184.32L350.23 178.93M347.89 177.03A135 135 0 0 1 366.84 195.34M366.84 195.34L370.65 192.1M360.35 181.23A140 140 0 0 1 379.72 204.01M378.55 225.69L383.03 223.46M378.77 215.58A133 133 0 0 1 392.47 248.38M378.77 215.58L382.22 213.56M380.37 210.51A137 137 0 0 1 383.98 216.67M392.47 248.38L399.23 246.57M394.7 232.63A140 140 0 0 1 402.28 260.9M394.7 232.63L416.17 224.39M412.47 215.52A163 163 0 0 1 419.43 233.72M412.47 215.52L426.13 209.33M424.46 205.75A178 178 0 0 1 427.72 212.94M419.43 233.72L428.02 231.01M426.97 227.8A172 172 0 0 1 429 234.23M429 234.23L436.68 231.98M435.57 228.37A180 180 0 0 1 437.7 235.6M437.7 235.6L441.56 234.55M440.6 231.13A184 184 0 0 1 442.46 237.99M402.28 260.9L410.18 259.65M408.85 252.42A148 148 0 0 1 411.37 269.16M411.37 269.16L416.35 268.69M414.8 256.93A153 153 0 0 1 416.98 280.54M416.98 280.54L421.98 280.47M421.42 269.26A158 158 0 0 1 421.75 291.69M273.71 287.96L319.63 312.38M326 293.96A63 63 0 0 1 306.72 329.1M326 293.96L368.32 301.57M368.84 298.42A106 106 0 0 1 367.73 304.6M306.72 329.1L310.79 333.51M318.96 324.52A69 69 0 0 1 300.56 341.32M300.56 341.32L303.21 345.56M309.66 341.03A74 74 0 0 1 296.44 349.31M296.44 349.31L299.07 354.7M305.68 351.08A80 80 0 0 1 292.28 357.64M266.81 277.73L269.33 273.18"/>
</g>
<g font-weight="bold" fill="#111" stroke="#111" stroke-width="0.4">
<text font-size="10.2" text-anchor="middle" dy=".35em" transform="translate(207.79 22.81) rotate(347.8)">GI-1</text>
<text font-size="11.0" text-anchor="middle" dy=".35em" transform="translate(373.86 38.35) rotate(24.2)">GI-13</text>
<text font-size="11.2" text-anchor="middle" dy=".35em" transform="translate(520.07 369.97) rotate(108.8)">GI-7</text>
<text font-size="10.4" text-anchor="middle" dy=".35em" transform="translate(101.13 498.15) rotate(217.1)">GI-19</text>
<text font-size="10.8" text-anchor="middle" dy=".35em" transform="translate(67.83 102.41) rotate(312.6)">GVI-1</text>
<text font-size="8" dy=".35em" x="263" transform="translate(264 282.8) rotate(-81.2)">GI-21</text>
<text font-size="8" dy=".35em" x="263" transform="translate(264 282.8) rotate(-52)">GI-12</text>
<text font-size="8" dy=".35em" x="263" transform="translate(264 282.8) rotate(-48.3)">GI-16</text>
<text font-size="8" dy=".35em" x="263" transform="translate(264 282.8) rotate(-39.1)">GI-23</text>
<text font-size="8" dy=".35em" x="263" transform="translate(264 282.8) rotate(-32.4)">GI-14</text>
<text font-size="8" dy=".35em" x="263" transform="translate(264 282.8) rotate(-28.7)">GI-11</text>
<text font-size="8" dy=".35em" x="263" transform="translate(264 282.8) rotate(-25.5)">GI-20</text>
<text font-size="8" dy=".35em" x="263" transform="translate(264 282.8) rotate(-22.8)">GI-9</text>
<text font-size="8" dy=".35em" x="263" transform="translate(264 282.8) rotate(-19.3)">GI-4</text>
<text font-size="8" dy=".35em" x="263" transform="translate(264 282.8) rotate(-17.7)">GI-2</text>
<text font-size="8" dy=".35em" x="263" transform="translate(264 282.8) rotate(-16.3)">GI-8</text>
<text font-size="8" dy=".35em" x="263" transform="translate(264 282.8) rotate(-14.2)">GI-3</text>
<text font-size="8" dy=".35em" x="263" transform="translate(264 282.8) rotate(-11.7)">GI-15</text>
<text font-size="8" dy=".35em" x="263" transform="translate(264 282.8) rotate(-9.7)">GI-27</text>
<text font-size="8" dy=".35em" x="263" transform="translate(264 282.8) rotate(-5.9)">GI-17</text>
<text font-size="8" dy=".35em" x="263" transform="translate(264 282.8) rotate(2.7)">GI-18</text>
<text font-size="8" dy=".35em" x="263" transform="translate(264 282.8) rotate(8.5)">GI-25</text>
<text font-size="8" dy=".35em" x="263" transform="translate(264 282.8) rotate(40)">GI-28</text>
<text font-size="8" dy=".35em" x="263" transform="translate(264 282.8) rotate(53.4)">Kr-Var</text>
<text font-size="8" dy=".35em" x="263" transform="translate(264 282.8) rotate(60.8)">GI-22</text>
<text font-size="7.2" dy=".35em" x="263" transform="translate(264 282.8) rotate(210.3)">GV-1</text>
<text font-size="7.2" dy=".35em" x="263" transform="translate(264 282.8) rotate(211.85)">GII-1</text>
<text font-size="7.2" dy=".35em" x="263" transform="translate(264 282.8) rotate(213.4)">GIV-1</text>
<text font-size="7.2" dy=".35em" x="263" transform="translate(264 282.8) rotate(215)">GIII-1</text>
<text font-size="8" dy=".35em" x="263" transform="translate(264 282.8) rotate(229.6)">GI-26</text>
<text font-size="8" dy=".35em" x="263" transform="translate(264 282.8) rotate(232.5)">GI-24</text>
<text font-size="8" dy=".35em" x="263" transform="translate(264 282.8) rotate(234.6)">GI-10</text>
<text font-size="8" dy=".35em" x="263" transform="translate(264 282.8) rotate(236.2)">GI-5</text>
<text font-size="8" dy=".35em" x="263" transform="translate(264 282.8) rotate(238.7)">GI-6</text>
</g>
</svg></body></html>
